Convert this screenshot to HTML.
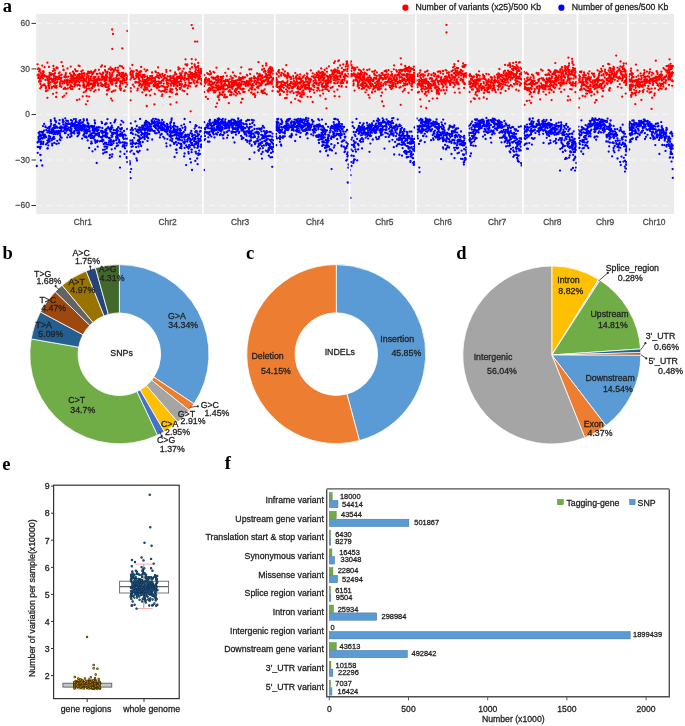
<!DOCTYPE html>
<html><head><meta charset="utf-8"><title>Figure</title><style>
html,body{margin:0;padding:0;background:#fff;width:685px;height:726px;overflow:hidden;}
svg{display:block;}
text{font-family:"Liberation Sans",Arial,sans-serif;}
text.t{fill:#222;stroke:#222;stroke-width:0.28px;}
text.g{fill:#4D4D4D;stroke:#4D4D4D;}
text.pl{font-family:"Liberation Serif","Times New Roman",serif;font-weight:bold;font-size:18.5px;fill:#000;}
</style></head><body>
<svg width="685" height="726" viewBox="0 0 685 726">
<rect width="685" height="726" fill="#fff"/>
<rect x="36.2" y="13.9" width="637.8" height="200.1" fill="#EBEBEB"/>
<line x1="36.2" x2="674" y1="23.4" y2="23.4" stroke="#F7F7F7" stroke-width="1.1" stroke-dasharray="5.5 5.3"/>
<line x1="36.2" x2="674" y1="68.9" y2="68.9" stroke="#F7F7F7" stroke-width="1.1" stroke-dasharray="5.5 5.3"/>
<line x1="36.2" x2="674" y1="114.5" y2="114.5" stroke="#F7F7F7" stroke-width="1.1" stroke-dasharray="5.5 5.3"/>
<line x1="36.2" x2="674" y1="160.0" y2="160.0" stroke="#F7F7F7" stroke-width="1.1" stroke-dasharray="5.5 5.3"/>
<line x1="36.2" x2="674" y1="205.5" y2="205.5" stroke="#F7F7F7" stroke-width="1.1" stroke-dasharray="5.5 5.3"/>
<path d="M37.5 64.3h0M37.7 69.1h0M37.7 75.2h0M38.3 77.9h0M38.5 74.5h0M38.6 76.9h0M38.6 68.3h0M39 71.4h0M39.1 81.7h0M39.5 80.9h0M39.5 69h0M39.6 75.1h0M39.9 78.3h0M39.9 70.1h0M40.1 79.2h0M40.1 78.6h0M40.2 79.7h0M40.2 88.3h0M40.3 72.1h0M40.4 84h0M40.6 80.4h0M40.7 81.4h0M40.8 72.9h0M40.8 77.5h0M40.9 77h0M41.2 86.9h0M41.4 77.7h0M41.7 85.8h0M41.8 75.5h0M41.8 75.2h0M42.3 77.5h0M42.3 65.6h0M42.6 74.4h0M42.8 74h0M42.8 76.6h0M43 78.6h0M43.1 71.9h0M43.2 71.2h0M43.3 85h0M43.3 71.5h0M43.4 74.6h0M43.8 72.1h0M43.9 74.9h0M44.2 84.9h0M44.5 84.5h0M44.6 67.2h0M44.9 76.3h0M45.5 86.1h0M45.5 75.9h0M45.5 80h0M45.9 88.6h0M45.9 91.2h0M46 87.2h0M46.3 76.5h0M47.4 78.5h0M47.4 97.8h0M47.4 76.6h0M47.4 62.7h0M47.5 90.4h0M47.8 80h0M48.3 83.2h0M48.3 85.5h0M48.4 81.5h0M48.5 79.1h0M48.6 80h0M48.9 86.9h0M49 81.3h0M49 66.9h0M49.1 84.6h0M49.2 88.3h0M49.3 77h0M49.5 75.1h0M49.5 75.9h0M49.6 85h0M49.6 72.8h0M49.7 83.1h0M49.7 78.9h0M50 82.2h0M50.3 79.3h0M50.6 74.6h0M50.8 75.2h0M50.8 78.9h0M50.9 73.4h0M51.2 78.4h0M51.2 73.7h0M51.7 87h0M51.7 88h0M51.8 74.5h0M51.9 87h0M52.1 80.8h0M52.2 79.6h0M52.2 81.8h0M52.4 81.7h0M52.9 71.1h0M53.1 93.8h0M53.2 74.1h0M53.4 66h0M53.4 79.1h0M53.5 79.4h0M53.8 75.1h0M53.8 68.8h0M53.8 86.2h0M53.8 78.8h0M53.8 80.4h0M53.9 76.1h0M53.9 78.4h0M54.1 75.5h0M54.2 81.8h0M54.4 79.1h0M54.5 83.3h0M54.5 83.2h0M54.6 80.2h0M54.6 80.3h0M54.9 86.2h0M54.9 70.4h0M55 80.3h0M55.1 87.5h0M55.1 73.2h0M55.1 83.8h0M55.3 76.6h0M55.4 86.9h0M55.5 78.1h0M55.6 78.6h0M56 83h0M56.1 97h0M56.4 68h0M56.5 92.7h0M56.6 79.4h0M56.6 77.3h0M56.6 85.8h0M56.7 87.7h0M56.8 67.4h0M57.3 82h0M57.6 67.9h0M57.7 76.9h0M57.7 79.5h0M58.1 77.3h0M58.6 76.4h0M58.8 73.3h0M58.9 77.6h0M59.5 79.4h0M59.5 79.2h0M59.6 72.5h0M59.6 75.6h0M59.7 86.1h0M59.9 84h0M60.1 78.4h0M60.1 83.9h0M60.2 82.6h0M60.4 85.9h0M60.4 81.9h0M60.5 78h0M61.2 74.8h0M61.3 80.5h0M61.3 86.9h0M61.4 81h0M61.5 62.2h0M61.6 74.8h0M61.7 77.8h0M62.4 83.6h0M62.7 97.1h0M62.8 81.7h0M62.8 66.2h0M63.3 69.8h0M63.7 88.9h0M63.7 70h0M64.3 82.5h0M64.3 76.9h0M64.4 95.7h0M64.5 80.3h0M64.6 83h0M64.9 77.1h0M64.9 80.5h0M64.9 87.6h0M65.3 75.6h0M65.4 77h0M65.5 77.6h0M65.6 75.2h0M65.6 74.7h0M65.7 81.2h0M65.7 88.9h0M65.8 89h0M65.9 73.2h0M66.3 76.9h0M66.3 80.4h0M66.4 93.4h0M66.8 80.8h0M67 80.8h0M67 82.9h0M67.3 85h0M67.5 68.5h0M67.5 79.7h0M67.8 84.5h0M67.8 88.5h0M67.9 85.1h0M68.3 76.8h0M68.3 76.6h0M68.5 82.2h0M69.1 80.6h0M69.3 82.7h0M69.9 87.3h0M70 73.4h0M70.6 78.7h0M70.7 66.6h0M70.8 85.2h0M70.8 81.7h0M70.8 75.8h0M71 82.3h0M71.1 88.9h0M71.2 86.3h0M71.2 80.3h0M71.3 78.9h0M71.3 81.4h0M71.4 75.1h0M71.5 75.1h0M71.5 79h0M71.6 80.7h0M71.6 82.3h0M71.6 77.7h0M71.7 75.6h0M72.2 80.5h0M72.2 78.2h0M72.2 82.7h0M72.4 89h0M72.8 86.6h0M72.9 76.4h0M73 78.2h0M73 71.7h0M73.2 80.5h0M73.6 75.8h0M73.9 73.2h0M73.9 75.1h0M74.2 84.3h0M74.4 81.8h0M74.4 80h0M74.4 86.5h0M74.7 78h0M75 74.9h0M75.1 83.5h0M75.1 69.4h0M75.2 82.4h0M75.2 81.9h0M75.4 82.1h0M75.8 84.8h0M75.9 78.3h0M76.1 80.6h0M76.1 71.2h0M76.4 77.2h0M76.5 77.6h0M76.8 82h0M77 100.1h0M77.1 81.2h0M77.4 85.6h0M77.4 75.2h0M77.4 80.9h0M77.4 71.1h0M77.5 76.5h0M77.6 75.9h0M77.6 79.4h0M78.1 79.5h0M78.3 76.9h0M78.3 75.4h0M78.5 84.8h0M78.6 77.8h0M78.6 65.6h0M78.6 81.2h0M79.2 82.1h0M79.3 84.6h0M79.3 89h0M79.3 73.8h0M79.4 99.4h0M79.5 78.9h0M79.5 77h0M79.6 66.2h0M80 85.8h0M80 74.5h0M80.1 77h0M80.3 78.3h0M80.5 77.8h0M81 80.7h0M81.3 71.4h0M81.4 77h0M81.8 78.6h0M81.9 73.4h0M82.1 75.4h0M82.2 77.9h0M82.7 96.3h0M82.7 70.4h0M82.8 77.6h0M83 81h0M83.1 85.5h0M83.3 82.5h0M83.6 86.6h0M83.6 73.3h0M83.7 79h0M83.7 92.3h0M83.7 80.4h0M83.8 76.8h0M83.9 79.5h0M84.1 86h0M84.1 73.2h0M84.2 84.5h0M84.3 87.6h0M84.5 86.7h0M84.5 80.6h0M84.5 74.8h0M84.6 73.8h0M84.8 79.3h0M85.7 87.3h0M85.7 91.4h0M85.9 104.3h0M86 81.5h0M86.1 90.7h0M86.2 79.8h0M86.5 76.7h0M86.7 96.2h0M86.7 77.8h0M87 85.8h0M87.1 88.8h0M87.1 84.1h0M87.2 73.7h0M87.2 74.5h0M87.6 101.1h0M87.7 73.5h0M87.7 82.3h0M88.1 71.7h0M88.2 77.6h0M88.5 83h0M88.7 75.8h0M88.7 84.8h0M88.7 85.8h0M89 88.7h0M89.1 78.9h0M89.1 80.7h0M89.2 96.6h0M89.2 82.7h0M89.5 72.1h0M89.6 82.8h0M89.7 84.5h0M89.8 73.2h0M90 72.2h0M90.5 78.4h0M90.6 90.4h0M90.6 83.8h0M90.8 76.8h0M91 80.2h0M91.1 71.4h0M91.3 88.2h0M91.4 76.4h0M91.5 83.9h0M91.8 72.6h0M91.9 80.7h0M92.2 74.3h0M92.3 84h0M92.4 88.3h0M92.5 86.6h0M92.6 83.7h0M93 86.1h0M93.2 73.2h0M93.3 72.4h0M93.3 78.5h0M93.4 86.1h0M93.7 80.8h0M93.8 84h0M94 71.7h0M94 78.2h0M94 77.2h0M94.1 82.3h0M94.1 91.6h0M94.2 84.5h0M94.2 86.5h0M94.3 77.9h0M94.6 79.4h0M94.8 84.6h0M94.9 82.2h0M94.9 70.9h0M95 85.5h0M95 77.1h0M95.2 81.2h0M95.2 84h0M95.2 82.4h0M95.4 76.8h0M95.4 69.9h0M95.5 90.2h0M96 79.9h0M96.5 79.6h0M96.6 80.3h0M96.7 80.9h0M96.7 81.7h0M96.8 74h0M97 82.4h0M97.1 80.5h0M97.1 79.7h0M97.2 79.1h0M97.3 80.7h0M97.4 73.9h0M97.6 79.7h0M97.7 78.7h0M97.8 80h0M97.9 85.4h0M98.1 84.4h0M98.4 85.7h0M98.4 78.5h0M98.5 83.7h0M98.5 85.7h0M98.5 78.2h0M98.5 76.6h0M98.8 89.7h0M98.9 69.8h0M99 79.4h0M99.2 80.1h0M99.8 73.3h0M99.8 79.1h0M100.7 82.9h0M101.1 66.7h0M101.1 85.5h0M101.2 79.9h0M101.3 74.4h0M101.5 85.5h0M101.6 79.9h0M101.6 77h0M102 65.4h0M102.3 84.4h0M102.3 79.5h0M102.4 75.4h0M102.4 78.7h0M102.4 86.1h0M102.5 76.8h0M102.8 78.5h0M103 76.6h0M103 72.6h0M103.2 73.3h0M103.3 73.2h0M103.4 77.3h0M103.7 85.4h0M104.3 79.8h0M104.3 77.7h0M104.5 81.3h0M104.8 78.4h0M105 83.7h0M105 70.1h0M105 66.5h0M105.1 81.2h0M105.2 76.6h0M105.3 80.3h0M105.5 71.6h0M105.6 86.2h0M105.7 78.4h0M105.7 86.9h0M105.9 78.1h0M105.9 84.6h0M106 74.9h0M106 83h0M106.2 75.7h0M106.3 78.1h0M106.4 72.5h0M106.5 78.9h0M106.6 72.9h0M106.6 84.1h0M106.7 75.3h0M106.7 80.1h0M106.7 77.6h0M106.9 94.5h0M107 73.3h0M107 90.4h0M107.3 76.8h0M107.4 87.3h0M107.5 71.7h0M108.2 90h0M108.7 84.4h0M108.8 88.2h0M108.9 69.1h0M108.9 86h0M109.3 77.9h0M109.3 81.6h0M109.3 88.9h0M109.5 80.4h0M109.7 74.6h0M109.7 79.5h0M109.7 73h0M109.8 80.5h0M109.9 78.4h0M110.1 80.6h0M110.2 76.4h0M110.5 67.4h0M110.6 76.3h0M110.9 77.2h0M110.9 81.9h0M111 82.7h0M111 69.9h0M111.1 98.6h0M111.2 83.6h0M111.4 78.9h0M111.7 80.7h0M111.8 84.1h0M111.8 91.9h0M111.9 76.2h0M112 74.1h0M112.1 84.7h0M112.1 81.9h0M112.2 75.7h0M112.3 68.8h0M112.3 83.5h0M112.3 100.6h0M112.5 72.6h0M112.7 69.4h0M113.2 80.1h0M113.4 90.9h0M113.5 69.7h0M113.6 79.2h0M113.6 71.6h0M113.8 78.3h0M114 80.2h0M114.4 80.6h0M115 69.5h0M115 69.8h0M115.2 90.4h0M115.5 83.4h0M115.6 67.8h0M116 80.1h0M116.1 85.9h0M116.2 78h0M116.2 78.7h0M116.2 78.6h0M116.4 80.8h0M116.5 79.8h0M116.6 80.7h0M116.6 76.1h0M116.8 82.7h0M116.8 79.7h0M117 78.9h0M117.1 70.5h0M117.1 75.9h0M117.1 78.7h0M117.3 74.9h0M117.5 75.7h0M117.6 71.8h0M117.9 75.1h0M118 67.7h0M118.2 70.3h0M118.3 78.3h0M118.3 80.4h0M118.9 72.9h0M119.1 75.1h0M119.4 78.6h0M119.8 86.5h0M119.9 88.6h0M119.9 86.3h0M119.9 73.6h0M120 73.4h0M120 85.5h0M120 65.9h0M120.1 81.1h0M120.3 75.8h0M120.3 75.6h0M120.4 82.7h0M120.6 81.4h0M120.7 90h0M120.7 83.3h0M121.1 88.4h0M121.5 75.5h0M121.6 77.7h0M121.9 72.8h0M122 66.5h0M122.1 81.7h0M122.3 76h0M122.6 80.3h0M122.6 74.5h0M122.9 76.2h0M122.9 83.7h0M123.1 78h0M123.2 77.7h0M123.3 79.8h0M123.3 72.9h0M123.4 68.2h0M123.8 80.2h0M124 80.1h0M124.1 91h0M124.1 78.8h0M124.2 80.5h0M124.5 90.5h0M124.6 76.4h0M124.7 74.6h0M124.9 82.3h0M125 80.2h0M125.7 74.8h0M125.8 73.6h0M125.8 86.8h0M126.5 79.8h0M126.6 82.8h0M126.7 77.7h0M127 75.3h0M127.2 78.9h0M127.2 84.8h0M127.3 78.2h0M127.5 75.7h0M129.7 73.8h0M129.8 68.6h0M130 74.4h0M130 72.3h0M130.3 79.6h0M130.6 100.3h0M130.7 88.2h0M130.8 91.4h0M130.9 74.5h0M131 71.4h0M131.5 76.5h0M131.5 78.1h0M131.6 70.9h0M131.9 77.2h0M132.4 71.7h0M132.4 65h0M132.6 73.2h0M132.6 72h0M132.7 74.5h0M132.8 84.7h0M132.9 75.8h0M133.5 77.1h0M133.7 71.5h0M134.2 86.6h0M134.2 79.1h0M135.3 82.3h0M135.3 82.6h0M135.4 78.6h0M135.6 81.9h0M136.1 75.7h0M136.4 73.5h0M136.4 70.2h0M136.4 75.5h0M136.8 82.3h0M136.9 77h0M137 75.3h0M137.2 70.7h0M137.4 90.4h0M137.7 76.6h0M137.8 88.7h0M138 74.8h0M138.3 76.3h0M138.3 76h0M138.3 73.9h0M138.4 76.7h0M138.5 82.4h0M138.6 77h0M138.8 72.3h0M139 79.6h0M139 78.8h0M139.1 85.7h0M139.3 72.7h0M139.5 81.9h0M139.6 83.2h0M139.7 81.7h0M139.7 83.9h0M140 80.6h0M140.1 72.3h0M140.2 74.9h0M140.2 71.5h0M140.8 71.3h0M140.9 84.5h0M141 76.9h0M141.2 71.3h0M141.2 67h0M141.3 87.4h0M141.4 87.5h0M141.8 77.2h0M142.2 81.7h0M142.3 85.4h0M142.3 77.8h0M142.3 84.3h0M142.4 92.4h0M142.6 80.1h0M142.7 79.3h0M142.7 76.5h0M142.7 74.9h0M142.8 79.1h0M143.7 81.6h0M143.7 84h0M143.8 89.4h0M144.2 82.9h0M144.3 75h0M144.4 76.9h0M144.5 69.3h0M144.5 81.4h0M144.5 90.4h0M144.6 76h0M144.6 74.9h0M144.7 87h0M144.8 89.5h0M144.9 79.8h0M144.9 76.8h0M145 86.9h0M145.2 82.6h0M145.2 85h0M145.3 87.3h0M145.4 88.1h0M145.6 80.1h0M145.8 83h0M145.9 84.6h0M145.9 95.3h0M145.9 71.3h0M146.3 95h0M146.5 81.9h0M146.8 106h0M146.9 79.2h0M146.9 89.6h0M146.9 80.7h0M147.1 82.4h0M147.2 76.3h0M147.2 87.4h0M147.2 84.9h0M147.3 82.7h0M147.3 69.9h0M147.4 89.5h0M147.5 79.8h0M147.5 85h0M147.5 89.5h0M147.8 77.9h0M147.9 80.8h0M147.9 80.1h0M148.2 80.1h0M148.6 85h0M149 83.1h0M149.3 91.1h0M149.3 83.9h0M149.3 86.2h0M149.4 83.4h0M149.5 78h0M149.6 79.9h0M149.8 79.5h0M150.3 76.2h0M150.3 95.4h0M150.4 79.9h0M150.9 82.6h0M151.2 83h0M151.2 89.7h0M151.3 79.5h0M151.5 76.2h0M151.7 76.9h0M151.7 83h0M151.7 79h0M152 77.4h0M152.1 72.5h0M152.2 75.8h0M152.2 81.7h0M152.4 82h0M152.8 81.6h0M153.2 81.2h0M153.5 85.2h0M153.6 78.2h0M153.7 86.3h0M154.4 104.4h0M154.4 80.5h0M154.5 85.6h0M154.7 83.8h0M154.8 93.9h0M154.9 78.1h0M155.2 82.5h0M155.2 83.1h0M155.2 79.9h0M155.3 81.3h0M155.4 86.3h0M155.5 71.4h0M155.6 84.9h0M155.6 77.1h0M156 72.3h0M156.1 85.8h0M156.1 81.9h0M156.8 86.9h0M156.9 76.6h0M157.1 84.2h0M157.3 88.4h0M157.3 75.1h0M157.7 77.3h0M157.8 87.2h0M158.1 75.8h0M158.1 81.3h0M158.1 67.4h0M158.2 72.9h0M158.2 85.4h0M158.5 83.8h0M158.8 87.1h0M158.8 81.6h0M159.1 82h0M159.1 78.2h0M159.2 81.8h0M159.2 90.4h0M159.5 86.8h0M159.9 74.5h0M160 75.9h0M160.5 83.1h0M160.8 83h0M160.9 83.2h0M161.1 82.1h0M161.2 91.5h0M161.3 77.3h0M161.4 85.8h0M161.6 81.4h0M161.7 96.1h0M161.9 80.9h0M162.2 74.8h0M162.4 94.5h0M162.4 73.8h0M162.9 79.6h0M162.9 86.2h0M162.9 90.9h0M163 75.8h0M163.3 80.7h0M163.7 78.9h0M163.7 83.6h0M163.7 86.5h0M164.4 77.3h0M164.4 87.4h0M164.6 77.2h0M164.7 91.3h0M164.7 87.2h0M164.8 90.1h0M164.9 74.9h0M165 91.7h0M165.4 88.4h0M165.9 78.4h0M166.3 80.8h0M166.3 70h0M166.4 71.9h0M166.5 78.6h0M166.6 78.2h0M166.7 92.1h0M166.8 86.9h0M167 83.8h0M167 83h0M167.1 89.6h0M167.4 87.2h0M167.5 86.7h0M167.6 76.2h0M167.6 79.7h0M167.7 83.8h0M168 83.5h0M168.2 80.4h0M168.3 85.8h0M168.7 83.4h0M169.5 91.4h0M169.7 96.8h0M169.7 76.6h0M170 79.9h0M170.3 79.3h0M170.3 79.9h0M170.3 70.7h0M170.3 80.8h0M170.4 89.2h0M170.5 104.4h0M170.5 78h0M170.5 76h0M170.5 77.7h0M170.7 77.3h0M170.7 80.9h0M170.8 90.1h0M170.9 85.8h0M170.9 91.9h0M171 84h0M171.5 89.4h0M171.5 81.4h0M171.7 82.8h0M172.1 92.6h0M172.1 77.8h0M172.3 77.7h0M172.4 89.5h0M172.5 81.1h0M172.6 77.9h0M172.8 83.5h0M172.9 77.1h0M173.4 80.6h0M173.5 75.7h0M173.5 80.6h0M173.6 82.6h0M173.7 78.8h0M173.7 77.2h0M173.8 80.2h0M173.8 84h0M173.9 85.9h0M174 83.6h0M174.1 84.6h0M174.1 80.3h0M174.1 80.5h0M174.2 81.9h0M174.6 81.3h0M174.8 80.2h0M175.1 72.4h0M175.2 74.4h0M175.3 84.2h0M175.6 78.6h0M175.8 82.7h0M175.8 81.4h0M175.8 82.2h0M175.9 84.3h0M176 88.3h0M176 94.4h0M176.2 79.6h0M176.4 74.1h0M176.5 85.6h0M176.6 77.8h0M176.6 102.4h0M176.6 79h0M176.7 85h0M176.7 81.8h0M176.9 81.1h0M176.9 93.7h0M176.9 79.2h0M176.9 90h0M177.1 94.2h0M177.2 76.7h0M177.2 80.5h0M177.4 79.1h0M177.4 78.3h0M177.4 82.6h0M177.5 86.2h0M178 82.5h0M178.4 82.3h0M178.4 67.5h0M178.4 69.6h0M178.4 82.6h0M178.6 82.1h0M179 77.9h0M179.2 76.4h0M179.3 83.4h0M179.4 85.1h0M179.8 68.6h0M179.9 73.5h0M179.9 88h0M180 89.2h0M180.1 83.9h0M180.2 78h0M180.2 76.2h0M180.3 81.1h0M180.8 88.1h0M180.8 77.8h0M180.9 75.6h0M180.9 79h0M181.3 81.6h0M181.4 75.6h0M181.4 79.1h0M181.4 85.1h0M181.5 78.2h0M181.5 86h0M181.5 73.4h0M181.7 76.1h0M181.9 84.2h0M182.1 77.4h0M182.5 71.4h0M182.6 90.4h0M183.5 78.8h0M183.7 68.7h0M183.9 86.6h0M184 78.8h0M184.1 85.8h0M184.1 78.2h0M184.4 91.2h0M184.6 86.7h0M184.6 80.6h0M184.6 76.8h0M184.6 75.5h0M185 75.1h0M185.1 84.8h0M185.1 73.5h0M185.2 73.2h0M185.4 82.8h0M185.4 78.2h0M185.5 59.3h0M185.5 64.5h0M185.6 72.6h0M186.1 72.9h0M186.2 85.4h0M186.5 79.2h0M187 65.6h0M187 78.8h0M187.3 94.1h0M187.3 64.3h0M187.7 88.2h0M187.8 74.4h0M188.3 85.9h0M188.4 79.9h0M188.4 76.7h0M188.5 78.1h0M188.7 75.1h0M188.7 80.4h0M188.9 76.6h0M189.1 82.6h0M189.1 78.1h0M189.2 83.7h0M189.5 72h0M189.8 83h0M189.9 71.7h0M190 77.9h0M190.1 77.2h0M190.1 68.8h0M190.1 74.9h0M190.2 86.3h0M190.5 72.6h0M190.7 111.3h0M190.9 73.7h0M191.3 77.4h0M191.4 83.1h0M191.6 74.6h0M191.6 76.8h0M191.8 63.6h0M191.9 77.5h0M191.9 73h0M192 67.2h0M192 78.5h0M192.1 79.7h0M192.1 67.5h0M192.8 75.7h0M193 74h0M193.2 76.3h0M193.6 81.7h0M194.1 76.9h0M194.3 80.2h0M194.5 83.4h0M194.5 76.4h0M194.6 64.5h0M194.7 65.4h0M194.8 75h0M195 73.8h0M195.3 71.6h0M195.3 66.8h0M195.4 72.7h0M195.5 77.3h0M195.5 76.8h0M195.6 68h0M195.7 59.6h0M195.7 78.1h0M195.8 86.3h0M195.8 69.9h0M195.9 74.9h0M196.2 73.7h0M196.5 67.3h0M196.5 74h0M196.6 82h0M196.8 85.6h0M196.9 74.6h0M197.2 81h0M197.3 72.6h0M197.4 81.6h0M197.6 76.3h0M197.6 82.7h0M197.9 76.3h0M198 76.8h0M198 70.8h0M198.1 66.5h0M198.1 75.2h0M198.2 79.1h0M198.2 62.9h0M198.3 72.1h0M198.4 70.6h0M198.4 70.6h0M198.4 65.8h0M198.4 68.3h0M198.6 70.2h0M198.7 78.4h0M199.1 79h0M199.1 77.5h0M199.2 74.6h0M199.8 73.4h0M199.9 73.8h0M200 72.1h0M200.2 73.7h0M200.3 76.3h0M200.8 83.1h0M200.8 69h0M200.8 70.4h0M201 78.8h0M201.1 70.9h0M201.1 71.5h0M201.3 73.3h0M201.4 84.3h0M201.5 80.6h0M204.2 86.1h0M204.2 91.9h0M204.3 75.2h0M204.5 81.5h0M204.8 81.9h0M204.9 79.8h0M205 80.7h0M205 81.5h0M205.2 79.1h0M205.3 83.7h0M205.9 96.9h0M206.1 77.9h0M206.8 79.8h0M207 82.1h0M207.3 73.2h0M207.6 90.3h0M207.9 98.9h0M207.9 73.8h0M208 79.9h0M208.2 91.7h0M208.3 84.7h0M208.6 78.8h0M208.6 89.3h0M209 79.2h0M209.2 88.6h0M209.3 74.5h0M209.3 82.6h0M209.3 80.6h0M209.4 87.9h0M209.4 81.7h0M209.7 84.4h0M209.7 88.1h0M209.9 90.2h0M210 71.4h0M210 82h0M210.2 88.3h0M210.2 84.9h0M210.9 74h0M211.1 73.3h0M211.3 86.1h0M211.4 81.5h0M211.6 77.5h0M211.7 84.6h0M211.8 89.4h0M212 88.2h0M212.5 82.6h0M212.8 87.1h0M212.8 90.1h0M213 84.1h0M213.1 77.4h0M213.2 78.8h0M213.2 84.1h0M213.5 71.9h0M213.7 87.3h0M213.9 83.2h0M213.9 90.6h0M214 78.4h0M214 83.5h0M214.1 92.5h0M214.2 87.6h0M214.5 72.6h0M214.7 78.7h0M214.7 82.2h0M214.9 78h0M215.3 92.1h0M215.5 87.7h0M215.9 90.6h0M215.9 106.8h0M215.9 85.2h0M216 80h0M216.4 77.3h0M216.5 77.4h0M216.5 67.7h0M216.8 85.9h0M216.8 83.2h0M216.8 80.2h0M217.1 87.8h0M217.1 103.3h0M217.2 80.8h0M217.5 88.2h0M217.5 80.4h0M217.6 76.1h0M217.6 89.5h0M217.9 96.3h0M217.9 82.7h0M217.9 97h0M218 82.2h0M218 85.8h0M218 81.5h0M218.1 76.7h0M218.3 78.6h0M218.3 85.3h0M218.5 89.9h0M218.6 97.5h0M218.7 95.7h0M218.8 87.9h0M219.2 99.8h0M219.2 87.2h0M219.3 86.8h0M219.6 92.6h0M219.8 92.9h0M219.8 93.3h0M219.8 79.9h0M219.9 94.8h0M219.9 79.7h0M220 88.7h0M220.3 80.5h0M220.3 82.2h0M220.4 79.3h0M220.5 76.9h0M220.6 88.2h0M220.6 89.3h0M220.7 86.3h0M221 88.2h0M221.1 80h0M221.2 84.5h0M221.4 83.8h0M221.4 81.5h0M221.6 86.6h0M221.6 77.6h0M221.7 94.5h0M221.8 82.6h0M221.9 81.1h0M221.9 88.4h0M222 88h0M222 78.8h0M222.3 85.9h0M222.4 95.1h0M222.5 91.8h0M222.6 78.3h0M222.8 89.1h0M222.8 76.6h0M223.2 76.3h0M223.2 85.3h0M223.2 92.4h0M223.2 88.9h0M223.3 86.5h0M223.4 88.2h0M223.6 80.8h0M223.6 91.5h0M224.1 97.2h0M224.4 84h0M224.5 81.3h0M224.7 96.5h0M224.9 94.6h0M224.9 89.4h0M225.1 85.6h0M225.2 83.5h0M225.3 83.3h0M225.3 72.8h0M225.4 80.6h0M225.4 81h0M225.7 97.6h0M225.9 79.9h0M226.5 80.5h0M226.6 80.6h0M226.7 85.1h0M226.8 80.9h0M226.9 75.8h0M227 89.1h0M227 96.9h0M227.1 79.8h0M227.9 80.4h0M228 85.9h0M228.1 87.2h0M228.3 68.8h0M228.4 87.3h0M228.5 91.6h0M228.5 87.4h0M228.7 81.8h0M228.8 103.2h0M228.8 86.9h0M228.9 83h0M229 87.2h0M229.1 84h0M229.1 85h0M229.1 90.8h0M229.2 84.3h0M229.3 91.4h0M229.6 79.4h0M229.9 90.1h0M229.9 86.2h0M230.1 95.2h0M230.4 87.4h0M230.6 92h0M230.7 76.3h0M230.8 85.6h0M231 81.9h0M231.2 94.9h0M231.4 92h0M231.5 85.9h0M231.6 92.7h0M231.8 78.4h0M231.8 87.3h0M231.9 84.1h0M232.2 83.2h0M232.2 85.8h0M232.3 80.5h0M232.3 88.8h0M232.6 82.8h0M232.8 78h0M233 83.6h0M233 72.5h0M233.1 86.7h0M233.1 84.5h0M233.2 80.9h0M233.5 86.1h0M233.7 94.3h0M233.7 83.8h0M233.9 85.5h0M234.2 82h0M234.4 84.4h0M234.5 75.6h0M234.6 91.4h0M234.9 90.1h0M235 80.8h0M235.1 90.4h0M235.2 82.6h0M235.5 84.5h0M235.8 95.6h0M235.8 80.6h0M235.9 76.6h0M235.9 83.2h0M236 92.3h0M236 89h0M236 90.3h0M236.1 85.1h0M236.4 82h0M236.9 88.7h0M237.3 93.8h0M237.3 85h0M237.4 84.4h0M237.4 89h0M237.5 88.6h0M237.6 79.9h0M237.6 84.6h0M237.7 86.8h0M238 87.5h0M238.2 83.1h0M238.3 83.5h0M238.4 85h0M238.8 91.8h0M238.8 86.1h0M239.1 87.5h0M239.1 83.5h0M239.2 77.4h0M239.3 78.5h0M239.3 80.3h0M239.5 83.2h0M239.8 85.6h0M240 93.6h0M240 86.5h0M240 85.7h0M240.2 88.5h0M240.2 84.1h0M240.3 84.2h0M240.3 73.4h0M240.7 80.6h0M240.8 85.8h0M241.1 79.3h0M241.1 102.5h0M241.1 77.9h0M241.2 79.2h0M241.3 67.3h0M241.5 89.6h0M241.5 84h0M241.7 84.2h0M241.8 81.9h0M242.2 99h0M242.3 88.9h0M242.6 98.9h0M242.6 81.7h0M243 77.9h0M243.1 89.6h0M243.2 92h0M243.2 76.9h0M243.4 78.6h0M243.5 77.2h0M243.8 88.6h0M243.9 84.3h0M244.2 81.9h0M244.6 91.9h0M244.7 83.7h0M244.9 83.3h0M245.3 77.3h0M245.9 85.3h0M245.9 85.9h0M245.9 85.3h0M246.1 85.7h0M246.2 82.1h0M246.6 83.9h0M246.8 85.2h0M246.9 74.8h0M246.9 81h0M247.3 84.5h0M247.3 75.6h0M247.4 85.7h0M247.7 82.6h0M248.1 83.1h0M248.5 85.7h0M248.7 84.6h0M248.8 82h0M248.9 90.4h0M249.1 84.5h0M249.3 81h0M249.3 80.8h0M249.3 80.7h0M249.4 69.4h0M249.6 78.6h0M249.6 83.1h0M249.6 83h0M249.6 82.3h0M249.9 79.9h0M249.9 83.9h0M250.1 73.9h0M250.3 88.3h0M250.7 78.6h0M250.9 79.3h0M251 88.4h0M251.1 92.7h0M251.1 79h0M251.2 85.6h0M251.3 69.3h0M251.5 78.1h0M251.6 92.6h0M251.6 84.6h0M251.7 86.1h0M251.7 80.6h0M251.7 81.6h0M251.9 89.7h0M252.3 87.6h0M252.5 85.8h0M252.7 84.1h0M253.2 94.4h0M253.6 85.4h0M253.8 78.2h0M254.1 76.4h0M254.2 81.2h0M254.4 93.6h0M254.4 82.4h0M254.4 78.5h0M254.5 89.3h0M255 97.1h0M255 80.9h0M255.3 89.6h0M255.3 95.3h0M255.3 78h0M256.1 84.2h0M256.9 78.7h0M256.9 82.7h0M257.1 81.8h0M257.1 73.4h0M257.1 87.4h0M257.4 80.8h0M257.7 86.6h0M257.7 92.3h0M258 77.8h0M258.2 76.8h0M258.2 79.5h0M258.3 87.9h0M258.3 78.9h0M258.5 75.3h0M258.5 62.2h0M258.8 76.9h0M258.8 76.9h0M258.8 85.6h0M258.8 82.9h0M258.9 79.5h0M259.5 73.9h0M260 85.7h0M260.1 74.3h0M260.2 75.7h0M260.4 84h0M260.5 75.8h0M260.5 83.3h0M260.5 79.2h0M261.2 80.4h0M261.4 77.4h0M261.5 85.1h0M261.5 91.9h0M261.7 90.4h0M261.9 80.6h0M262 81.5h0M262.1 69.7h0M262.1 75.4h0M262.1 81h0M262.2 83.2h0M262.4 78h0M262.7 81.5h0M262.7 65.8h0M262.8 93.2h0M262.9 77.5h0M263.3 91.2h0M263.9 71.8h0M264 81.8h0M264 68.6h0M264.1 80.3h0M264.4 71.2h0M264.6 89.4h0M264.6 70.6h0M264.6 76.9h0M264.9 93.2h0M265.4 80.6h0M265.5 85.1h0M265.6 71.3h0M265.6 73.6h0M265.8 76.4h0M265.9 73.9h0M266.1 75.2h0M266.2 79.4h0M266.2 65.5h0M266.2 63.4h0M266.3 77.3h0M266.3 84.2h0M266.5 79.5h0M266.7 94.3h0M266.8 76.9h0M266.8 78.5h0M267.3 76h0M267.5 81.7h0M267.6 75.5h0M267.8 83.9h0M268.1 80h0M268.2 79.3h0M268.2 70.5h0M268.3 72.5h0M268.7 74.9h0M268.8 81.7h0M268.8 77.6h0M268.9 71h0M269 68.6h0M269.2 83.6h0M269.6 77.9h0M269.8 75h0M269.8 73.7h0M269.9 75.6h0M269.9 72h0M270 83.6h0M270.2 67.2h0M270.3 82h0M270.4 75.5h0M270.4 72.9h0M270.7 69.5h0M270.8 70.9h0M271 71.2h0M271.1 69h0M271.2 76.8h0M271.2 71.9h0M271.7 67.7h0M271.8 80.3h0M271.9 83.9h0M272.1 81.7h0M272.2 68.5h0M272.3 69.5h0M272.4 78.3h0M272.5 90.9h0M272.6 73.7h0M272.9 70.7h0M273.2 86.8h0M273.3 79.6h0M273.7 78.1h0M276 85.3h0M276 86.5h0M276.1 82.3h0M276.1 82.9h0M276.2 79.5h0M276.3 73.4h0M276.3 81.7h0M276.4 77.9h0M276.6 84.4h0M276.7 83.8h0M276.8 79.5h0M277 84.9h0M277 74.4h0M277.1 83.4h0M277.1 82.1h0M277.2 87.1h0M277.2 83.7h0M277.3 86.9h0M277.5 84h0M277.6 91.3h0M277.6 81.3h0M278.2 71.5h0M278.4 92h0M278.6 71.6h0M278.6 82.1h0M278.8 76.5h0M278.8 87.2h0M279 70.1h0M279.2 87.6h0M279.2 91.4h0M279.3 72.8h0M279.4 88.8h0M279.9 94.9h0M279.9 82.1h0M280 86.1h0M280 87.2h0M280.2 94.1h0M280.4 90.1h0M280.7 88.9h0M280.9 75h0M281.1 89.6h0M281.2 82.5h0M281.3 84.5h0M281.3 75.7h0M281.7 86.8h0M281.7 72.8h0M281.8 82h0M282.1 86.6h0M282.2 91h0M282.7 85.5h0M282.8 69.4h0M282.9 81.4h0M283.2 85h0M283.3 81.8h0M283.6 74h0M283.7 87.8h0M283.9 92h0M284.1 75h0M284.8 71.5h0M284.8 85.1h0M284.8 83h0M285.1 76.3h0M285.1 98.2h0M285.4 75.4h0M285.4 83.7h0M286.1 89.4h0M286.2 83.1h0M286.3 65.2h0M286.4 86.4h0M286.6 76.6h0M286.8 97.8h0M286.9 82.7h0M287.2 78.5h0M287.2 91.9h0M287.2 94.6h0M287.2 82.5h0M287.3 77.2h0M287.4 76.2h0M287.4 87h0M287.6 81.1h0M287.6 91.2h0M287.6 73.1h0M287.7 74.5h0M287.9 75.8h0M288 84.7h0M288.2 85.1h0M288.5 73.9h0M288.7 88.3h0M288.7 75.8h0M288.9 85.4h0M289.2 88.4h0M289.3 88.2h0M289.6 77h0M290 84h0M290.1 85.6h0M290.2 92.2h0M290.6 76.9h0M290.9 77.6h0M290.9 81.8h0M291.1 79.2h0M291.1 102.4h0M291.5 86.9h0M291.6 82.9h0M291.6 83.2h0M291.6 87.1h0M291.7 82.5h0M291.8 88h0M291.9 87.6h0M292 91.1h0M292.6 83.2h0M292.7 88.2h0M292.8 86.9h0M293.2 76.1h0M293.4 84.4h0M293.5 84.3h0M293.7 93h0M293.7 87.2h0M293.7 78.5h0M293.9 81h0M294 83.9h0M294.5 85.3h0M294.9 84h0M295.1 82.1h0M295.2 86.3h0M295.2 98.8h0M295.3 73.1h0M296 78h0M296 85.5h0M296.2 76.5h0M296.3 92.2h0M296.3 77.2h0M296.5 83.6h0M296.6 79.6h0M296.9 95.3h0M296.9 83.9h0M296.9 81.4h0M297 78.7h0M297 81.8h0M297.3 82.3h0M297.4 88.2h0M297.5 74.9h0M297.7 83.6h0M298 86.1h0M298.1 86.7h0M298.2 91.7h0M298.2 89h0M298.3 93.5h0M298.3 83.6h0M298.5 100.3h0M298.5 83.4h0M298.5 91.9h0M298.6 87.1h0M299 88.3h0M299 78.9h0M299.1 93.2h0M299.1 93.4h0M299.2 77.2h0M299.4 82.5h0M299.4 93.6h0M299.5 76.8h0M299.5 93.3h0M299.7 77.9h0M300.1 96.3h0M300.1 83.7h0M300.1 89.4h0M300.2 101.4h0M300.3 93.5h0M300.3 74.4h0M300.7 88.3h0M300.7 82.7h0M300.8 79.7h0M301 80.7h0M301.2 81.9h0M301.2 86.5h0M301.5 94.9h0M301.7 85.4h0M301.8 97.2h0M301.8 78.3h0M301.9 87.7h0M302 87.1h0M302.1 86.4h0M302.1 92.1h0M302.5 91h0M302.8 94.3h0M302.9 81.2h0M303.1 77.1h0M303.2 83.4h0M303.3 90.4h0M303.4 76.3h0M303.5 85.7h0M303.8 92.9h0M303.9 94.6h0M303.9 82.7h0M304.4 75.3h0M304.5 85.9h0M304.5 87.3h0M304.5 85.2h0M304.7 88.5h0M304.7 86.7h0M305.2 82.1h0M305.2 87.7h0M305.5 78.1h0M305.9 89h0M306 79.3h0M306 81.4h0M306.1 85.6h0M306.2 85h0M306.6 85.1h0M306.9 73.5h0M307 87.9h0M307.1 76.3h0M307.1 77.3h0M307.3 85.1h0M307.5 73.8h0M307.6 96.8h0M307.6 81.7h0M307.7 82.3h0M307.9 82.9h0M308 78.2h0M308.1 85.3h0M308.2 84h0M308.2 84.1h0M308.3 83.6h0M308.5 88.9h0M308.7 79.6h0M308.7 83.4h0M308.9 86.1h0M308.9 79.7h0M308.9 87.3h0M309.1 88.5h0M309.2 84.3h0M309.3 83.9h0M309.5 82.4h0M309.7 89.7h0M309.8 91.5h0M310.2 78.7h0M310.3 81.8h0M310.3 81.3h0M310.8 96.9h0M310.8 70.4h0M311.1 88.3h0M311.2 79.5h0M311.3 89.3h0M312 76.6h0M312.5 85.3h0M312.7 102h0M312.7 73.3h0M313.3 76.3h0M313.5 89.9h0M313.5 86h0M313.5 80.9h0M313.7 83.3h0M314 77.3h0M314.2 85.8h0M314.3 92.7h0M314.4 87.1h0M314.4 82.9h0M314.6 78.7h0M314.7 77.5h0M314.8 74.6h0M315.7 80.3h0M315.8 82.7h0M316.1 77.3h0M316.1 82.1h0M316.4 84.2h0M316.4 84.2h0M316.6 76.1h0M316.8 72.8h0M317.1 73.8h0M317.1 90.6h0M317.2 75h0M317.3 87.8h0M317.4 83.3h0M318.2 77.8h0M318.3 88.8h0M318.4 88.2h0M318.4 85.4h0M318.6 71.3h0M318.8 74.8h0M318.8 75.8h0M319 80.2h0M319 80.2h0M319 79.2h0M319 85.1h0M319.2 72.6h0M319.3 83.1h0M319.4 76.2h0M319.7 90.6h0M319.7 78.6h0M319.8 80h0M320.2 72.9h0M320.2 95.7h0M320.5 77.5h0M320.8 76h0M320.8 82.2h0M321.2 73h0M321.2 68.5h0M321.2 75.5h0M321.4 75.9h0M321.4 72.8h0M321.5 78h0M321.5 73.4h0M321.6 77.1h0M321.7 84.4h0M322 86.5h0M322.1 73.7h0M322.1 77h0M322.2 84.3h0M322.3 80.2h0M322.3 71.9h0M322.4 90.3h0M322.4 85.6h0M322.4 76.3h0M322.5 75.6h0M322.5 87.1h0M322.8 86h0M322.8 89.6h0M322.9 72.2h0M323 80.2h0M323.2 93.6h0M323.3 74.3h0M323.3 80.3h0M323.4 82.8h0M323.5 86.9h0M323.7 73.2h0M323.8 78.6h0M323.8 77.8h0M324.2 78h0M324.4 77.5h0M324.5 75.2h0M324.7 70h0M325 86h0M325.1 80.3h0M325.1 74.4h0M325.2 87.8h0M325.4 81.5h0M325.4 89.1h0M325.6 99h0M325.8 84h0M325.9 84h0M326.1 82.3h0M326.2 87.2h0M326.5 108.3h0M326.7 68.3h0M326.8 80.3h0M326.9 84.9h0M326.9 75.9h0M327 71.8h0M327.3 89.5h0M327.5 81.9h0M327.7 77.6h0M327.7 84.1h0M327.7 76.6h0M327.8 86.3h0M327.9 83h0M328 79.8h0M328.1 76.6h0M328.2 78.8h0M328.2 83h0M328.5 81h0M328.8 91h0M328.9 66.4h0M329 81.1h0M329.1 80.4h0M329.6 77h0M329.8 75.1h0M329.9 76.4h0M330.3 82.2h0M330.5 87.8h0M330.7 79.1h0M330.7 82.7h0M330.9 81.2h0M330.9 78h0M331.2 76.5h0M331.4 70.4h0M331.6 78.6h0M331.8 87.6h0M332 74.2h0M332.6 72h0M332.8 86.8h0M332.8 73.8h0M333.4 76h0M333.6 80.1h0M333.6 76h0M333.7 74.7h0M333.7 73.6h0M333.8 70.3h0M333.9 77h0M334 76.9h0M334.1 62.9h0M334.2 83h0M334.3 91.6h0M334.3 78.8h0M334.6 72.2h0M334.7 70.2h0M334.7 96.2h0M334.8 69.5h0M334.9 83.4h0M334.9 61.4h0M335.2 80.3h0M335.5 69.9h0M335.6 77.8h0M335.6 72.1h0M335.6 80.6h0M335.8 75.4h0M336.5 75.8h0M336.5 75.4h0M336.6 71.3h0M336.7 78.4h0M336.8 77.7h0M337.2 83.2h0M337.3 76.4h0M337.3 78.4h0M337.3 70.5h0M337.4 89.7h0M337.5 79.7h0M337.7 72.9h0M337.9 67.8h0M337.9 76.6h0M338.1 82.1h0M338.1 61.1h0M338.6 71.9h0M338.7 71h0M338.9 60.5h0M339 79.6h0M339.1 73.1h0M339.1 85.9h0M339.1 72.1h0M339.2 72.6h0M339.3 96.6h0M339.3 79.7h0M339.7 75.7h0M339.8 76h0M340.1 65.4h0M340.1 75.9h0M340.3 75.4h0M340.5 75.4h0M340.6 83.6h0M340.6 77.2h0M340.7 82.1h0M341 73.5h0M341.5 86.7h0M341.6 80.5h0M341.7 72.5h0M341.8 86h0M341.8 82.9h0M341.9 68.1h0M342 81.5h0M342 73.9h0M342.6 71.8h0M342.8 79.6h0M343.2 83h0M343.3 64.5h0M343.5 76.4h0M343.9 70h0M344 77.3h0M344.3 70.6h0M344.4 80.3h0M344.5 80.6h0M344.8 78.5h0M344.9 76h0M345 76h0M345.2 74.2h0M345.4 69.7h0M345.4 75.2h0M345.8 66.5h0M346.2 75.6h0M346.2 86.9h0M346.4 64.1h0M346.5 61.6h0M347 82.8h0M347.1 61.3h0M347.1 81.5h0M347.2 63h0M347.4 71.2h0M347.6 69h0M347.7 76.4h0M347.9 65.5h0M348 66.8h0M348.3 73.8h0M351.1 74.4h0M351.1 76.3h0M351.4 65.3h0M351.4 70.9h0M351.5 74h0M351.9 68.3h0M352.2 75.7h0M352.5 67.1h0M352.7 75.6h0M352.9 74.8h0M353.2 75.3h0M353.3 68.2h0M353.5 85.4h0M353.5 81.6h0M353.7 80.5h0M353.7 83.8h0M353.7 74.9h0M353.8 73.4h0M354 75.4h0M354.2 75.5h0M354.2 70.4h0M354.2 69.5h0M354.6 68.9h0M354.6 90.6h0M354.7 75.8h0M354.9 67.9h0M355.4 74.3h0M355.4 69.3h0M355.7 79.4h0M355.9 77.2h0M356 80.6h0M356.5 77.7h0M357 75.7h0M357.1 80.5h0M357.2 67.3h0M357.6 86.3h0M357.8 73.5h0M357.9 84.2h0M358 76.6h0M358.1 82.5h0M358.4 78h0M358.6 78h0M358.6 82.8h0M358.7 85.1h0M358.8 82.4h0M358.9 78.4h0M358.9 74h0M358.9 69.7h0M359.1 88h0M359.2 76.1h0M359.5 81.2h0M359.7 78.6h0M359.9 77h0M359.9 74.4h0M360 76.5h0M360.1 78.9h0M360.2 70.3h0M360.3 77.3h0M360.8 79h0M360.9 72.7h0M360.9 85.2h0M361.2 84.2h0M361.2 71.1h0M361.6 80.2h0M361.7 88.9h0M361.7 74.8h0M362 72.6h0M362 83.5h0M362.1 86.4h0M362.6 79.7h0M362.7 77.5h0M362.7 82.7h0M362.8 84.5h0M363 76.6h0M363.1 76.6h0M363.2 88.2h0M363.2 85.7h0M363.2 81.3h0M363.3 83h0M363.4 78.4h0M363.6 76.9h0M363.6 69.5h0M363.6 77.7h0M364 74.7h0M364.1 88.3h0M364.1 83.6h0M364.2 74h0M364.3 87.8h0M364.4 72.6h0M364.5 76.9h0M364.7 79.2h0M365.1 80.7h0M365.2 86.4h0M365.3 86h0M365.4 83h0M365.5 92.3h0M365.7 73.5h0M366.2 85.9h0M366.2 83.7h0M366.6 89.9h0M366.7 79.5h0M366.9 80.5h0M367 74.5h0M367.2 70.1h0M367.4 77.7h0M367.5 85.3h0M367.8 79.5h0M368.1 79.2h0M368.1 81.1h0M368.1 86.7h0M368.1 78.9h0M368.2 87.4h0M368.3 81.3h0M368.5 82.5h0M368.5 95h0M368.8 77.6h0M369.4 69.5h0M369.5 83.1h0M369.5 97.7h0M369.5 76h0M369.6 88.3h0M370 81.1h0M370.1 79.9h0M370.1 84.3h0M370.3 81.7h0M370.4 85.9h0M370.4 84.5h0M370.8 77.8h0M371 86.2h0M371 84.6h0M371 85.3h0M371.1 78.7h0M371.4 83.6h0M371.4 86.2h0M371.9 79.9h0M372 92.6h0M372.1 92.1h0M372.2 80.2h0M372.3 71.6h0M372.7 84.5h0M372.8 80h0M372.9 89.5h0M372.9 81.2h0M373.5 81h0M373.7 79h0M373.8 86.2h0M374 71.6h0M374.2 87.4h0M374.2 73.9h0M374.2 88.1h0M374.3 77.9h0M374.8 75h0M375.1 70.6h0M375.1 83.1h0M375.1 91.4h0M375.2 77.8h0M375.4 86.4h0M375.5 78.4h0M375.9 85.8h0M376 87.6h0M376.1 78.5h0M376.1 86.4h0M376.2 78.9h0M376.2 78h0M376.4 84.8h0M376.6 78.8h0M376.8 75.9h0M376.9 72.4h0M376.9 81.6h0M377.3 83.9h0M377.4 87.6h0M377.4 84.6h0M377.5 82.4h0M377.8 81h0M378 89.7h0M378.3 84.5h0M378.5 83.4h0M378.6 85.5h0M378.6 85.6h0M378.6 80.4h0M378.7 87.6h0M378.9 79.6h0M379 88.1h0M379.1 81h0M379.2 88.2h0M379.3 75.7h0M379.4 78.1h0M379.4 74.8h0M379.4 86.7h0M379.4 89.3h0M379.8 89.3h0M380.2 83.2h0M380.3 76.2h0M380.4 78.1h0M380.5 78.3h0M380.8 88.7h0M380.9 76h0M381 77.9h0M381 84.9h0M381.1 95.8h0M381.2 86.2h0M381.3 82.6h0M381.6 73.2h0M382.1 92.6h0M382.1 101.5h0M382.4 73h0M382.5 73.2h0M382.6 79.6h0M382.6 78.2h0M382.8 74.8h0M383 85.5h0M383 79.4h0M383.6 83.8h0M383.7 106.2h0M384.5 78.6h0M384.5 75.3h0M384.6 71.1h0M384.8 77h0M385.1 75h0M385.2 82.2h0M385.6 89.4h0M385.7 84.6h0M385.9 78.9h0M385.9 84.3h0M386.2 70.5h0M386.4 74.3h0M386.4 82.1h0M386.4 71.5h0M386.5 77.4h0M386.6 71.9h0M387.6 81.8h0M387.8 76.5h0M388 82h0M388.3 80.6h0M388.5 74.3h0M388.6 70.1h0M388.7 79.9h0M389 78.9h0M389.4 85.4h0M389.5 81.6h0M389.7 77.7h0M390 87.3h0M390.1 82.8h0M390.2 86.5h0M390.7 79.2h0M390.8 75.4h0M390.9 78.4h0M390.9 81.8h0M391.2 85.8h0M391.2 89.1h0M391.5 80.1h0M391.5 71.8h0M391.7 81.6h0M391.8 80.5h0M391.8 82.5h0M392.1 86.3h0M392.1 74.2h0M392.1 76.2h0M392.2 88.2h0M392.4 86.8h0M392.4 84.6h0M392.9 84.8h0M393.1 80.2h0M393.1 85.6h0M393.4 78.1h0M393.6 84.1h0M393.6 83.1h0M393.6 85.9h0M393.8 69.3h0M394.1 65.4h0M394.2 78.5h0M394.5 76h0M394.5 76.5h0M394.8 79.6h0M395.1 80.1h0M395.2 81.5h0M395.3 75.2h0M395.7 86.2h0M395.7 84h0M396 75.4h0M396.1 87h0M396.3 70.2h0M396.3 80.6h0M396.6 78h0M396.9 71.5h0M397 79.1h0M397 78.1h0M397.3 81.9h0M397.7 75.6h0M397.7 74.6h0M398 83.2h0M398.8 74.3h0M398.9 72.6h0M399.2 75.2h0M399.2 81.9h0M399.2 72.6h0M399.2 70.2h0M399.4 80.4h0M399.5 87.7h0M399.5 81.5h0M399.5 77.5h0M399.6 70.4h0M399.8 70.9h0M399.9 73.6h0M400.2 80.9h0M400.2 73.1h0M400.5 77.2h0M400.5 82.8h0M400.6 87h0M400.7 58.3h0M400.7 104.8h0M401 70h0M401.2 64.3h0M401.3 76.6h0M401.4 81.4h0M401.8 80.1h0M402 71.2h0M402 74.3h0M402 70.9h0M402.4 80.4h0M402.5 78.1h0M402.6 79.8h0M402.6 69.8h0M402.6 70.7h0M402.7 80.8h0M402.8 91.6h0M402.9 75.1h0M403.1 85.8h0M403.2 78.8h0M403.5 75h0M403.8 83.4h0M403.9 74.4h0M404 75.2h0M404.1 78.5h0M404.1 69.7h0M404.3 80.6h0M404.4 90.1h0M404.8 88.9h0M404.9 69h0M405 79.4h0M405.1 85.3h0M405.2 71.5h0M405.2 68.7h0M405.2 66h0M405.4 83.4h0M405.7 75.5h0M406.2 81.3h0M406.5 70h0M406.5 67.8h0M406.6 77.1h0M406.7 74.1h0M406.8 68.2h0M406.9 74.4h0M407.1 76.3h0M407.2 84.7h0M407.2 79.5h0M407.2 70.1h0M407.4 83.8h0M407.4 74.1h0M407.6 74.5h0M407.7 75.8h0M407.8 71.4h0M407.9 80h0M407.9 68.1h0M408 78.3h0M408.3 70.3h0M408.5 92.8h0M408.5 74.5h0M409 78h0M409 66.8h0M409.1 82h0M409.4 79.8h0M409.5 68.2h0M409.6 71.8h0M409.7 76.6h0M409.7 77.8h0M409.7 83.5h0M409.9 77.9h0M409.9 74.5h0M410.4 69.9h0M410.4 71.4h0M410.5 68.6h0M410.7 74.6h0M410.7 80.7h0M410.8 78.7h0M410.9 68.2h0M411 76.2h0M411.2 69h0M411.3 85.7h0M411.4 79.6h0M411.5 81.4h0M411.5 75.5h0M411.6 81.4h0M411.7 84.4h0M411.7 77.4h0M411.8 89.8h0M411.8 80.3h0M412 86.6h0M412.1 83.5h0M412.4 77.5h0M412.4 82.2h0M412.8 79.3h0M412.9 76h0M413 74.8h0M413 75h0M413.1 81.6h0M413.1 68.9h0M413.1 75.6h0M413.1 81.1h0M413.6 70.1h0M413.7 79.8h0M413.8 66.7h0M414.1 73h0M414.1 78.3h0M414.2 80.5h0M414.2 82.4h0M414.3 82.2h0M414.3 79.3h0M414.3 70.2h0M414.5 76.8h0M414.6 78.3h0M414.6 75.5h0M414.8 79.7h0M416.8 85.1h0M416.8 80.5h0M417.3 84.5h0M417.5 87.2h0M417.7 74.5h0M417.9 76.3h0M417.9 92.5h0M418.6 83.5h0M418.8 84.8h0M419 91.8h0M419.1 81.8h0M419.2 79.9h0M419.2 82.5h0M419.3 80.2h0M419.6 72.8h0M420.1 85.4h0M420.1 75.7h0M420.3 70.5h0M420.3 99.4h0M420.5 84.2h0M420.7 75.2h0M420.8 81h0M420.8 86.4h0M420.8 74.8h0M420.8 77.9h0M421 106.6h0M421 78.2h0M421.1 84h0M421.3 81.8h0M421.4 89.6h0M421.6 79.9h0M421.7 82h0M421.7 88.3h0M421.9 84.9h0M422.1 74.9h0M422.2 74.3h0M422.2 91.5h0M422.2 80.1h0M422.3 84.7h0M422.4 85.9h0M423.1 81.7h0M423.1 74.5h0M423.1 80h0M423.1 88.5h0M423.2 86h0M423.2 80.5h0M423.3 76.8h0M423.5 83.5h0M423.7 82.3h0M423.9 81.8h0M424.4 79.5h0M424.7 93.9h0M424.8 75.3h0M424.8 81.4h0M424.9 83.2h0M424.9 89.4h0M425 81.7h0M425.2 72h0M425.4 86.7h0M425.6 92.6h0M425.7 80.8h0M425.7 83.1h0M425.7 83.6h0M425.9 92h0M425.9 80.9h0M426.1 79.7h0M426.3 108h0M426.3 82.5h0M426.4 79h0M426.4 88.5h0M426.5 95.5h0M427.2 82.9h0M427.2 71.2h0M427.3 81.4h0M427.5 70.6h0M427.7 81.6h0M427.8 84.8h0M427.9 88h0M427.9 75.5h0M428.2 91.2h0M428.2 87.1h0M428.4 86h0M428.4 81.9h0M428.4 83.3h0M428.5 92h0M428.6 90.3h0M428.7 73.8h0M428.7 83.1h0M429 83.6h0M429.1 85.6h0M429.2 101.1h0M429.6 88h0M429.6 85h0M429.8 78.8h0M429.9 83.8h0M430 78.5h0M430.5 84.7h0M430.7 86.2h0M430.9 78.2h0M431.1 84.4h0M431.1 88.5h0M431.3 74.7h0M431.3 84.9h0M431.4 81.3h0M431.6 75.2h0M431.7 91.1h0M431.7 85.6h0M431.9 78.3h0M432 85.5h0M432.1 79.3h0M432.7 98.6h0M433.1 85.2h0M433.1 85.3h0M433.2 81.1h0M433.3 82.9h0M433.6 73.5h0M433.6 81.4h0M433.7 73.7h0M433.7 82.5h0M433.8 73.3h0M434 83.9h0M434.1 76.1h0M434.4 82.1h0M434.7 73.7h0M434.8 87.4h0M435.1 85.4h0M435.2 80.5h0M435.3 88.2h0M435.4 74.3h0M435.5 83.7h0M436 79.5h0M436.6 76.5h0M436.7 78.9h0M436.7 86.5h0M436.8 89.9h0M436.8 91.8h0M436.9 87.4h0M436.9 93.6h0M437 86.7h0M437.2 98.3h0M437.6 89.8h0M437.8 91.2h0M437.8 81h0M437.8 71.8h0M437.9 87.2h0M438.1 82.6h0M438.2 82.2h0M438.3 75.7h0M438.5 76.9h0M438.7 84.3h0M438.7 76.5h0M438.8 92.8h0M438.8 77.1h0M439 71.3h0M439 94.1h0M439.1 89.7h0M439.1 89.3h0M439.2 88.7h0M439.6 80.9h0M439.9 80.7h0M440.3 71.4h0M440.6 73.1h0M441 79.4h0M441 81.8h0M441.1 77.3h0M441.1 78.6h0M441.1 90.3h0M441.3 77.1h0M441.5 83.8h0M441.9 81.4h0M442.1 81.6h0M442.3 84.1h0M442.4 84.4h0M442.5 80.3h0M442.6 81.3h0M442.8 87.6h0M443 71.1h0M443 70.8h0M443.1 71.1h0M443.2 73.8h0M443.2 81h0M443.3 85.8h0M443.4 86.2h0M443.5 90.3h0M443.5 82.2h0M443.8 90.1h0M443.8 79.7h0M444.3 78.7h0M444.4 83.2h0M444.6 83.2h0M444.6 80.5h0M445.1 76.7h0M445.1 93.5h0M445.6 70.2h0M445.7 84.8h0M445.7 83.3h0M445.9 82.5h0M446.2 80.8h0M446.3 78.4h0M446.4 76.5h0M446.4 81.4h0M446.5 70.6h0M446.5 90.1h0M446.6 78h0M446.6 79.3h0M446.7 87.2h0M446.8 87.6h0M446.9 78.8h0M447.1 72.9h0M447.2 77.1h0M447.5 79.7h0M447.9 80.8h0M448.3 81.6h0M448.5 81h0M448.7 75h0M448.8 72.5h0M448.9 75.5h0M449.1 82.3h0M449.1 75.2h0M449.2 72.6h0M449.3 77.7h0M449.4 76.5h0M449.7 81.2h0M449.7 77.5h0M450.1 85.1h0M450.1 83.9h0M450.4 78.5h0M450.4 80.9h0M450.9 80.4h0M451.4 82.3h0M451.5 74.9h0M451.5 71.3h0M451.8 82.6h0M451.8 75.7h0M452 79.6h0M452.1 75.6h0M452.2 70.8h0M452.3 75.5h0M452.4 77.6h0M452.9 82.5h0M453 70.3h0M453.1 67.4h0M453.6 87.1h0M453.7 73.1h0M453.9 77.2h0M454.1 83.2h0M454.3 66.3h0M454.3 73.1h0M454.4 64.2h0M454.4 80.4h0M454.5 78.5h0M454.6 84.2h0M454.8 92.6h0M454.9 85.1h0M454.9 77.5h0M455.2 69.2h0M455.2 72.6h0M455.3 70.1h0M455.6 74.7h0M455.7 71h0M456 75.8h0M456.2 82.2h0M456.2 72.4h0M456.2 75.4h0M456.7 79.3h0M456.8 81h0M457 67.9h0M457.2 83.8h0M457.2 79.3h0M457.4 72.5h0M457.4 71.1h0M457.5 73.2h0M457.5 82.9h0M457.8 68.3h0M457.8 75h0M458.1 82.4h0M458.1 68.1h0M458.2 61.1h0M458.7 84.2h0M458.7 88.7h0M458.8 74.7h0M458.9 77.3h0M459.3 72.3h0M459.5 73h0M459.7 92.7h0M460.1 71.7h0M460.1 72.8h0M460.3 80.1h0M460.8 70h0M461 73.3h0M461 75.5h0M461 72.5h0M461.1 79h0M461.2 79h0M461.6 75.3h0M462.4 80.3h0M462.5 66.5h0M462.6 73.7h0M462.7 71.1h0M462.8 81.8h0M463 67.1h0M463.1 63.5h0M463.3 80.1h0M463.6 66.2h0M463.6 77.7h0M463.7 76.6h0M463.9 74.4h0M464 75.1h0M464.1 75.7h0M464.1 73.8h0M464.2 67h0M464.2 87.9h0M464.2 83.8h0M464.3 82.9h0M464.5 74.1h0M464.6 75.1h0M464.7 73.6h0M464.8 65.2h0M464.8 75.6h0M465 83.9h0M465.2 73.5h0M465.2 65.8h0M465.8 65.1h0M465.9 76.6h0M466.1 75.4h0M466.4 74.6h0M466.4 73.1h0M466.4 77.2h0M468.7 81.6h0M468.9 84h0M469 82.3h0M469.1 75.3h0M469.5 92h0M469.9 76.4h0M470 74.1h0M470 81.3h0M470 84.4h0M470.2 86.8h0M470.9 83.1h0M470.9 101.6h0M470.9 79.1h0M470.9 87.5h0M471 79.3h0M471 82.6h0M471.1 75.9h0M471.6 86.6h0M471.9 80.1h0M472 76.7h0M472 89.6h0M472.1 78.8h0M472.5 84h0M472.7 86.1h0M472.9 89.5h0M473 80.8h0M473.2 84.5h0M473.2 83.3h0M473.5 77.2h0M473.8 98.4h0M473.9 76.5h0M473.9 83h0M474 81.9h0M474.1 83.8h0M474.2 82.2h0M474.3 76.6h0M474.5 85.8h0M474.5 86.3h0M474.9 98.9h0M474.9 80.2h0M474.9 82.3h0M475.1 82.8h0M475.3 83.2h0M475.4 94.3h0M475.6 80.3h0M475.6 86.2h0M475.6 80.5h0M475.7 84.9h0M475.7 87.2h0M475.8 92.5h0M476.3 74.5h0M476.4 82.8h0M476.6 80.5h0M476.6 88.1h0M476.7 79.6h0M477 81.2h0M477.1 95.6h0M477.1 76.2h0M477.1 77.6h0M477.1 88.9h0M477.2 91.2h0M477.2 80.5h0M477.4 83.7h0M478.3 74.9h0M478.4 90.5h0M478.4 83.5h0M478.6 79.5h0M478.7 80.7h0M478.9 90.2h0M478.9 91.3h0M478.9 85.9h0M479.1 71.3h0M479.2 87.9h0M479.3 98.5h0M479.7 78.6h0M479.7 80.9h0M479.8 75.8h0M480.2 87.5h0M480.2 87.5h0M480.6 79.2h0M480.8 85.2h0M481 84h0M481.5 89.9h0M481.6 88.5h0M481.6 88.6h0M481.7 87.7h0M482.5 88.5h0M482.7 86.3h0M482.7 86.5h0M482.8 78.5h0M483 74.7h0M483.2 86.6h0M483.4 76h0M483.7 82.1h0M483.7 97.5h0M483.8 83.4h0M483.9 93h0M484.1 78.8h0M484.3 88h0M484.4 76.2h0M484.5 77.1h0M484.6 87.9h0M484.7 90.6h0M484.9 79h0M484.9 90h0M485.5 85.4h0M485.6 79.3h0M486.1 85.5h0M486.3 80.7h0M486.4 73.8h0M486.4 82.7h0M486.4 80.7h0M486.9 98.8h0M486.9 90.7h0M487 83.6h0M487 84.4h0M487.1 81.4h0M487.1 84.2h0M487.1 87.9h0M487.4 87.8h0M487.4 84h0M487.5 89.4h0M487.6 92.1h0M487.6 82.9h0M487.7 84.5h0M487.8 81.1h0M488 87.3h0M488.3 85h0M488.5 89.3h0M488.6 86.3h0M488.6 79.4h0M488.8 74.4h0M488.9 85.6h0M489.2 81.5h0M489.2 88.1h0M489.2 92.2h0M489.4 87.1h0M490.4 85h0M490.5 85.4h0M490.6 88.1h0M490.6 82.6h0M490.8 77.2h0M490.9 86.6h0M491.3 81.2h0M491.3 80.2h0M491.4 77.8h0M491.8 79.7h0M492 77.7h0M492.1 82.8h0M492.3 90.3h0M492.8 89.1h0M492.9 85.6h0M493 88.5h0M493.5 87.1h0M493.6 84h0M493.6 83h0M493.8 85.1h0M493.8 80.9h0M494.1 87.9h0M494.1 88.2h0M494.2 85.8h0M494.3 89.2h0M494.5 76.4h0M494.7 77.7h0M494.7 90h0M494.9 79.9h0M495 90.3h0M495 80.4h0M495.2 82.4h0M495.4 82.1h0M495.7 92.2h0M496.2 81.1h0M496.2 81.1h0M497 74.7h0M497.1 81.3h0M497.5 82.1h0M497.5 85.8h0M497.6 78.8h0M497.6 77.3h0M497.6 77.6h0M497.8 76.7h0M497.9 82.6h0M498.2 89.5h0M498.5 81.1h0M498.5 73.5h0M498.8 74.6h0M498.9 85.3h0M498.9 85h0M498.9 73.7h0M498.9 76.7h0M499 86.9h0M499.1 77.6h0M499.3 76h0M499.4 69h0M499.4 83.7h0M499.5 82.8h0M499.6 74.6h0M499.9 86.4h0M500 76.2h0M500 83.9h0M500.2 84.6h0M500.5 79.5h0M500.6 93h0M500.8 75.7h0M501.2 84.6h0M501.3 89.3h0M501.4 84.2h0M501.5 81h0M501.7 81.1h0M501.8 74.9h0M501.8 88.3h0M501.9 80.3h0M502.4 81.9h0M502.4 77.3h0M502.6 80h0M502.7 76h0M502.7 86.9h0M502.9 82h0M503.2 84.3h0M503.7 73.1h0M503.9 71.9h0M504 78.5h0M504.4 74.8h0M504.4 79.9h0M504.6 82.2h0M504.6 71h0M504.7 79.1h0M505 70.8h0M505.1 64.9h0M505.1 84.8h0M505.2 75h0M505.3 80h0M505.4 75.9h0M505.6 90.9h0M505.9 74.5h0M505.9 82.6h0M506.1 76.1h0M506.1 75.3h0M506.3 72.9h0M506.4 77.4h0M506.7 75.6h0M506.8 78.9h0M507.2 85.6h0M507.4 80.4h0M507.6 79.6h0M507.8 78.6h0M507.8 75.8h0M507.9 75.4h0M508 70.7h0M508 65.5h0M508.2 82.3h0M508.2 75.6h0M508.2 74h0M508.6 77.6h0M508.7 72.4h0M508.7 88.8h0M508.9 72.3h0M509 77.2h0M509.2 86.5h0M509.3 77.3h0M509.5 72.7h0M509.6 76.3h0M509.6 64.1h0M509.7 63.2h0M509.7 73.9h0M509.8 77.3h0M509.9 71.6h0M510.2 67.1h0M510.2 65.2h0M510.3 73.3h0M510.4 80h0M510.4 66.6h0M510.8 85.1h0M510.9 76.1h0M511 74.4h0M511 71.9h0M511.4 77.9h0M512.1 73.3h0M512.1 69h0M512.3 86.3h0M512.4 78.7h0M512.5 69.5h0M512.7 72.8h0M512.8 66.1h0M513.1 77.6h0M513.2 63h0M513.2 74.5h0M513.3 70.4h0M513.7 75.9h0M513.8 74h0M514 84h0M514 75.9h0M514 68.8h0M514.1 67.1h0M514.1 68.5h0M514.4 75.4h0M514.6 76.8h0M514.8 84.5h0M515 67.2h0M515.1 75.1h0M515.4 80.2h0M515.6 79.9h0M515.8 78.7h0M515.9 75.1h0M516 69.2h0M516.1 82.5h0M516.1 68.2h0M516.1 62.2h0M516.2 89.7h0M516.2 73.6h0M516.4 80.8h0M516.5 65.1h0M516.9 72.9h0M516.9 78.1h0M516.9 76.6h0M517 78.4h0M517.1 71.6h0M517.2 70.8h0M517.3 81.3h0M517.3 84.2h0M517.4 66.5h0M517.5 71.6h0M517.6 81.3h0M517.8 68.1h0M517.8 67.1h0M517.9 71.2h0M518.3 71h0M518.6 77h0M518.7 90.7h0M518.8 70h0M518.9 78.6h0M518.9 62.7h0M519.3 76.5h0M519.4 70.9h0M519.5 78.5h0M519.5 82.4h0M519.7 77.2h0M519.7 62.2h0M519.7 74.1h0M519.8 85.5h0M520.1 84.8h0M520.2 67.6h0M520.6 79.1h0M520.7 73.8h0M520.9 74.5h0M520.9 78.9h0M520.9 74h0M521.1 83.6h0M521.4 72.6h0M521.6 68.9h0M521.7 79.6h0M523.9 71.8h0M524 88.3h0M524 83.1h0M524.1 79.1h0M524.1 84.4h0M524.6 104.8h0M524.8 86.6h0M525 88h0M525 88.9h0M525.3 81.5h0M525.3 82.8h0M525.5 87.5h0M525.6 73.4h0M525.8 83.9h0M526.6 72.7h0M526.7 84.5h0M526.8 81.2h0M526.9 84.7h0M526.9 100.9h0M526.9 88.4h0M526.9 90.1h0M527 88.2h0M527.2 78.5h0M527.4 77.9h0M527.7 77.7h0M527.7 90.2h0M528 74.2h0M528.2 80.1h0M528.6 88.2h0M528.8 84.2h0M529.3 90.1h0M529.5 100.6h0M529.7 94.3h0M529.7 91.5h0M529.8 79.1h0M529.8 79.6h0M530.3 88.2h0M530.5 83.1h0M530.6 77.4h0M530.9 82.4h0M530.9 84.5h0M531 92.6h0M531.1 102.9h0M531.3 80.1h0M531.4 82.5h0M531.6 80.4h0M531.6 89h0M531.8 96.7h0M531.9 86.4h0M531.9 85.4h0M531.9 84.5h0M532.1 74.7h0M532.8 75.1h0M532.9 80.8h0M533 82.3h0M533.1 80.9h0M533.3 83.8h0M533.5 76.4h0M533.7 92h0M533.7 78.1h0M533.7 80.7h0M534.4 84.4h0M534.5 91.8h0M534.6 80.9h0M534.8 89.1h0M534.8 89.7h0M535.4 83.6h0M535.5 84.1h0M535.9 83h0M536.6 87.2h0M536.6 83.2h0M536.6 73h0M537 82.9h0M537.2 88.2h0M537.3 87.6h0M537.7 86.5h0M537.8 74.4h0M538.2 79.9h0M538.5 74.5h0M538.5 80.5h0M538.5 73.1h0M538.5 93.2h0M538.7 92h0M538.7 81.6h0M539 79.9h0M539 89.5h0M539 91.3h0M539.3 85.6h0M539.4 79h0M539.8 87.7h0M540.2 99.4h0M540.3 86.3h0M540.4 87.7h0M541 69.6h0M541.1 83.3h0M541.5 78.1h0M542 86.2h0M542.1 85.1h0M542.4 87.9h0M542.6 70.7h0M542.8 87.4h0M542.8 79.3h0M542.8 79.7h0M543 88.7h0M543.2 78.3h0M543.3 80.3h0M543.5 87.2h0M543.5 91.7h0M543.7 85.1h0M544.1 85.8h0M544.1 88.7h0M544.6 88h0M544.7 80.2h0M545.1 87.4h0M545.2 89h0M545.5 82h0M545.5 74.9h0M545.5 88.8h0M545.6 89.4h0M545.7 74.8h0M545.9 94.6h0M545.9 84.4h0M546.1 75h0M546.2 83.2h0M546.3 86h0M546.5 82.2h0M546.6 78.5h0M546.7 86.5h0M546.7 82.5h0M546.8 85.2h0M547 79.6h0M547.5 80.4h0M547.6 85.9h0M547.6 82.6h0M547.8 80.8h0M547.8 74.7h0M547.9 82.1h0M548.2 86.4h0M548.2 81.2h0M548.5 69.9h0M548.6 74.1h0M548.6 73.5h0M548.7 89.4h0M548.8 70.1h0M548.9 78.5h0M548.9 79.6h0M549 80.9h0M549.3 78.2h0M549.3 92.7h0M549.8 75.3h0M549.9 89h0M550 71.2h0M550.1 79.2h0M550.1 84.8h0M550.1 86.8h0M550.2 82.4h0M550.2 78.7h0M550.3 81h0M550.4 80.3h0M550.4 85.6h0M550.5 71.9h0M550.8 82.4h0M550.8 84.6h0M550.9 78.7h0M550.9 84.3h0M551.3 82h0M551.6 90.2h0M551.6 100.1h0M551.8 77.4h0M551.8 85.2h0M551.8 77.5h0M551.8 78h0M551.9 76.5h0M552.1 76.6h0M552.2 74.1h0M552.5 81.1h0M552.8 82.2h0M553.1 73.9h0M553.1 86.6h0M553.4 85.4h0M553.7 87.2h0M553.7 92h0M553.8 72.7h0M554.3 71.9h0M554.4 82.2h0M554.6 88h0M554.6 84h0M554.9 78.4h0M554.9 70.4h0M554.9 80.7h0M555.1 74h0M555.1 74.8h0M555.2 87.7h0M555.3 72.7h0M555.3 71.8h0M555.3 63.1h0M555.6 79.7h0M555.9 72h0M556 75.7h0M556.1 77.9h0M556.2 76.3h0M556.3 70.4h0M556.3 84.4h0M556.4 80h0M556.4 81.6h0M556.4 85.4h0M556.4 77.9h0M556.7 80.9h0M556.9 77.2h0M557.6 79.2h0M557.6 71.1h0M557.9 72h0M558.4 78.4h0M558.7 77.5h0M558.7 79.9h0M558.7 82.9h0M558.8 75.5h0M559.2 72.2h0M559.4 88.7h0M559.6 83.5h0M560 71.4h0M560.3 69.5h0M560.4 82.9h0M560.5 84h0M560.5 85.8h0M560.8 85.8h0M560.9 76.5h0M561.1 78h0M561.2 82.1h0M561.2 91.9h0M561.2 79.9h0M561.3 69.4h0M561.4 78.5h0M561.4 72.5h0M561.4 74.2h0M561.6 76.4h0M561.8 78.9h0M561.9 67.2h0M561.9 69.7h0M562.1 82.7h0M562.1 67.3h0M562.6 84.3h0M562.8 73.5h0M562.9 72.7h0M563.1 76.6h0M563.1 82.4h0M563.2 81.9h0M563.2 71.5h0M563.3 81h0M563.5 76.4h0M563.9 75.2h0M563.9 80.1h0M564 82.5h0M564.4 83.5h0M564.4 89.7h0M564.6 70.2h0M564.8 76.8h0M565 77.7h0M565.1 66.1h0M565.1 68h0M565.5 71h0M565.6 73.4h0M565.9 72.5h0M565.9 70.1h0M566.1 74.1h0M566.3 70.1h0M566.3 74.3h0M566.5 69.8h0M566.6 83.4h0M566.8 81.7h0M567.2 66.9h0M567.4 67.8h0M567.6 80.1h0M567.8 100.4h0M567.8 69.2h0M567.9 76.6h0M568 74.7h0M568 76.8h0M568.2 71.9h0M568.2 74.6h0M568.2 67.6h0M568.2 96.3h0M568.2 78.7h0M568.4 57.6h0M568.5 70.7h0M568.9 65.7h0M569 79.7h0M569.1 63.4h0M569.3 82.1h0M569.5 71.3h0M569.5 72.8h0M569.6 80h0M569.6 71.3h0M569.6 82.1h0M569.6 70.1h0M569.7 74.8h0M569.8 78.4h0M569.8 83.1h0M569.9 82.3h0M570.1 89.1h0M570.3 99.8h0M570.6 74.6h0M570.8 83.1h0M571.1 78.6h0M571.1 84.8h0M571.3 74h0M571.8 71.5h0M571.8 89.4h0M571.9 70.4h0M572 58.8h0M572.1 72.5h0M572.2 71.3h0M572.3 71h0M572.4 63h0M572.4 61.4h0M572.5 72.3h0M572.5 85.5h0M572.5 74.5h0M572.9 83.6h0M572.9 82.2h0M573 68h0M573.1 74.9h0M573.4 85.5h0M573.4 70.7h0M573.5 68.9h0M573.5 78.6h0M573.5 64.9h0M573.6 78.7h0M573.7 69.6h0M573.7 75.2h0M574.2 75.1h0M574.3 76.2h0M574.7 69.1h0M574.8 70.1h0M574.8 75.1h0M575 68.6h0M575 83.4h0M575 73h0M575.2 83.6h0M575.4 92.2h0M575.6 85.9h0M575.7 72h0M575.9 77.7h0M576 76.5h0M576 82.3h0M576.2 81.8h0M576.2 84.5h0M578.5 82.7h0M578.5 80.3h0M578.9 107.6h0M579.1 78.8h0M579.2 75.4h0M579.3 79.8h0M579.3 98.4h0M579.6 80.1h0M579.8 78.5h0M579.9 76.7h0M580 71.9h0M580.1 89.9h0M580.2 81.7h0M580.3 82.1h0M581.3 72.3h0M581.3 88.3h0M581.4 71.5h0M581.5 86.4h0M581.5 86.2h0M581.8 89.6h0M581.8 82.7h0M582.1 84.4h0M582.4 81.1h0M582.5 82.7h0M582.6 77.8h0M582.7 79.3h0M582.7 95.9h0M583.2 75.1h0M583.4 81.8h0M583.5 82.2h0M583.6 84.9h0M583.6 76.7h0M583.8 84h0M583.9 75.5h0M583.9 88.6h0M584.1 72.5h0M584.4 74.5h0M584.6 89.1h0M584.7 77.4h0M585.1 85.2h0M585.3 96.5h0M585.6 85.1h0M585.7 81.5h0M585.7 86h0M585.8 79.3h0M585.9 75.3h0M586.1 90.5h0M586.2 93.7h0M586.6 82.8h0M586.6 81.3h0M586.6 81.9h0M586.7 78.1h0M586.8 79h0M587 93.6h0M587.3 82.6h0M587.3 87.5h0M587.4 83.6h0M587.5 90.7h0M587.6 79.7h0M587.6 83.4h0M587.8 86.3h0M587.9 90.9h0M587.9 73.3h0M588.2 77.4h0M588.3 79.2h0M588.3 86.8h0M588.4 88h0M588.6 74.1h0M588.7 76.7h0M588.9 77.9h0M589.4 71.3h0M589.5 92.4h0M589.5 90.5h0M589.8 80.4h0M589.8 92.3h0M590.2 84.9h0M590.4 86h0M590.4 77.8h0M590.5 90.6h0M590.5 81.9h0M590.5 79.3h0M590.6 89.4h0M590.6 88.8h0M590.9 77.3h0M591.4 95.6h0M591.5 92.1h0M591.9 91.8h0M591.9 73.3h0M592.4 82.2h0M592.5 86.6h0M592.5 82.6h0M592.8 83.8h0M593.1 80.5h0M593.1 74.2h0M593.4 75h0M593.5 87.2h0M593.8 86.2h0M594 85.3h0M594.1 73.7h0M594.2 76.8h0M594.2 94.3h0M594.3 85.7h0M594.4 86.2h0M594.4 76.6h0M594.5 76.3h0M594.6 86.3h0M594.6 89.1h0M594.8 82.5h0M594.8 80.4h0M594.9 82h0M594.9 102.6h0M595.1 84.9h0M595.3 80.2h0M595.3 81.4h0M595.6 80h0M595.9 88.2h0M596.1 85.7h0M596.1 100.2h0M596.5 100.2h0M596.5 84.6h0M596.5 80h0M596.6 80.5h0M596.8 85.6h0M596.8 83.9h0M597.1 78.7h0M597.3 83.4h0M597.3 91.4h0M597.4 80h0M597.5 92.5h0M597.5 87.6h0M597.6 70.4h0M597.7 80.7h0M597.9 85.5h0M597.9 79.1h0M597.9 77.9h0M598.1 81.7h0M598.2 77.7h0M598.4 81.6h0M598.4 87.2h0M598.5 80.1h0M598.6 81.3h0M598.7 76.8h0M598.9 75.2h0M599.2 73.6h0M599.2 87h0M599.3 80h0M599.7 71.6h0M599.8 84.7h0M600.1 85.4h0M600.2 84.1h0M600.5 84.7h0M601 85.7h0M601 71.8h0M601 84.1h0M601.1 80.4h0M601.2 86.9h0M601.2 68.8h0M601.4 86.8h0M601.4 88.5h0M601.5 75.4h0M601.5 84.7h0M601.6 80.2h0M601.7 71.6h0M601.9 87.8h0M602 70.9h0M602.1 83.6h0M602.4 96.4h0M602.4 79.8h0M602.7 83.4h0M602.8 88.4h0M603.1 66.1h0M603.1 82.9h0M603.2 91h0M603.2 80.6h0M603.5 74.2h0M603.5 75.2h0M603.7 81.5h0M603.8 82.5h0M604.1 81.6h0M604.4 86.8h0M604.6 77.3h0M604.7 77.8h0M604.9 71.6h0M605.1 85.3h0M605.1 69.7h0M605.3 72.6h0M606.3 73.7h0M606.5 80.1h0M606.6 74.8h0M606.7 80.6h0M606.8 72.9h0M606.8 78.9h0M606.9 83.2h0M607 79.9h0M607.3 84.1h0M607.6 74.2h0M607.6 79.8h0M607.6 83.3h0M608.2 64h0M608.5 77.9h0M608.7 70.5h0M608.8 81.4h0M609.1 75.1h0M609.2 80.9h0M609.2 89.9h0M609.2 75.7h0M609.3 64.3h0M609.4 90.7h0M609.5 77.2h0M609.6 68.2h0M609.7 88.3h0M609.7 72.4h0M610 77.1h0M610 75.1h0M610 81h0M610.1 80.1h0M610.1 88.1h0M610.3 80.1h0M610.5 78.9h0M610.6 81.8h0M610.6 68.2h0M610.8 76.5h0M610.9 70.1h0M610.9 75h0M610.9 83.2h0M611.2 78h0M611.3 77.9h0M611.5 79.5h0M611.6 71.5h0M611.9 72.9h0M612.1 78.5h0M612.2 73.8h0M612.3 81.5h0M612.9 79.1h0M612.9 68.8h0M613.2 69.8h0M613.4 70.8h0M613.5 66.9h0M613.6 75.8h0M613.6 77.5h0M613.6 74.4h0M613.8 70.1h0M613.9 67.7h0M613.9 75.8h0M613.9 76.1h0M614 69.1h0M614.5 72.4h0M614.7 74.4h0M614.8 79.8h0M614.9 76.4h0M614.9 74.8h0M615.1 74.2h0M615.7 75.1h0M616.2 55.6h0M616.3 74.4h0M616.3 76.4h0M616.4 77h0M617 72.8h0M617.1 71.8h0M617.3 71.5h0M617.4 71.7h0M617.5 77.7h0M617.5 67.6h0M617.6 81h0M617.8 86.8h0M618.5 70.4h0M618.7 70.4h0M618.9 78.8h0M619.4 76.9h0M619.5 68.8h0M619.5 68.7h0M619.7 77.5h0M619.8 84.1h0M620.2 70.8h0M620.4 66.3h0M620.5 61.5h0M620.7 73.2h0M620.8 71.4h0M620.8 78.7h0M621.4 74.8h0M621.5 87.8h0M621.8 74.2h0M622.1 80.7h0M622.1 71.6h0M622.2 96.7h0M622.2 67.2h0M622.3 74.7h0M622.6 77h0M622.7 78.6h0M622.8 69.1h0M623.5 65.8h0M623.5 77.5h0M623.7 63.5h0M623.8 71.3h0M623.9 68.5h0M624 75.1h0M624.1 82.6h0M624.8 70.3h0M624.8 82.2h0M624.9 69.6h0M625 71h0M625 76.8h0M625 81h0M625.3 80.6h0M625.6 73.2h0M625.7 81.8h0M625.7 93.6h0M625.8 85.1h0M625.8 71.1h0M625.9 74.6h0M626 82.4h0M626.1 79.6h0M626.1 79.3h0M626.2 63.6h0M626.3 84.5h0M626.4 83.1h0M626.6 77.9h0M626.6 75.5h0M626.9 80.9h0M628.9 76.6h0M629 87.3h0M629 76.3h0M629.2 79.5h0M629.2 88.3h0M629.4 87.3h0M629.4 80.3h0M629.4 87h0M629.4 81.4h0M629.5 85.1h0M629.7 74.1h0M629.7 90.1h0M630.2 74.3h0M630.3 86.4h0M630.5 81.4h0M630.8 71h0M630.9 88.9h0M631 89.9h0M631 89.2h0M631.1 95.4h0M631.1 86.5h0M631.1 68.6h0M631.2 96.8h0M631.2 84.5h0M631.3 89h0M631.3 79.3h0M631.5 94.9h0M631.5 80h0M631.6 72.8h0M631.6 73.8h0M631.7 92.6h0M631.7 81.2h0M631.9 75.6h0M631.9 77.8h0M631.9 86.4h0M632.1 80.9h0M632.1 80.5h0M632.2 85.5h0M632.3 81.9h0M632.4 81.9h0M632.4 86.7h0M632.7 84.7h0M632.7 86.5h0M632.8 73.9h0M632.9 93.7h0M633.1 77.2h0M633.1 80.7h0M633.6 77.1h0M633.6 85.7h0M633.7 81.4h0M634.2 89.8h0M634.3 81.2h0M634.4 81.5h0M634.7 93h0M635 93.6h0M635.3 104.2h0M635.4 80.2h0M635.7 87.8h0M635.7 85.8h0M635.8 95.3h0M635.9 64.6h0M636.1 85.1h0M636.2 90.9h0M636.3 92.3h0M636.4 76.8h0M636.4 84.2h0M636.5 81.9h0M636.5 81.6h0M637.1 84.4h0M637.2 79.8h0M637.6 70.4h0M637.8 86.4h0M638 83.2h0M638 79.6h0M638.3 81.2h0M638.4 75.6h0M638.5 81.6h0M638.6 85.8h0M638.8 78.9h0M638.9 92.3h0M639.1 83h0M639.1 81.6h0M639.3 85.3h0M639.3 87.3h0M639.4 84.6h0M639.7 83.7h0M639.7 91.2h0M640 84.6h0M640 85.6h0M640.1 86.3h0M640.2 82.3h0M640.6 73.4h0M640.7 86.2h0M640.7 79.6h0M640.8 82.5h0M640.8 85.6h0M641 79.7h0M641.1 75.9h0M641.1 79.3h0M641.4 82.1h0M641.4 99.9h0M641.5 86.3h0M641.8 78.1h0M642.1 81.9h0M642.4 85h0M642.6 86.9h0M642.6 82h0M642.6 91.1h0M642.8 86.6h0M643 92h0M643.3 75.4h0M643.6 74.8h0M643.6 81.5h0M643.8 89.6h0M643.8 84.7h0M643.9 73.8h0M644.3 79.6h0M644.3 77.2h0M644.4 70.2h0M644.5 72.6h0M644.9 77.4h0M644.9 81.5h0M645 85.5h0M645.1 83.3h0M645.2 79h0M645.7 76.8h0M645.7 81.2h0M646 82.8h0M646.3 79.4h0M646.9 71.7h0M647.3 79.3h0M647.3 91.3h0M647.4 82.4h0M647.5 81.1h0M647.7 76.1h0M647.8 88.3h0M648.4 85.9h0M648.6 88.6h0M649.1 73.5h0M649.1 81h0M649.3 89.4h0M649.3 77h0M649.4 82.9h0M649.5 92.7h0M649.6 72h0M650 92.3h0M650.1 69.3h0M650.2 79.1h0M650.2 83.3h0M650.2 80.1h0M650.4 80.9h0M650.5 80.3h0M651.3 79.1h0M651.4 91.8h0M651.6 108.9h0M651.6 75.3h0M651.6 88.7h0M651.9 80.2h0M652 72.6h0M652 79.7h0M652.2 97.7h0M652.2 81h0M652.6 81.8h0M652.8 82h0M652.8 78.3h0M653 85h0M653.2 79.2h0M653.3 73.7h0M653.3 83.2h0M653.4 78.1h0M654 80.9h0M654.2 77.8h0M654.3 95.4h0M654.7 93.4h0M655 88.4h0M655.3 78.1h0M655.4 81.5h0M655.6 80.2h0M655.8 60.7h0M655.9 76.7h0M656.5 82.9h0M656.7 71.2h0M656.7 71.5h0M656.8 79.5h0M657 76.9h0M657.1 78h0M657.4 80.6h0M657.5 85.2h0M657.5 72.7h0M657.5 74.1h0M657.8 84.4h0M657.9 77.5h0M658.5 89.8h0M658.5 85.8h0M658.9 76.2h0M659.1 79.6h0M659.4 79.5h0M659.4 78h0M659.6 76h0M659.7 75.5h0M659.8 83.5h0M659.9 88.4h0M660.1 74.9h0M660.5 86.1h0M660.9 77.2h0M661 85.5h0M661.2 78.6h0M661.2 74.1h0M661.2 76.8h0M661.3 78.4h0M661.3 78h0M661.4 83.9h0M661.4 71.7h0M661.6 84.5h0M661.7 88.9h0M661.8 80.6h0M661.8 74.9h0M662 75.5h0M662.3 80h0M662.8 83.8h0M663 83.9h0M663.1 84.3h0M663.4 86.7h0M663.5 77.9h0M663.5 68.2h0M663.5 82.7h0M663.8 82.4h0M663.8 79h0M664.5 78.3h0M664.5 77.4h0M664.6 69.3h0M664.7 77.5h0M664.8 77h0M665 76.8h0M665.5 82.9h0M665.6 82.3h0M665.6 89.3h0M665.9 80.2h0M665.9 80.7h0M666 76.8h0M666.1 70.3h0M666.2 88.4h0M666.5 71.7h0M666.5 66.1h0M666.6 76.2h0M666.6 75.3h0M666.9 66.1h0M666.9 71.5h0M667.5 72.8h0M668.3 79.7h0M668.3 78h0M668.4 70.4h0M668.4 69.1h0M668.6 73.9h0M668.7 66.8h0M668.8 65.4h0M669 85h0M669.1 76h0M669.1 77.1h0M669.5 71.9h0M669.5 59.3h0M669.7 78.7h0M669.9 78.2h0M670 69.5h0M670.2 79h0M670.2 75.7h0M670.3 67.1h0M670.4 73.1h0M670.6 63.8h0M670.7 66.7h0M670.7 74.7h0M670.8 73.5h0M670.9 65.9h0M671.1 75.7h0M671.1 69h0M671.3 76.5h0M671.3 67.4h0M671.4 68.9h0M671.5 80.6h0M671.5 75.8h0M671.7 76h0M671.8 68.4h0M672 74.9h0M672.2 85.8h0M672.2 73.6h0M672.3 72.1h0M672.4 80.4h0M672.7 65.8h0M672.7 66.6h0M672.8 81.3h0M672.9 72.9h0M112.2 29.5h0M113 34h0M112.3 48.9h0M122.3 48.4h0M127.4 31h0M191.7 25.1h0M193 28.3h0M195 41.6h0M197.3 41.6h0M191.7 59.1h0M446.5 24.9h0M446.5 32.5h0M349.5 64.4h0M350.5 62.9h0M351.5 65.1h0M351 61.3h0" stroke="#FF0000" stroke-width="2.3" stroke-linecap="round" fill="none"/>
<path d="M37.5 142.5h0M37.7 152.8h0M37.7 147h0M38.3 141.4h0M38.5 136.9h0M38.6 138.7h0M38.6 132.8h0M39 147h0M39.1 139.7h0M39.5 134.1h0M39.5 135.1h0M39.6 131.8h0M39.9 136.1h0M39.9 141.8h0M40.1 136.2h0M40.1 148.5h0M40.2 154.8h0M40.2 134.7h0M40.3 139.1h0M40.4 136.4h0M40.6 155.1h0M40.7 141.9h0M40.8 144.2h0M40.8 146.8h0M40.9 160.4h0M41.2 141.3h0M41.4 132h0M41.7 135.3h0M41.8 143.6h0M41.8 137.8h0M42.3 132.5h0M42.3 165.5h0M42.6 138.5h0M42.8 133.6h0M42.8 132.7h0M43 126.1h0M43.1 143.9h0M43.2 134.9h0M43.3 134.9h0M43.3 131.8h0M43.4 142h0M43.8 136.9h0M43.9 130.7h0M44.2 123.9h0M44.5 137.7h0M44.6 136.6h0M44.9 134.7h0M45.5 127.2h0M45.5 135.9h0M45.5 126.4h0M45.9 144.4h0M45.9 137.1h0M46 137.2h0M46.3 130.2h0M47.4 128.1h0M47.4 148.5h0M47.4 143h0M47.4 132.4h0M47.5 140.5h0M47.8 148.4h0M48.3 127.7h0M48.3 145.4h0M48.4 131h0M48.5 138.3h0M48.6 127.7h0M48.9 135.9h0M49 127.2h0M49 141.8h0M49.1 141.2h0M49.2 132.4h0M49.3 139.8h0M49.5 129.5h0M49.5 131.9h0M49.6 141.5h0M49.6 133h0M49.7 136.4h0M49.7 128h0M50 138.6h0M50.3 136.8h0M50.6 126h0M50.8 120.1h0M50.8 121.5h0M50.9 132.4h0M51.2 131.3h0M51.2 124h0M51.7 133.3h0M51.7 140.3h0M51.8 131.6h0M51.9 129.7h0M52.1 138.8h0M52.2 145.4h0M52.2 143.7h0M52.4 128.4h0M52.9 137.7h0M53.1 132.7h0M53.2 130.4h0M53.4 128.2h0M53.4 134h0M53.5 128.8h0M53.8 138.1h0M53.8 134h0M53.8 139.1h0M53.8 125.4h0M53.8 131.4h0M53.9 136.8h0M53.9 133.9h0M54.1 132.7h0M54.2 127.5h0M54.4 142.9h0M54.5 138.7h0M54.5 133.7h0M54.6 118.4h0M54.6 126h0M54.9 131.5h0M54.9 127.1h0M55 120.5h0M55.1 132.3h0M55.1 133.2h0M55.1 124.6h0M55.3 128h0M55.4 127.1h0M55.5 134h0M55.6 121h0M56 122h0M56.1 127.3h0M56.4 126.6h0M56.5 143.9h0M56.6 126.8h0M56.6 131.1h0M56.6 127.7h0M56.7 126.6h0M56.8 132h0M57.3 140.9h0M57.6 127.6h0M57.7 134.2h0M57.7 131.4h0M58.1 133h0M58.6 130.9h0M58.8 143.3h0M58.9 123.4h0M59.5 133.1h0M59.5 123.7h0M59.6 120.1h0M59.6 128.1h0M59.7 139.3h0M59.9 133.6h0M60.1 135.4h0M60.1 131.1h0M60.2 127.7h0M60.4 140.2h0M60.4 126.6h0M60.5 137.1h0M61.2 126.6h0M61.3 128.4h0M61.3 129.6h0M61.4 128.2h0M61.5 130.9h0M61.6 131.4h0M61.7 137.7h0M62.4 127.7h0M62.7 120.1h0M62.8 119.6h0M62.8 122.2h0M63.3 124.5h0M63.7 131.2h0M63.7 121.6h0M64.3 127.4h0M64.3 127.5h0M64.4 128.7h0M64.5 126.7h0M64.6 129.5h0M64.9 127.4h0M64.9 133.2h0M64.9 129.1h0M65.3 118.3h0M65.4 127.2h0M65.5 128.2h0M65.6 124.7h0M65.6 124h0M65.7 133.1h0M65.7 127.9h0M65.8 123.2h0M65.9 125.6h0M66.3 130.9h0M66.3 120.7h0M66.4 130.4h0M66.8 126.2h0M67 129.4h0M67 120.8h0M67.3 137.4h0M67.5 130.1h0M67.5 129.3h0M67.8 123.8h0M67.8 124h0M67.9 121h0M68.3 134.9h0M68.3 123.3h0M68.5 127.7h0M69.1 129.6h0M69.3 123.9h0M69.9 130.8h0M70 137.1h0M70.6 127.6h0M70.7 133.7h0M70.8 129.1h0M70.8 124.2h0M70.8 124.4h0M71 120.1h0M71.1 126.5h0M71.2 133.7h0M71.2 129.5h0M71.3 130.4h0M71.3 132h0M71.4 123.8h0M71.5 128.9h0M71.5 136h0M71.6 122.9h0M71.6 126h0M71.6 124.1h0M71.7 125h0M72.2 123h0M72.2 125.1h0M72.2 120.8h0M72.4 123.7h0M72.8 123.7h0M72.9 123.6h0M73 132.7h0M73 125.9h0M73.2 126.4h0M73.6 124.2h0M73.9 131.9h0M73.9 119.1h0M74.2 124.4h0M74.4 131h0M74.4 133.6h0M74.4 126.2h0M74.7 125.1h0M75 128.3h0M75.1 124.2h0M75.1 127.8h0M75.2 122.6h0M75.2 128.2h0M75.4 124.7h0M75.8 121h0M75.9 119.1h0M76.1 129.5h0M76.1 126.7h0M76.4 128.8h0M76.5 121.8h0M76.8 130.7h0M77 127.4h0M77.1 125h0M77.4 130.3h0M77.4 130.2h0M77.4 127.6h0M77.4 136.3h0M77.5 132.9h0M77.6 127.4h0M77.6 124.6h0M78.1 132.9h0M78.3 135.3h0M78.3 128.1h0M78.5 122.6h0M78.6 123.6h0M78.6 126.1h0M78.6 130.7h0M79.2 133.7h0M79.3 129.4h0M79.3 132.8h0M79.3 130.7h0M79.4 120.6h0M79.5 125.3h0M79.5 121.7h0M79.6 129h0M80 122.8h0M80 130h0M80.1 127.4h0M80.3 120.1h0M80.5 123.7h0M81 130h0M81.3 127.7h0M81.4 125.9h0M81.8 122.4h0M81.9 130.5h0M82.1 138.6h0M82.2 129.4h0M82.7 127.8h0M82.7 127.5h0M82.8 122.3h0M83 126.7h0M83.1 124.6h0M83.3 135.4h0M83.6 124.6h0M83.6 119.2h0M83.7 125h0M83.7 127.3h0M83.7 127.8h0M83.8 120.6h0M83.9 134.7h0M84.1 129.4h0M84.1 126.6h0M84.2 125.4h0M84.3 131.7h0M84.5 127.5h0M84.5 130.8h0M84.5 133.5h0M84.6 129.9h0M84.8 136.9h0M85.7 129.7h0M85.7 125.4h0M85.9 136.5h0M86 131.4h0M86.1 126.6h0M86.2 137.4h0M86.5 129.1h0M86.7 137.7h0M86.7 133.4h0M87 119.4h0M87.1 120.5h0M87.1 131.9h0M87.2 126.8h0M87.2 129.8h0M87.6 130.1h0M87.7 123h0M87.7 140.4h0M88.1 125.6h0M88.2 131.2h0M88.5 123.9h0M88.7 130.2h0M88.7 136.3h0M88.7 129.8h0M89 127.6h0M89.1 131.2h0M89.1 128.9h0M89.2 135.5h0M89.2 147.9h0M89.5 127h0M89.6 128h0M89.7 130.9h0M89.8 131.4h0M90 126.4h0M90.5 135.8h0M90.6 137.8h0M90.6 133.7h0M90.8 134.7h0M91 143.6h0M91.1 126.1h0M91.3 137.8h0M91.4 141.6h0M91.5 125.8h0M91.8 133.5h0M91.9 143.3h0M92.2 135.7h0M92.3 127.6h0M92.4 126.2h0M92.5 151.3h0M92.6 130.5h0M93 128.9h0M93.2 138.2h0M93.3 130.9h0M93.3 133.1h0M93.4 137.3h0M93.7 137h0M93.8 132.5h0M94 132.7h0M94 137.6h0M94 136.4h0M94.1 126.7h0M94.1 131.7h0M94.2 128h0M94.2 126.2h0M94.3 129.7h0M94.6 120.3h0M94.8 139.9h0M94.9 128.5h0M94.9 135.7h0M95 122.6h0M95 123.5h0M95.2 149.4h0M95.2 141.1h0M95.2 129.3h0M95.4 142.8h0M95.4 128.9h0M95.5 133.6h0M96 130.5h0M96.5 129.4h0M96.6 133.8h0M96.7 127.3h0M96.7 163h0M96.8 129.6h0M97 142h0M97.1 127.7h0M97.1 135.1h0M97.2 140.8h0M97.3 131.1h0M97.4 141h0M97.6 141h0M97.7 146.7h0M97.8 133.5h0M97.9 130.4h0M98.1 127.4h0M98.4 134.5h0M98.4 127.3h0M98.5 133.2h0M98.5 134.1h0M98.5 130h0M98.5 127.3h0M98.8 136.3h0M98.9 135.5h0M99 134.8h0M99.2 132.9h0M99.8 141.3h0M99.8 127.5h0M100.7 137h0M101.1 130.9h0M101.1 140.8h0M101.2 131.5h0M101.3 131.3h0M101.5 137.3h0M101.6 121.8h0M101.6 131.4h0M102 123.2h0M102.3 128h0M102.3 139.5h0M102.4 137.1h0M102.4 131.1h0M102.4 133.3h0M102.5 141.6h0M102.8 136.3h0M103 149.8h0M103 135.7h0M103.2 153.5h0M103.3 131.6h0M103.4 140.2h0M103.7 144.1h0M104.3 135.8h0M104.3 132.2h0M104.5 146.7h0M104.8 149.6h0M105 143.5h0M105 152.3h0M105 142.6h0M105.1 124.4h0M105.2 143.5h0M105.3 130h0M105.5 146.4h0M105.6 132.2h0M105.7 136.9h0M105.7 134.5h0M105.9 130.6h0M105.9 123.4h0M106 132.8h0M106 133.3h0M106.2 142.9h0M106.3 130.5h0M106.4 136.3h0M106.5 129h0M106.6 134.5h0M106.6 123.5h0M106.7 152.1h0M106.7 148.4h0M106.7 128.7h0M106.9 137.3h0M107 144.3h0M107 136.5h0M107.3 146.8h0M107.4 133.4h0M107.5 119.2h0M108.2 127.2h0M108.7 144.5h0M108.8 142.3h0M108.9 138h0M108.9 128.2h0M109.3 141.9h0M109.3 140.7h0M109.3 128.9h0M109.5 129.1h0M109.7 137.8h0M109.7 144.7h0M109.7 157.9h0M109.8 140.8h0M109.9 154.9h0M110.1 129.9h0M110.2 140.2h0M110.5 131.5h0M110.6 123.1h0M110.9 139.6h0M110.9 145.1h0M111 129.2h0M111 127.5h0M111.1 141.4h0M111.2 143.3h0M111.4 135.6h0M111.7 149.3h0M111.8 125.6h0M111.8 156.7h0M111.9 144.8h0M112 137.1h0M112.1 136.7h0M112.1 133.7h0M112.2 133h0M112.3 136.6h0M112.3 127.7h0M112.3 154.3h0M112.5 134.7h0M112.7 141.3h0M113.2 134h0M113.4 133.5h0M113.5 143.2h0M113.6 140.7h0M113.6 130h0M113.8 132.7h0M114 141.1h0M114.4 122.4h0M115 120.9h0M115 148.4h0M115.2 133.2h0M115.5 119.7h0M115.6 130.3h0M116 133.7h0M116.1 137h0M116.2 140.1h0M116.2 137.1h0M116.2 140.2h0M116.4 130.6h0M116.5 138.8h0M116.6 139.2h0M116.6 146.2h0M116.8 135.6h0M116.8 143.4h0M117 136.9h0M117.1 128.9h0M117.1 133h0M117.1 132.1h0M117.3 133.1h0M117.5 134.9h0M117.6 136.4h0M117.9 138.1h0M118 130.7h0M118.2 145.3h0M118.3 127.2h0M118.3 135.2h0M118.9 142.3h0M119.1 139.9h0M119.4 141.7h0M119.8 134.5h0M119.9 142.1h0M119.9 128.6h0M119.9 142.7h0M120 156.4h0M120 142.3h0M120 167.6h0M120.1 135.9h0M120.3 129.1h0M120.3 131.6h0M120.4 151.7h0M120.6 142.6h0M120.7 124.7h0M120.7 134.1h0M121.1 135.6h0M121.5 129.3h0M121.6 120.8h0M121.9 128.1h0M122 135.4h0M122.1 134.1h0M122.3 132.6h0M122.6 142.4h0M122.6 146.6h0M122.9 136.5h0M122.9 145.8h0M123.1 137.6h0M123.2 136.4h0M123.3 122.3h0M123.3 145.2h0M123.4 138.4h0M123.8 139.1h0M124 134.8h0M124.1 131h0M124.1 142.5h0M124.2 145.7h0M124.5 153.9h0M124.6 147.1h0M124.7 134.7h0M124.9 143.4h0M125 148.3h0M125.7 142.6h0M125.8 138.7h0M125.8 135.6h0M126.5 145.4h0M126.6 157.2h0M126.7 157.9h0M127 151.4h0M127.2 129h0M127.2 162.1h0M127.3 143.5h0M127.5 138.7h0M129.7 161.2h0M129.8 140.7h0M130 151.8h0M130 163.2h0M130.3 140.6h0M130.6 143.8h0M130.7 129.9h0M130.8 123.3h0M130.9 143.5h0M131 133h0M131.5 132.5h0M131.5 146.8h0M131.6 150.6h0M131.9 128h0M132.4 144.1h0M132.4 140.2h0M132.6 143h0M132.6 141.2h0M132.7 146.4h0M132.8 133.9h0M132.9 130h0M133.5 143h0M133.7 153.6h0M134.2 137.8h0M134.2 154h0M135.3 143.9h0M135.3 128.8h0M135.4 121.4h0M135.6 134.6h0M136.1 147.2h0M136.4 131.1h0M136.4 158.4h0M136.4 143.2h0M136.8 126h0M136.9 130.9h0M137 160.5h0M137.2 151.5h0M137.4 129.9h0M137.7 135.6h0M137.8 140.7h0M138 132.3h0M138.3 140h0M138.3 152.3h0M138.3 129.6h0M138.4 140.5h0M138.5 143.7h0M138.6 146.5h0M138.8 132.7h0M139 141.3h0M139 130.3h0M139.1 136.5h0M139.3 127.4h0M139.5 137.2h0M139.6 139.5h0M139.7 150.8h0M139.7 143.2h0M140 129.2h0M140.1 118.9h0M140.2 144.1h0M140.2 142.2h0M140.8 130.8h0M140.9 130h0M141 138.4h0M141.2 132h0M141.2 146h0M141.3 135h0M141.4 127.3h0M141.8 134.4h0M142.2 133.2h0M142.3 133.9h0M142.3 129.3h0M142.3 125.7h0M142.4 129h0M142.6 137.5h0M142.7 129.5h0M142.7 126.3h0M142.7 137.1h0M142.8 142h0M143.7 128.1h0M143.7 128.8h0M143.8 125.7h0M144.2 129.8h0M144.3 135.2h0M144.4 133.5h0M144.5 137.8h0M144.5 137.2h0M144.5 134.3h0M144.6 135.6h0M144.6 124.5h0M144.7 139.1h0M144.8 130.4h0M144.9 134.2h0M144.9 122.6h0M145 128.4h0M145.2 132.4h0M145.2 125.7h0M145.3 129.2h0M145.4 133h0M145.6 122.1h0M145.8 125.8h0M145.9 121h0M145.9 123.7h0M145.9 125.5h0M146.3 128.2h0M146.5 136.1h0M146.8 125.3h0M146.9 128.1h0M146.9 137h0M146.9 128.5h0M147.1 132.9h0M147.2 134.9h0M147.2 125h0M147.2 122.4h0M147.3 130h0M147.3 126h0M147.4 121.9h0M147.5 133.5h0M147.5 140.9h0M147.5 149.7h0M147.8 122.6h0M147.9 126.5h0M147.9 130.7h0M148.2 138h0M148.6 128.3h0M149 122.8h0M149.3 128.5h0M149.3 129.3h0M149.3 124h0M149.4 134h0M149.5 126.3h0M149.6 124.1h0M149.8 130.9h0M150.3 130.8h0M150.3 125h0M150.4 126.5h0M150.9 126.8h0M151.2 124.5h0M151.2 124.5h0M151.3 130.4h0M151.5 128.9h0M151.7 123.6h0M151.7 121.2h0M151.7 120.3h0M152 130h0M152.1 121.3h0M152.2 122.5h0M152.2 139.5h0M152.4 123.5h0M152.8 122.3h0M153.2 118.8h0M153.5 131.2h0M153.6 123.2h0M153.7 126.2h0M154.4 126.6h0M154.4 121.2h0M154.5 122.4h0M154.7 131h0M154.8 127.1h0M154.9 124.6h0M155.2 133.2h0M155.2 122.3h0M155.2 125.9h0M155.3 124.9h0M155.4 124.3h0M155.5 118.9h0M155.6 125.4h0M155.6 127.5h0M156 119.2h0M156.1 128.3h0M156.1 128.4h0M156.8 133.2h0M156.9 121.7h0M157.1 124.6h0M157.3 123.9h0M157.3 125h0M157.7 126.4h0M157.8 130h0M158.1 130h0M158.1 124.1h0M158.1 125.2h0M158.2 119.7h0M158.2 129.9h0M158.5 128.4h0M158.8 131.3h0M158.8 122.5h0M159.1 132.5h0M159.1 122.9h0M159.2 120.5h0M159.2 126.5h0M159.5 123.1h0M159.9 137.4h0M160 127.9h0M160.5 134.9h0M160.8 125.2h0M160.9 125.8h0M161.1 130.1h0M161.2 122.4h0M161.3 124.6h0M161.4 128.8h0M161.6 128.7h0M161.7 134h0M161.9 127h0M162.2 119.9h0M162.4 130h0M162.4 124.5h0M162.9 129.4h0M162.9 123.3h0M162.9 124.7h0M163 127.8h0M163.3 136.8h0M163.7 129.8h0M163.7 122.2h0M163.7 128.3h0M164.4 124.7h0M164.4 130.1h0M164.6 138.5h0M164.7 125.7h0M164.7 126.1h0M164.8 130.9h0M164.9 129.7h0M165 126.4h0M165.4 131.4h0M165.9 126.6h0M166.3 129.6h0M166.3 143.3h0M166.4 129.3h0M166.5 132.2h0M166.6 146.4h0M166.7 126.7h0M166.8 131.7h0M167 126.3h0M167 123.9h0M167.1 128.1h0M167.4 139.1h0M167.5 133.8h0M167.6 124.9h0M167.6 130.7h0M167.7 134.4h0M168 129.9h0M168.2 127.1h0M168.3 128.2h0M168.7 127.2h0M169.5 135.9h0M169.7 132.1h0M169.7 132h0M170 130.5h0M170.3 145.5h0M170.3 132.2h0M170.3 140.2h0M170.3 123.8h0M170.4 123.1h0M170.5 122.5h0M170.5 126.7h0M170.5 134.2h0M170.5 126h0M170.7 132.2h0M170.7 136.3h0M170.8 137.4h0M170.9 135.1h0M170.9 128.5h0M171 122.2h0M171.5 131.4h0M171.5 120h0M171.7 118.3h0M172.1 141.2h0M172.1 131.7h0M172.3 138.9h0M172.4 132.7h0M172.5 135.8h0M172.6 132.3h0M172.8 126.9h0M172.9 127h0M173.4 130.8h0M173.5 132.3h0M173.5 131.6h0M173.6 131.6h0M173.7 129.3h0M173.7 132.4h0M173.8 129.7h0M173.8 142.8h0M173.9 128.3h0M174 123.2h0M174.1 131.6h0M174.1 143.9h0M174.1 125.4h0M174.2 135.3h0M174.6 157h0M174.8 134.7h0M175.1 129.8h0M175.2 131h0M175.3 126.4h0M175.6 129.9h0M175.8 132.7h0M175.8 149.6h0M175.8 142.5h0M175.9 132.4h0M176 129.8h0M176 141.9h0M176.2 138.6h0M176.4 131.1h0M176.5 149.4h0M176.6 149.8h0M176.6 135.7h0M176.6 132.4h0M176.7 137.8h0M176.7 152.8h0M176.9 133.7h0M176.9 144.9h0M176.9 130.3h0M176.9 134.8h0M177.1 132.5h0M177.2 130.5h0M177.2 138.4h0M177.4 129.5h0M177.4 127.2h0M177.4 131.9h0M177.5 126.8h0M178 139.7h0M178.4 129.5h0M178.4 133.1h0M178.4 142.9h0M178.4 135.3h0M178.6 139.1h0M179 139.5h0M179.2 134.5h0M179.3 136.8h0M179.4 137.7h0M179.8 134.5h0M179.9 147.8h0M179.9 134.7h0M180 128.8h0M180.1 130.8h0M180.2 132.7h0M180.2 139.9h0M180.3 143.8h0M180.8 136.5h0M180.8 147.2h0M180.9 146.3h0M180.9 130.3h0M181.3 143.9h0M181.4 125.6h0M181.4 148.3h0M181.4 133.5h0M181.5 146.2h0M181.5 135h0M181.5 145.1h0M181.7 135.9h0M181.9 137.6h0M182.1 140.3h0M182.5 133.5h0M182.6 127.8h0M183.5 142.2h0M183.7 131.9h0M183.9 136.7h0M184 137.5h0M184.1 124.3h0M184.1 156.4h0M184.4 143.4h0M184.6 153.5h0M184.6 147.9h0M184.6 139.5h0M184.6 119h0M185 135.6h0M185.1 127h0M185.1 130h0M185.2 141.7h0M185.4 135h0M185.4 127.9h0M185.5 136.9h0M185.5 136.7h0M185.6 134.9h0M186.1 165.1h0M186.2 145.5h0M186.5 136.3h0M187 135.3h0M187 147h0M187.3 141.7h0M187.3 139.9h0M187.7 140.2h0M187.8 134.6h0M188.3 138.2h0M188.4 137.9h0M188.4 151.9h0M188.5 148.6h0M188.7 137h0M188.7 153.6h0M188.9 137.3h0M189.1 145.1h0M189.1 146.5h0M189.2 135h0M189.5 145.3h0M189.8 147.1h0M189.9 145.4h0M190 138.7h0M190.1 122.1h0M190.1 158.9h0M190.1 139.4h0M190.2 141.4h0M190.5 133.2h0M190.7 142.7h0M190.9 162.4h0M191.3 131h0M191.4 149.6h0M191.6 139.9h0M191.6 152.2h0M191.8 149.7h0M191.9 144.1h0M191.9 133.9h0M192 134h0M192 145.1h0M192.1 136.2h0M192.1 142.9h0M192.8 138.7h0M193 138.5h0M193.2 135.5h0M193.6 145.5h0M194.1 140.9h0M194.3 138.2h0M194.5 139.1h0M194.5 147.4h0M194.6 128.6h0M194.7 144.2h0M194.8 134.8h0M195 138.4h0M195.3 131.9h0M195.3 160.9h0M195.4 126.5h0M195.5 141.9h0M195.5 151.8h0M195.6 138.9h0M195.7 125.2h0M195.7 136.5h0M195.8 151.8h0M195.8 144.4h0M195.9 131.2h0M196.2 153.6h0M196.5 141.7h0M196.5 142.8h0M196.6 125.8h0M196.8 142.9h0M196.9 131.4h0M197.2 158.5h0M197.3 147.9h0M197.4 133.4h0M197.6 135.9h0M197.6 164.2h0M197.9 135.8h0M198 135.8h0M198 146.2h0M198.1 138.6h0M198.1 138.3h0M198.2 145h0M198.2 145.9h0M198.3 146.8h0M198.4 142.9h0M198.4 153.3h0M198.4 140.6h0M198.4 155h0M198.6 139.6h0M198.7 141.1h0M199.1 150.6h0M199.1 134.5h0M199.2 127.4h0M199.8 131.4h0M199.9 154h0M200 131.8h0M200.2 138.8h0M200.3 140.9h0M200.8 146.4h0M200.8 140.5h0M200.8 131.1h0M201 136.7h0M201.1 144.7h0M201.1 147.3h0M201.3 144.7h0M201.4 136.5h0M201.5 127.9h0M204.2 133.6h0M204.2 122.2h0M204.3 140.1h0M204.5 128.7h0M204.8 132.1h0M204.9 128.1h0M205 132.3h0M205 136.1h0M205.2 129.4h0M205.3 139.1h0M205.9 127.6h0M206.1 131.9h0M206.8 125.4h0M207 132.1h0M207.3 133.4h0M207.6 127.3h0M207.9 123.6h0M207.9 141.7h0M208 128.2h0M208.2 126h0M208.3 137.3h0M208.6 133.7h0M208.6 125.7h0M209 133.1h0M209.2 131.9h0M209.3 121.1h0M209.3 133.6h0M209.3 133.1h0M209.4 141.7h0M209.4 134.4h0M209.7 135h0M209.7 121h0M209.9 122.8h0M210 135h0M210 119.9h0M210.2 124.5h0M210.2 128.5h0M210.9 124h0M211.1 125.5h0M211.3 131.1h0M211.4 136.6h0M211.6 131.7h0M211.7 126.6h0M211.8 128.5h0M212 130.5h0M212.5 122.6h0M212.8 131.7h0M212.8 131.1h0M213 128.4h0M213.1 133.2h0M213.2 131.6h0M213.2 125.7h0M213.5 129.6h0M213.7 134.4h0M213.9 125.4h0M213.9 125.6h0M214 122.5h0M214 124.3h0M214.1 130.3h0M214.2 128.2h0M214.5 137.5h0M214.7 130.6h0M214.7 120.7h0M214.9 119.9h0M215.3 122.4h0M215.5 124h0M215.9 123h0M215.9 123.3h0M215.9 133.7h0M216 129.3h0M216.4 121h0M216.5 130.1h0M216.5 124.1h0M216.8 126.5h0M216.8 126.8h0M216.8 127.6h0M217.1 129.6h0M217.1 134.6h0M217.2 124.4h0M217.5 127.2h0M217.5 126h0M217.6 119.1h0M217.6 122.9h0M217.9 128.4h0M217.9 122.9h0M217.9 132.4h0M218 121.3h0M218 124h0M218 125.8h0M218.1 122.9h0M218.3 120h0M218.3 127.2h0M218.5 129.8h0M218.6 118.5h0M218.7 124.8h0M218.8 119.8h0M219.2 128.2h0M219.2 123.5h0M219.3 128h0M219.6 122.6h0M219.8 126.1h0M219.8 128.1h0M219.8 119.5h0M219.9 123.6h0M219.9 135h0M220 125.9h0M220.3 129.4h0M220.3 130.9h0M220.4 127.7h0M220.5 127.1h0M220.6 124.6h0M220.6 128.7h0M220.7 134.1h0M221 127.4h0M221.1 121.7h0M221.2 131.6h0M221.4 122.6h0M221.4 123.1h0M221.6 126.9h0M221.6 128.4h0M221.7 128.4h0M221.8 126.7h0M221.9 129.8h0M221.9 123.1h0M222 120h0M222 128.1h0M222.3 120.6h0M222.4 135.4h0M222.5 129.1h0M222.6 129.7h0M222.8 118.9h0M222.8 127.6h0M223.2 122h0M223.2 135h0M223.2 124.2h0M223.2 122.7h0M223.3 124.8h0M223.4 138.4h0M223.6 124h0M223.6 121.8h0M224.1 132.3h0M224.4 123.2h0M224.5 133.1h0M224.7 125.6h0M224.9 121.4h0M224.9 128.6h0M225.1 122.6h0M225.2 126.9h0M225.3 124.2h0M225.3 121.9h0M225.4 128.1h0M225.4 119.4h0M225.7 123.9h0M225.9 123.3h0M226.5 128.2h0M226.6 124.2h0M226.7 125.8h0M226.8 131.8h0M226.9 132.2h0M227 123.4h0M227 124.8h0M227.1 137.8h0M227.9 135.3h0M228 125.9h0M228.1 124.7h0M228.3 122.3h0M228.4 130.6h0M228.5 127.6h0M228.5 125.9h0M228.7 127h0M228.8 125.1h0M228.8 121h0M228.9 122.5h0M229 121.4h0M229.1 128h0M229.1 125.9h0M229.1 130.5h0M229.2 127.4h0M229.3 126.6h0M229.6 127h0M229.9 122.1h0M229.9 123.2h0M230.1 122h0M230.4 124.3h0M230.6 121h0M230.7 124.4h0M230.8 121.4h0M231 123.1h0M231.2 122.3h0M231.4 125.3h0M231.5 131.7h0M231.6 132.8h0M231.8 119.6h0M231.8 123.7h0M231.9 123.5h0M232.2 126.1h0M232.2 127.7h0M232.3 119.6h0M232.3 131.3h0M232.6 125.6h0M232.8 125.6h0M233 137.7h0M233 132.4h0M233.1 129.2h0M233.1 127.3h0M233.2 128.1h0M233.5 122.4h0M233.7 132.1h0M233.7 124h0M233.9 120h0M234.2 122.2h0M234.4 132.1h0M234.5 142.5h0M234.6 122.5h0M234.9 123.8h0M235 129.1h0M235.1 120.9h0M235.2 128.1h0M235.5 125.5h0M235.8 132h0M235.8 124.7h0M235.9 128.4h0M235.9 128.9h0M236 121.8h0M236 125.1h0M236 134.7h0M236.1 123.3h0M236.4 122.8h0M236.9 131.1h0M237.3 128.6h0M237.3 126h0M237.4 127.8h0M237.4 125.8h0M237.5 123.7h0M237.6 129.3h0M237.6 121.5h0M237.7 130.6h0M238 129.7h0M238.2 118.5h0M238.3 118.9h0M238.4 126.3h0M238.8 127.7h0M238.8 133.1h0M239.1 122h0M239.1 126h0M239.2 132h0M239.3 125.1h0M239.3 121.1h0M239.5 124h0M239.8 126h0M240 122.2h0M240 125.2h0M240 127.3h0M240.2 124.9h0M240.2 122.1h0M240.3 123.6h0M240.3 122.8h0M240.7 126.4h0M240.8 124.2h0M241.1 122.3h0M241.1 128.6h0M241.1 135.9h0M241.2 120.2h0M241.3 125.1h0M241.5 130.6h0M241.5 126.7h0M241.7 129.5h0M241.8 139h0M242.2 129.3h0M242.3 137.5h0M242.6 127.3h0M242.6 128.9h0M243 123.3h0M243.1 129.3h0M243.2 126.8h0M243.2 130.5h0M243.4 131.1h0M243.5 138.1h0M243.8 124.2h0M243.9 128h0M244.2 132.9h0M244.6 128.1h0M244.7 132h0M244.9 134.3h0M245.3 128.2h0M245.9 123.9h0M245.9 131.6h0M245.9 139.9h0M246.1 134.2h0M246.2 121.2h0M246.6 135.8h0M246.8 124.3h0M246.9 131.8h0M246.9 126.5h0M247.3 131.1h0M247.3 141.9h0M247.4 140.6h0M247.7 120h0M248.1 131.6h0M248.5 127.9h0M248.7 133.4h0M248.8 131.9h0M248.9 129.3h0M249.1 128.6h0M249.3 120.1h0M249.3 131.2h0M249.3 132.5h0M249.4 136.2h0M249.6 141.3h0M249.6 143.6h0M249.6 127.9h0M249.6 159.1h0M249.9 124.1h0M249.9 127h0M250.1 133.8h0M250.3 140.5h0M250.7 131.6h0M250.9 131.7h0M251 140.5h0M251.1 137.7h0M251.1 134.9h0M251.2 132.4h0M251.3 134.2h0M251.5 137h0M251.6 145.8h0M251.6 145.2h0M251.7 137.5h0M251.7 133.9h0M251.7 126.8h0M251.9 119.9h0M252.3 123.2h0M252.5 130.4h0M252.7 122.4h0M253.2 133.7h0M253.6 137.3h0M253.8 120.3h0M254.1 142.1h0M254.2 136.7h0M254.4 135.5h0M254.4 125.2h0M254.4 152.5h0M254.5 129h0M255 137h0M255 144h0M255.3 132.4h0M255.3 132.7h0M255.3 143.6h0M256.1 141.5h0M256.9 141.3h0M256.9 128.8h0M257.1 131.8h0M257.1 133.1h0M257.1 131.6h0M257.4 138.8h0M257.7 131.9h0M257.7 140.1h0M258 146.7h0M258.2 141.2h0M258.2 133.7h0M258.3 134.5h0M258.3 128.7h0M258.5 150.2h0M258.5 137h0M258.8 132.8h0M258.8 143.9h0M258.8 133.7h0M258.8 150.8h0M258.9 145.4h0M259.5 128.7h0M260 148.5h0M260.1 129.7h0M260.2 139.7h0M260.4 144.6h0M260.5 144.2h0M260.5 142.9h0M260.5 143.9h0M261.2 134.8h0M261.4 154h0M261.5 128.9h0M261.5 131.4h0M261.7 128.1h0M261.9 146.1h0M262 158.6h0M262.1 142.8h0M262.1 138.5h0M262.1 135.1h0M262.2 141.9h0M262.4 137.9h0M262.7 136.3h0M262.7 151.9h0M262.8 126h0M262.9 148.1h0M263.3 136h0M263.9 131.1h0M264 145.5h0M264 138.1h0M264.1 127.7h0M264.4 141h0M264.6 131.7h0M264.6 136.5h0M264.6 136.9h0M264.9 133.9h0M265.4 141h0M265.5 140.9h0M265.6 132.7h0M265.6 137.3h0M265.8 135.8h0M265.9 150.7h0M266.1 143.4h0M266.2 131.4h0M266.2 133.4h0M266.2 137.1h0M266.3 144.4h0M266.3 145.3h0M266.5 136.6h0M266.7 140.1h0M266.8 139.4h0M266.8 131.1h0M267.3 142.8h0M267.5 132.1h0M267.6 151.9h0M267.8 138.9h0M268.1 151h0M268.2 136h0M268.2 144h0M268.3 149.9h0M268.7 148.2h0M268.8 145.2h0M268.8 155.7h0M268.9 150.1h0M269 149.5h0M269.2 135.8h0M269.6 131.9h0M269.8 145.8h0M269.8 144.2h0M269.9 140h0M269.9 146.7h0M270 144.3h0M270.2 135.9h0M270.3 140.1h0M270.4 157.3h0M270.4 147.5h0M270.7 132h0M270.8 148.3h0M271 141.4h0M271.1 152.9h0M271.2 148.4h0M271.2 141.8h0M271.7 146.9h0M271.8 139.3h0M271.9 142.6h0M272.1 157.2h0M272.2 166.8h0M272.3 136.7h0M272.4 149.4h0M272.5 133.6h0M272.6 143.5h0M272.9 151.7h0M273.2 140.4h0M273.3 147h0M273.7 144.5h0M276 130.1h0M276 126.7h0M276.1 121.8h0M276.1 133.8h0M276.2 136.5h0M276.3 145.2h0M276.3 127.6h0M276.4 126.7h0M276.6 124.2h0M276.7 125.8h0M276.8 128.7h0M277 122.5h0M277 138.4h0M277.1 127h0M277.1 126.3h0M277.2 130.3h0M277.2 119.1h0M277.3 126.7h0M277.5 121.3h0M277.6 124h0M277.6 130.8h0M278.2 118.9h0M278.4 122.7h0M278.6 128.9h0M278.6 130h0M278.8 137.8h0M278.8 130.2h0M279 130.9h0M279.2 127.8h0M279.2 132.4h0M279.3 125.7h0M279.4 129.6h0M279.9 141.8h0M279.9 133h0M280 136.1h0M280 139.2h0M280.2 130.8h0M280.4 123.8h0M280.7 137.6h0M280.9 144.7h0M281.1 129.9h0M281.2 119.5h0M281.3 145.7h0M281.3 127.1h0M281.7 131.7h0M281.7 124h0M281.8 121h0M282.1 129.6h0M282.2 122.3h0M282.7 136.5h0M282.8 127.3h0M282.9 137.8h0M283.2 127.3h0M283.3 132.7h0M283.6 127h0M283.7 136.4h0M283.9 127h0M284.1 127.5h0M284.8 132h0M284.8 133.6h0M284.8 136.3h0M285.1 130.6h0M285.1 125.9h0M285.4 128.6h0M285.4 127h0M286.1 121.7h0M286.2 129.7h0M286.3 126.1h0M286.4 123.7h0M286.6 125.1h0M286.8 125.6h0M286.9 126.9h0M287.2 119.9h0M287.2 127.7h0M287.2 129.8h0M287.2 124.6h0M287.3 119.9h0M287.4 120.8h0M287.4 127h0M287.6 123.4h0M287.6 124.9h0M287.6 126.8h0M287.7 124.2h0M287.9 124.3h0M288 130.1h0M288.2 119.4h0M288.5 129.3h0M288.7 120.7h0M288.7 119.1h0M288.9 119.5h0M289.2 125.5h0M289.3 127.7h0M289.6 136.6h0M290 126.7h0M290.1 118.8h0M290.2 136.1h0M290.6 135.8h0M290.9 122.7h0M290.9 123.6h0M291.1 137.3h0M291.1 126.4h0M291.5 127.5h0M291.6 135.1h0M291.6 122.1h0M291.6 133.9h0M291.7 121.4h0M291.8 125.1h0M291.9 130h0M292 135.4h0M292.6 127.7h0M292.7 126.1h0M292.8 126.3h0M293.2 128.9h0M293.4 126.6h0M293.5 122.1h0M293.7 130.5h0M293.7 126.5h0M293.7 123.6h0M293.9 125.4h0M294 122h0M294.5 119.6h0M294.9 126.9h0M295.1 124.2h0M295.2 141h0M295.2 126.8h0M295.3 122.5h0M296 130.7h0M296 119.9h0M296.2 134.7h0M296.3 119.8h0M296.3 127.3h0M296.5 129.9h0M296.6 127.1h0M296.9 125.8h0M296.9 129.7h0M296.9 131.6h0M297 127.1h0M297 121.1h0M297.3 122.9h0M297.4 119.7h0M297.5 127.4h0M297.7 126h0M298 126h0M298.1 123.8h0M298.2 122.7h0M298.2 118.8h0M298.3 121.9h0M298.3 123.8h0M298.5 132.1h0M298.5 128.3h0M298.5 131.1h0M298.6 122.1h0M299 123.8h0M299 124h0M299.1 121.2h0M299.1 126.1h0M299.2 125h0M299.4 123.1h0M299.4 130.3h0M299.5 121.1h0M299.5 124.1h0M299.7 123.6h0M300.1 137h0M300.1 120.3h0M300.1 132.6h0M300.2 124.7h0M300.3 119.2h0M300.3 126.2h0M300.7 132.8h0M300.7 119h0M300.8 127.5h0M301 125.5h0M301.2 125.5h0M301.2 122.1h0M301.5 122h0M301.7 125.3h0M301.8 120.8h0M301.8 129.4h0M301.9 122.4h0M302 128h0M302.1 122.3h0M302.1 128.2h0M302.5 127.1h0M302.8 119.6h0M302.9 130.7h0M303.1 131h0M303.2 122.9h0M303.3 126.3h0M303.4 127.1h0M303.5 125.6h0M303.8 119.7h0M303.9 130.4h0M303.9 126.4h0M304.4 124.4h0M304.5 130h0M304.5 125.2h0M304.5 123.3h0M304.7 129.8h0M304.7 121.1h0M305.2 131.1h0M305.2 125.8h0M305.5 123.9h0M305.9 119.2h0M306 134.5h0M306 124.2h0M306.1 118h0M306.2 128.4h0M306.6 121.3h0M306.9 124.5h0M307 132.9h0M307.1 123.9h0M307.1 130.1h0M307.3 125h0M307.5 133.4h0M307.6 122.7h0M307.6 138.3h0M307.7 126.3h0M307.9 120.7h0M308 123.5h0M308.1 127.3h0M308.2 126.7h0M308.2 127.7h0M308.3 118.4h0M308.5 125.7h0M308.7 125.5h0M308.7 129.4h0M308.9 128h0M308.9 123.3h0M308.9 128.8h0M309.1 129.9h0M309.2 128.5h0M309.3 127.4h0M309.5 124.9h0M309.7 128.2h0M309.8 126.6h0M310.2 129.7h0M310.3 127.5h0M310.3 125.3h0M310.8 127.4h0M310.8 124.6h0M311.1 126h0M311.2 134.3h0M311.3 126.7h0M312 120h0M312.5 124.2h0M312.7 121.8h0M312.7 130h0M313.3 135.4h0M313.5 130.9h0M313.5 121.5h0M313.5 132.8h0M313.7 131.7h0M314 126.5h0M314.2 128.9h0M314.3 128.7h0M314.4 126h0M314.4 127.2h0M314.6 129.6h0M314.7 126.7h0M314.8 132.4h0M315.7 128.8h0M315.8 125.8h0M316.1 135.9h0M316.1 130.3h0M316.4 136.8h0M316.4 125.7h0M316.6 126.5h0M316.8 125.1h0M317.1 124.9h0M317.1 124.9h0M317.2 126.4h0M317.3 135.4h0M317.4 125.5h0M318.2 137.2h0M318.3 119.2h0M318.4 129.3h0M318.4 127.8h0M318.6 140h0M318.8 125.6h0M318.8 125.1h0M319 143h0M319 135.4h0M319 134.7h0M319 136.1h0M319.2 124.3h0M319.3 120.3h0M319.4 139.6h0M319.7 126.2h0M319.7 136.5h0M319.8 124.7h0M320.2 151.5h0M320.2 135.6h0M320.5 125.8h0M320.8 138.8h0M320.8 126.1h0M321.2 136.9h0M321.2 126.5h0M321.2 129.5h0M321.4 136.2h0M321.4 139h0M321.5 134.2h0M321.5 126.4h0M321.6 132.8h0M321.7 138.3h0M322 119.6h0M322.1 145.9h0M322.1 134.7h0M322.2 129.9h0M322.3 141.6h0M322.3 133h0M322.4 136.4h0M322.4 145.3h0M322.4 130.4h0M322.5 142.4h0M322.5 139.2h0M322.8 126.1h0M322.8 142.4h0M322.9 129.7h0M323 126.4h0M323.2 127.5h0M323.3 130.4h0M323.3 135.1h0M323.4 144.9h0M323.5 132.3h0M323.7 130.6h0M323.8 137.5h0M323.8 141.5h0M324.2 128.3h0M324.4 142.3h0M324.5 130.8h0M324.7 137.5h0M325 147.9h0M325.1 133.8h0M325.1 129.9h0M325.2 130.3h0M325.4 145.7h0M325.4 134.6h0M325.6 131.9h0M325.8 140h0M325.9 124h0M326.1 151.2h0M326.2 142.8h0M326.5 150.3h0M326.7 147.5h0M326.8 145.1h0M326.9 130.4h0M326.9 140.1h0M327 139.8h0M327.3 141.9h0M327.5 147.1h0M327.7 142h0M327.7 142.8h0M327.7 145.4h0M327.8 137.5h0M327.9 155.5h0M328 140h0M328.1 126.8h0M328.2 138.5h0M328.2 134.9h0M328.5 140.8h0M328.8 140.6h0M328.9 135.2h0M329 146.7h0M329.1 136.1h0M329.6 149.8h0M329.8 132.5h0M329.9 149.1h0M330.3 130.6h0M330.5 128.4h0M330.7 149.5h0M330.7 130.3h0M330.9 138.2h0M330.9 127.2h0M331.2 138.9h0M331.4 144.2h0M331.6 136.4h0M331.8 126h0M332 150.5h0M332.6 128.2h0M332.8 131.9h0M332.8 136.9h0M333.4 134.2h0M333.6 126.4h0M333.6 127.1h0M333.7 122.2h0M333.7 137.3h0M333.8 147.6h0M333.9 136.2h0M334 133.2h0M334.1 135.1h0M334.2 124.4h0M334.3 119h0M334.3 129h0M334.6 145.5h0M334.7 125.1h0M334.7 136.2h0M334.8 130.5h0M334.9 126h0M334.9 128.5h0M335.2 131h0M335.5 128.4h0M335.6 125.8h0M335.6 126.5h0M335.6 119h0M335.8 153.3h0M336.5 135.2h0M336.5 133.7h0M336.6 124.7h0M336.7 127.6h0M336.8 124.4h0M337.2 139.2h0M337.3 130.1h0M337.3 125h0M337.3 128.8h0M337.4 131.2h0M337.5 126.7h0M337.7 119.7h0M337.9 143.2h0M337.9 119.9h0M338.1 126.1h0M338.1 133.8h0M338.6 124.2h0M338.7 127.6h0M338.9 121.9h0M339 134.3h0M339.1 123.4h0M339.1 135.3h0M339.1 126.7h0M339.2 124.9h0M339.3 129.4h0M339.3 125.3h0M339.7 134.1h0M339.8 123.8h0M340.1 134.1h0M340.1 135.8h0M340.3 131.4h0M340.5 131.1h0M340.6 137.8h0M340.6 126.1h0M340.7 132.1h0M341 127.8h0M341.5 145.4h0M341.6 146.4h0M341.7 135.1h0M341.8 141.7h0M341.8 134.1h0M341.9 129.3h0M342 126.2h0M342 124.1h0M342.6 128.9h0M342.8 141.2h0M343.2 131.3h0M343.3 140.3h0M343.5 131.7h0M343.9 146.7h0M344 127h0M344.3 134h0M344.4 140.4h0M344.5 152.2h0M344.8 137h0M344.9 151.5h0M345 137.6h0M345.2 148.9h0M345.4 147.8h0M345.4 136.8h0M345.8 131.6h0M346.2 160.6h0M346.2 147.5h0M346.4 142.5h0M346.5 148.1h0M347 154.2h0M347.1 129.9h0M347.1 159.7h0M347.2 145.8h0M347.4 156.6h0M347.6 152.3h0M347.7 182.5h0M347.9 143.9h0M348 155.7h0M348.3 167.7h0M351.1 155.7h0M351.1 162.1h0M351.4 139.6h0M351.4 149.6h0M351.5 155.7h0M351.9 144.8h0M352.2 137.6h0M352.5 122.4h0M352.7 126.2h0M352.9 151.2h0M353.2 145.1h0M353.3 163.1h0M353.5 162.6h0M353.5 161.1h0M353.7 132h0M353.7 140.9h0M353.7 156h0M353.8 146.7h0M354 144.4h0M354.2 145.9h0M354.2 127.9h0M354.2 159.5h0M354.6 143h0M354.6 147h0M354.7 134.7h0M354.9 159.6h0M355.4 136.1h0M355.4 149.4h0M355.7 142.5h0M355.9 151.7h0M356 132h0M356.5 118.9h0M357 130h0M357.1 138.9h0M357.2 160.4h0M357.6 130.5h0M357.8 128.6h0M357.9 144h0M358 129.9h0M358.1 149.4h0M358.4 144.7h0M358.6 133.6h0M358.6 145.3h0M358.7 130.4h0M358.8 126.9h0M358.9 133.8h0M358.9 131.6h0M358.9 126h0M359.1 131.3h0M359.2 127.3h0M359.5 126.6h0M359.7 140.8h0M359.9 122.9h0M359.9 127.6h0M360 132.3h0M360.1 129.1h0M360.2 131.3h0M360.3 131.7h0M360.8 139.3h0M360.9 135.3h0M360.9 141.9h0M361.2 127.6h0M361.2 130.3h0M361.6 130.5h0M361.7 133.1h0M361.7 126.7h0M362 148.4h0M362 138.2h0M362.1 127.9h0M362.6 134.7h0M362.7 129.1h0M362.7 125h0M362.8 128.4h0M363 141.5h0M363.1 133.3h0M363.2 139.3h0M363.2 129.7h0M363.2 127.3h0M363.3 133.3h0M363.4 129.5h0M363.6 133h0M363.6 123.4h0M363.6 131.1h0M364 130.5h0M364.1 129.1h0M364.1 127h0M364.2 128.5h0M364.3 131.6h0M364.4 131.1h0M364.5 129.2h0M364.7 128.8h0M365.1 133.5h0M365.2 134.8h0M365.3 132.6h0M365.4 129.1h0M365.5 133.8h0M365.7 137.7h0M366.2 132.9h0M366.2 133.8h0M366.6 128.2h0M366.7 133.8h0M366.9 133.1h0M367 122.9h0M367.2 128.7h0M367.4 136h0M367.5 125.5h0M367.8 132.5h0M368.1 135h0M368.1 127.6h0M368.1 138.6h0M368.1 130.6h0M368.2 127.9h0M368.3 127.2h0M368.5 133.2h0M368.5 133h0M368.8 130.4h0M369.4 125h0M369.5 151.8h0M369.5 126.5h0M369.5 128.6h0M369.6 124.4h0M370 136.1h0M370.1 125.1h0M370.1 134.5h0M370.3 128.3h0M370.4 131.7h0M370.4 143.6h0M370.8 129.6h0M371 127.6h0M371 125.8h0M371 132.7h0M371.1 135.8h0M371.4 126.3h0M371.4 131h0M371.9 124.8h0M372 123.4h0M372.1 130h0M372.2 129.6h0M372.3 132.6h0M372.7 139.7h0M372.8 128.4h0M372.9 125.6h0M372.9 139.3h0M373.5 128.2h0M373.7 121.2h0M373.8 130.8h0M374 128h0M374.2 130.8h0M374.2 130.2h0M374.2 129.3h0M374.3 131.5h0M374.8 129.8h0M375.1 126.4h0M375.1 127h0M375.1 133h0M375.2 125.5h0M375.4 131.7h0M375.5 125.6h0M375.9 126.8h0M376 137.3h0M376.1 132.5h0M376.1 123.6h0M376.2 130.4h0M376.2 130.4h0M376.4 129.1h0M376.6 126.4h0M376.8 139.2h0M376.9 128.2h0M376.9 120.7h0M377.3 129.5h0M377.4 128.9h0M377.4 127.4h0M377.5 125.8h0M377.8 121.2h0M378 118.6h0M378.3 127.8h0M378.5 126.8h0M378.6 123.8h0M378.6 126.6h0M378.6 123h0M378.7 138.8h0M378.9 122.9h0M379 137h0M379.1 123.9h0M379.2 123.4h0M379.3 120.1h0M379.4 130.3h0M379.4 123.2h0M379.4 123.4h0M379.4 130.4h0M379.8 124.6h0M380.2 129.5h0M380.3 131.1h0M380.4 132.8h0M380.5 126.2h0M380.8 130.3h0M380.9 135.4h0M381 124h0M381 133.6h0M381.1 122.6h0M381.2 124.1h0M381.3 129h0M381.6 132.6h0M382.1 129h0M382.1 131.2h0M382.4 126.3h0M382.5 126.2h0M382.6 118.3h0M382.6 134.6h0M382.8 127.2h0M383 122.6h0M383 121h0M383.6 120.1h0M383.7 129.6h0M384.5 122.2h0M384.5 148.6h0M384.6 126.1h0M384.8 122.1h0M385.1 122.7h0M385.2 132.7h0M385.6 129.8h0M385.7 137h0M385.9 129.5h0M385.9 132.9h0M386.2 124.6h0M386.4 129.8h0M386.4 123.4h0M386.4 126.3h0M386.5 127.5h0M386.6 119.5h0M387.6 121.6h0M387.8 133.7h0M388 122h0M388.3 123.4h0M388.5 121.2h0M388.6 124.6h0M388.7 137h0M389 128.8h0M389.4 141.4h0M389.5 135.3h0M389.7 131.3h0M390 122h0M390.1 127.1h0M390.2 126.5h0M390.7 124.7h0M390.8 133.6h0M390.9 123.2h0M390.9 127h0M391.2 134.3h0M391.2 131.9h0M391.5 129.9h0M391.5 125.7h0M391.7 122.3h0M391.8 130.6h0M391.8 130.1h0M392.1 120.8h0M392.1 118.3h0M392.1 134.1h0M392.2 128h0M392.4 131.4h0M392.4 139.8h0M392.9 128h0M393.1 135h0M393.1 123.2h0M393.4 118.1h0M393.6 135.8h0M393.6 135.5h0M393.6 133.5h0M393.8 147.2h0M394.1 126.4h0M394.2 154.5h0M394.5 127.3h0M394.5 128.6h0M394.8 127.1h0M395.1 141.9h0M395.2 130.3h0M395.3 129.8h0M395.7 126.9h0M395.7 132.1h0M396 136.1h0M396.1 125.8h0M396.3 124.7h0M396.3 124.9h0M396.6 146.1h0M396.9 129.5h0M397 139.5h0M397 133.7h0M397.3 128.6h0M397.7 144.4h0M397.7 119.4h0M398 126.5h0M398.8 140.1h0M398.9 138.5h0M399.2 134.7h0M399.2 135.3h0M399.2 144h0M399.2 135.3h0M399.4 154.7h0M399.5 139.4h0M399.5 124.6h0M399.5 134.9h0M399.6 137.6h0M399.8 126h0M399.9 132.9h0M400.2 131.5h0M400.2 139.7h0M400.5 129.1h0M400.5 138h0M400.6 130.5h0M400.7 131.8h0M400.7 125.8h0M401 130.1h0M401.2 136h0M401.3 144.7h0M401.4 138.5h0M401.8 142.1h0M402 127.8h0M402 140.2h0M402 155.7h0M402.4 134.6h0M402.5 132.2h0M402.6 144.7h0M402.6 132.9h0M402.6 148.2h0M402.7 135.7h0M402.8 138.5h0M402.9 135.4h0M403.1 135h0M403.2 143.2h0M403.5 133.1h0M403.8 142.2h0M403.9 137.3h0M404 130h0M404.1 151.8h0M404.1 137.8h0M404.3 129.2h0M404.4 131.1h0M404.8 144.7h0M404.9 144.2h0M405 135.8h0M405.1 144.7h0M405.2 138.6h0M405.2 151h0M405.2 140.9h0M405.4 153.3h0M405.7 138.8h0M406.2 135.8h0M406.5 146.1h0M406.5 154h0M406.6 151.5h0M406.7 157.2h0M406.8 131.9h0M406.9 157.6h0M407.1 152.2h0M407.2 138.8h0M407.2 140.5h0M407.2 134.7h0M407.4 133.1h0M407.4 138.3h0M407.6 143.1h0M407.7 146.2h0M407.8 142.9h0M407.9 135.7h0M407.9 137.7h0M408 137.7h0M408.3 156.8h0M408.5 148.7h0M408.5 148h0M409 147.1h0M409 151.9h0M409.1 138.2h0M409.4 136.2h0M409.5 131.6h0M409.6 147.5h0M409.7 143.7h0M409.7 142.2h0M409.7 142.9h0M409.9 150.6h0M409.9 138.2h0M410.4 162h0M410.4 147.8h0M410.5 161h0M410.7 139.7h0M410.7 156.5h0M410.8 154.4h0M410.9 143.8h0M411 153.5h0M411.2 142.3h0M411.3 147.7h0M411.4 131.7h0M411.5 155.7h0M411.5 151.9h0M411.6 140.6h0M411.7 143.5h0M411.7 141.4h0M411.8 147.1h0M411.8 138.3h0M412 142.2h0M412.1 136.1h0M412.4 157.8h0M412.4 143.1h0M412.8 149.5h0M412.9 142.4h0M413 154.3h0M413 139.8h0M413.1 158.2h0M413.1 139.4h0M413.1 141.6h0M413.1 162.9h0M413.6 142.9h0M413.7 164.9h0M413.8 141.9h0M414.1 161.9h0M414.1 146.6h0M414.2 148.7h0M414.2 162.3h0M414.3 164.7h0M414.3 142.6h0M414.3 150.9h0M414.5 138.8h0M414.6 146.7h0M414.6 127.5h0M414.8 145.1h0M416.8 118.5h0M416.8 126.2h0M417.3 129.6h0M417.5 136h0M417.7 132.4h0M417.9 126.3h0M417.9 138.4h0M418.6 127.9h0M418.8 129.6h0M419 143.9h0M419.1 127.2h0M419.2 120.4h0M419.2 130.9h0M419.3 129h0M419.6 125.7h0M420.1 131.8h0M420.1 141.1h0M420.3 126.7h0M420.3 130.5h0M420.5 132h0M420.7 119.4h0M420.8 126.1h0M420.8 132.6h0M420.8 132.1h0M420.8 118.9h0M421 122.4h0M421 140.5h0M421.1 123.4h0M421.3 130.3h0M421.4 131h0M421.6 120.7h0M421.7 122.7h0M421.7 132.8h0M421.9 126.4h0M422.1 128.7h0M422.2 127.1h0M422.2 124.1h0M422.2 131.3h0M422.3 119.7h0M422.4 119.9h0M423.1 130.6h0M423.1 136h0M423.1 129.2h0M423.1 121.7h0M423.2 124.8h0M423.2 126.2h0M423.3 124.9h0M423.5 136h0M423.7 125.9h0M423.9 126.3h0M424.4 129.6h0M424.7 121.8h0M424.8 142.1h0M424.8 133.8h0M424.9 122.1h0M424.9 122.4h0M425 124.8h0M425.2 124h0M425.4 123.3h0M425.6 123.5h0M425.7 131.1h0M425.7 121.4h0M425.7 118.3h0M425.9 123.2h0M425.9 126.4h0M426.1 119.9h0M426.3 122.1h0M426.3 129.2h0M426.4 125.2h0M426.4 136.4h0M426.5 120.5h0M427.2 131.9h0M427.2 119.5h0M427.3 128.2h0M427.5 123.1h0M427.7 126.6h0M427.8 122.7h0M427.9 120.2h0M427.9 121.7h0M428.2 130.6h0M428.2 125.3h0M428.4 123.4h0M428.4 119.9h0M428.4 126.6h0M428.5 126h0M428.6 127.9h0M428.7 124h0M428.7 121.4h0M429 128.8h0M429.1 119.7h0M429.2 119.6h0M429.6 121h0M429.6 121.7h0M429.8 119.6h0M429.9 129.5h0M430 127h0M430.5 120.2h0M430.7 131.2h0M430.9 123.7h0M431.1 140.2h0M431.1 130h0M431.3 130.2h0M431.3 126.2h0M431.4 124.1h0M431.6 123.5h0M431.7 123.1h0M431.7 125.1h0M431.9 125.4h0M432 123.3h0M432.1 129.2h0M432.7 135.1h0M433.1 123.1h0M433.1 138.3h0M433.2 124.3h0M433.3 121.6h0M433.6 134h0M433.6 139.8h0M433.7 131.8h0M433.7 125.6h0M433.8 132.6h0M434 123h0M434.1 124.6h0M434.4 133.3h0M434.7 124.4h0M434.8 136.3h0M435.1 130.6h0M435.2 127h0M435.3 122.6h0M435.4 124.8h0M435.5 122h0M436 137.6h0M436.6 119.5h0M436.7 134.6h0M436.7 127.9h0M436.8 122.4h0M436.8 126.9h0M436.9 124h0M436.9 137h0M437 136.5h0M437.2 132.3h0M437.6 133.4h0M437.8 129.3h0M437.8 132h0M437.8 137.5h0M437.9 128.9h0M438.1 139.4h0M438.2 134.8h0M438.3 128.8h0M438.5 136.4h0M438.7 130.6h0M438.7 127.6h0M438.8 123.9h0M438.8 125.2h0M439 126.7h0M439 128.5h0M439.1 139.3h0M439.1 136.6h0M439.2 136.8h0M439.6 134.9h0M439.9 132.3h0M440.3 138.3h0M440.6 135h0M441 126.9h0M441 135.3h0M441.1 159.2h0M441.1 134.3h0M441.1 133.3h0M441.3 135h0M441.5 122.3h0M441.9 128.3h0M442.1 124.7h0M442.3 137.4h0M442.4 129.3h0M442.5 131.8h0M442.6 133.7h0M442.8 139.2h0M443 141.2h0M443 147.4h0M443.1 128.5h0M443.2 119.6h0M443.2 126h0M443.3 148.6h0M443.4 132.4h0M443.5 138.9h0M443.5 137.9h0M443.8 135.5h0M443.8 127.7h0M444.3 130h0M444.4 139.9h0M444.6 130.9h0M444.6 132.9h0M445.1 123.7h0M445.1 144.9h0M445.6 135h0M445.7 141.2h0M445.7 134.4h0M445.9 149.4h0M446.2 148.9h0M446.3 135.2h0M446.4 138.9h0M446.4 141.1h0M446.5 135.4h0M446.5 138.7h0M446.6 141.5h0M446.6 136.3h0M446.7 134.3h0M446.8 132.8h0M446.9 147.7h0M447.1 137.8h0M447.2 132.9h0M447.5 145.8h0M447.9 134.2h0M448.3 138.8h0M448.5 129.5h0M448.7 128.8h0M448.8 133.8h0M448.9 139.1h0M449.1 147.5h0M449.1 139.4h0M449.2 141.9h0M449.3 135.1h0M449.4 127.4h0M449.7 125.6h0M449.7 133.9h0M450.1 136.4h0M450.1 141.3h0M450.4 134.1h0M450.4 137.3h0M450.9 126.7h0M451.4 142h0M451.5 142.9h0M451.5 154h0M451.8 131.1h0M451.8 126.6h0M452 132.7h0M452.1 135.1h0M452.2 135.9h0M452.3 133.2h0M452.4 140h0M452.9 127.7h0M453 127.1h0M453.1 131.1h0M453.6 132.3h0M453.7 139.9h0M453.9 126.9h0M454.1 147.8h0M454.3 142.6h0M454.3 125.4h0M454.4 140.2h0M454.4 143.4h0M454.5 158.1h0M454.6 131.3h0M454.8 130.5h0M454.9 135.8h0M454.9 150.1h0M455.2 137.7h0M455.2 143.4h0M455.3 132.2h0M455.6 129.2h0M455.7 134.9h0M456 135.3h0M456.2 129.3h0M456.2 128.5h0M456.2 147.6h0M456.7 135.9h0M456.8 148.3h0M457 145.2h0M457.2 132.6h0M457.2 148.4h0M457.4 140.6h0M457.4 142.9h0M457.5 136.8h0M457.5 153.3h0M457.8 140.5h0M457.8 141.6h0M458.1 147.8h0M458.1 128.3h0M458.2 139.8h0M458.7 140.5h0M458.7 134.8h0M458.8 140h0M458.9 152.7h0M459.3 141.5h0M459.5 144.4h0M459.7 141h0M460.1 136.1h0M460.1 137.2h0M460.3 139.5h0M460.8 144.7h0M461 143.3h0M461 131.5h0M461 158.8h0M461.1 136.6h0M461.2 141h0M461.6 150.7h0M462.4 145.3h0M462.5 141.4h0M462.6 159h0M462.7 144.5h0M462.8 142h0M463 154.4h0M463.1 145.2h0M463.3 137.1h0M463.6 145.4h0M463.6 155.1h0M463.7 162.5h0M463.9 164.6h0M464 140.7h0M464.1 149.1h0M464.1 162.2h0M464.2 149.3h0M464.2 154.7h0M464.2 135.9h0M464.3 143.2h0M464.5 138.4h0M464.6 160.4h0M464.7 144.8h0M464.8 144.5h0M464.8 160.3h0M465 158.1h0M465.2 158h0M465.2 143.2h0M465.8 149.8h0M465.9 158.7h0M466.1 147.4h0M466.4 159.2h0M466.4 152h0M466.4 153.5h0M468.7 126.1h0M468.9 133h0M469 139.8h0M469.1 135.4h0M469.5 128.6h0M469.9 141.4h0M470 132.8h0M470 138.1h0M470 125.1h0M470.2 156.1h0M470.9 145.2h0M470.9 123.6h0M470.9 143.2h0M470.9 139.5h0M471 143.4h0M471 153.5h0M471.1 132.9h0M471.6 127.6h0M471.9 129.6h0M472 142.2h0M472 136h0M472.1 121.6h0M472.5 132.5h0M472.7 138.6h0M472.9 125.6h0M473 132.9h0M473.2 145.7h0M473.2 137.3h0M473.5 125.1h0M473.8 131.2h0M473.9 130.5h0M473.9 126.3h0M474 135.7h0M474.1 141.3h0M474.2 129.6h0M474.3 134.2h0M474.5 129.3h0M474.5 134.9h0M474.9 134.5h0M474.9 139.4h0M474.9 127.4h0M475.1 119.5h0M475.3 137.6h0M475.4 122.8h0M475.6 125h0M475.6 132.9h0M475.6 145.9h0M475.7 125.6h0M475.7 130.6h0M475.8 130.1h0M476.3 130.8h0M476.4 120.2h0M476.6 138.2h0M476.6 125.6h0M476.7 119.5h0M477 126.3h0M477.1 119.3h0M477.1 126.9h0M477.1 126.2h0M477.1 123.5h0M477.2 131.5h0M477.2 126.7h0M477.4 124.2h0M478.3 129.8h0M478.4 123.9h0M478.4 121.4h0M478.6 132.4h0M478.7 126.2h0M478.9 123.9h0M478.9 129.5h0M478.9 121.5h0M479.1 120.6h0M479.2 128.2h0M479.3 127h0M479.7 128.4h0M479.7 125.6h0M479.8 123.2h0M480.2 125.8h0M480.2 124.3h0M480.6 127.3h0M480.8 120.5h0M481 121.5h0M481.5 128.2h0M481.6 122.8h0M481.6 119.8h0M481.7 127.3h0M482.5 119.8h0M482.7 119.7h0M482.7 125.8h0M482.8 121.9h0M483 136.6h0M483.2 119.8h0M483.4 122.4h0M483.7 121.7h0M483.7 124h0M483.8 121.2h0M483.9 131.6h0M484.1 122.1h0M484.3 126.1h0M484.4 125.5h0M484.5 124.5h0M484.6 125.7h0M484.7 129h0M484.9 131.4h0M484.9 134.9h0M485.5 129.5h0M485.6 139h0M486.1 131.3h0M486.3 131.8h0M486.4 126.7h0M486.4 125.8h0M486.4 118h0M486.9 124.9h0M486.9 120.8h0M487 122.8h0M487 123.5h0M487.1 126.1h0M487.1 122.2h0M487.1 122.7h0M487.4 131.9h0M487.4 122.1h0M487.5 125.5h0M487.6 132.9h0M487.6 128.6h0M487.7 122h0M487.8 121.2h0M488 125.1h0M488.3 120.2h0M488.5 121.7h0M488.6 132.6h0M488.6 130.2h0M488.8 123.2h0M488.9 129.1h0M489.2 127.7h0M489.2 123.4h0M489.2 125.9h0M489.4 128h0M490.4 131.7h0M490.5 120.2h0M490.6 131.7h0M490.6 138h0M490.8 120.6h0M490.9 124.9h0M491.3 142.6h0M491.3 130.3h0M491.4 120.3h0M491.8 121.7h0M492 134.5h0M492.1 131.5h0M492.3 122.1h0M492.8 118.7h0M492.9 127.1h0M493 121h0M493.5 132.5h0M493.6 132.9h0M493.6 130.7h0M493.8 122.6h0M493.8 123.6h0M494.1 121.8h0M494.1 133.4h0M494.2 119.3h0M494.3 126.3h0M494.5 118.8h0M494.7 123.4h0M494.7 133.6h0M494.9 124.4h0M495 128.6h0M495 119.6h0M495.2 123.5h0M495.4 120h0M495.7 128.6h0M496.2 128.7h0M496.2 124.2h0M497 124.8h0M497.1 130.1h0M497.5 123.4h0M497.5 121h0M497.6 127.2h0M497.6 128h0M497.6 128h0M497.8 123.5h0M497.9 126.1h0M498.2 124h0M498.5 121.6h0M498.5 127.5h0M498.8 127.5h0M498.9 127.6h0M498.9 120.4h0M498.9 126.6h0M498.9 125.8h0M499 127.7h0M499.1 122.7h0M499.3 124.6h0M499.4 132.8h0M499.4 122.6h0M499.5 124.7h0M499.6 121.7h0M499.9 124.4h0M500 126.8h0M500 137.8h0M500.2 122.8h0M500.5 121.9h0M500.6 132h0M500.8 127.3h0M501.2 125.3h0M501.3 127.9h0M501.4 125.6h0M501.5 142.3h0M501.7 131.2h0M501.8 122.5h0M501.8 137.7h0M501.9 124.9h0M502.4 132.5h0M502.4 127.6h0M502.6 131.9h0M502.7 127.2h0M502.7 131.7h0M502.9 126.8h0M503.2 137h0M503.7 135.5h0M503.9 129.8h0M504 126.3h0M504.4 135h0M504.4 120.9h0M504.6 132.2h0M504.6 126.2h0M504.7 142h0M505 137h0M505.1 137.2h0M505.1 138.4h0M505.2 141.3h0M505.3 133.5h0M505.4 136.7h0M505.6 123.4h0M505.9 131.8h0M505.9 130h0M506.1 146.4h0M506.1 124.4h0M506.3 124.3h0M506.4 140h0M506.7 140.1h0M506.8 138.1h0M507.2 125.7h0M507.4 143.1h0M507.6 141.1h0M507.8 145.8h0M507.8 132.2h0M507.9 129.3h0M508 141.3h0M508 127.9h0M508.2 133.2h0M508.2 140.6h0M508.2 131.1h0M508.6 127.7h0M508.7 127.8h0M508.7 131.8h0M508.9 127.7h0M509 134.9h0M509.2 133.4h0M509.3 125.5h0M509.5 136.4h0M509.6 142.3h0M509.6 145.8h0M509.7 140h0M509.7 151.4h0M509.8 143.6h0M509.9 145.5h0M510.2 137.8h0M510.2 152.4h0M510.3 137.3h0M510.4 136.5h0M510.4 132h0M510.8 131h0M510.9 128h0M511 139.2h0M511 149h0M511.4 133h0M512.1 135.8h0M512.1 142.2h0M512.3 133.5h0M512.4 126.8h0M512.5 136.4h0M512.7 142.7h0M512.8 137.7h0M513.1 147.6h0M513.2 127.2h0M513.2 150.5h0M513.3 156.8h0M513.7 133.6h0M513.8 141.7h0M514 151.7h0M514 134.3h0M514 133h0M514.1 155.5h0M514.1 136.3h0M514.4 134.4h0M514.6 129.1h0M514.8 138h0M515 136.4h0M515.1 140.6h0M515.4 137h0M515.6 130.7h0M515.8 137.4h0M515.9 148.2h0M516 143h0M516.1 129.5h0M516.1 154.7h0M516.1 148.3h0M516.2 149h0M516.2 133.8h0M516.4 151.4h0M516.5 147h0M516.9 143.7h0M516.9 139.5h0M516.9 139.1h0M517 154.8h0M517.1 155h0M517.2 158h0M517.3 144.7h0M517.3 146.1h0M517.4 142.5h0M517.5 143.9h0M517.6 159.1h0M517.8 161h0M517.8 155.7h0M517.9 130.9h0M518.3 148.7h0M518.6 141.5h0M518.7 155.6h0M518.8 126.9h0M518.9 144.6h0M518.9 161.8h0M519.3 150.7h0M519.4 143.3h0M519.5 138.5h0M519.5 149.4h0M519.7 141.1h0M519.7 143.8h0M519.7 144.4h0M519.8 150.4h0M520.1 143.5h0M520.2 138.3h0M520.6 146.7h0M520.7 150.4h0M520.9 126.3h0M520.9 141.8h0M520.9 142.1h0M521.1 163.2h0M521.4 139.1h0M521.6 165.4h0M521.7 138.5h0M523.9 133.3h0M524 133.2h0M524 129.1h0M524.1 138.2h0M524.1 145.2h0M524.6 127h0M524.8 126.2h0M525 131.5h0M525 135.5h0M525.3 144h0M525.3 139h0M525.5 136.2h0M525.6 131h0M525.8 127.2h0M526.6 131.5h0M526.7 129.4h0M526.8 143.4h0M526.9 130.9h0M526.9 124.6h0M526.9 137.7h0M526.9 148.7h0M527 127.4h0M527.2 135h0M527.4 126.9h0M527.7 135.2h0M527.7 127.4h0M528 148.8h0M528.2 130.1h0M528.6 136.5h0M528.8 127.8h0M529.3 143.1h0M529.5 119.8h0M529.7 118.6h0M529.7 119.6h0M529.8 124h0M529.8 135.1h0M530.3 131.2h0M530.5 123.7h0M530.6 126.7h0M530.9 133.3h0M530.9 130.2h0M531 134.6h0M531.1 126.4h0M531.3 128.8h0M531.4 121.8h0M531.6 124.5h0M531.6 130.7h0M531.8 121.1h0M531.9 144.6h0M531.9 138.2h0M531.9 132.1h0M532.1 131.4h0M532.8 118.4h0M532.9 123.4h0M533 125.7h0M533.1 127.1h0M533.3 138.9h0M533.5 130.8h0M533.7 121.8h0M533.7 138.6h0M533.7 130.5h0M534.4 126.4h0M534.5 130.3h0M534.6 138.1h0M534.8 127.3h0M534.8 129.9h0M535.4 133h0M535.5 126.6h0M535.9 127.1h0M536.6 124.1h0M536.6 124.6h0M536.6 124h0M537 125.7h0M537.2 131.1h0M537.3 125.1h0M537.7 124.7h0M537.8 121.1h0M538.2 124.5h0M538.5 128.7h0M538.5 121.8h0M538.5 125h0M538.5 121.8h0M538.7 119.9h0M538.7 121.9h0M539 132.1h0M539 130.2h0M539 123.1h0M539.3 134.4h0M539.4 127.8h0M539.8 124.4h0M540.2 128.2h0M540.3 130.3h0M540.4 125.8h0M541 127.8h0M541.1 128.7h0M541.5 123.8h0M542 129.7h0M542.1 127.4h0M542.4 121.2h0M542.6 122.7h0M542.8 126h0M542.8 127.3h0M542.8 125.1h0M543 125.3h0M543.2 133.8h0M543.3 130.8h0M543.5 122h0M543.5 142.9h0M543.7 119.9h0M544.1 123.8h0M544.1 126.7h0M544.6 129.4h0M544.7 126.1h0M545.1 123.6h0M545.2 124.9h0M545.5 121.5h0M545.5 124.9h0M545.5 130.6h0M545.6 124.6h0M545.7 123.9h0M545.9 127.5h0M545.9 132.2h0M546.1 131.5h0M546.2 124.7h0M546.3 132.2h0M546.5 120h0M546.6 124.1h0M546.7 137.8h0M546.7 133.5h0M546.8 126.8h0M547 134.7h0M547.5 128.2h0M547.6 123.8h0M547.6 124.8h0M547.8 134h0M547.8 124.4h0M547.9 123.5h0M548.2 131.8h0M548.2 125h0M548.5 131.4h0M548.6 135.7h0M548.6 122.9h0M548.7 123.1h0M548.8 133.4h0M548.9 143.7h0M548.9 123.7h0M549 131.5h0M549.3 126.4h0M549.3 136h0M549.8 126h0M549.9 123.6h0M550 127.5h0M550.1 124.8h0M550.1 126.8h0M550.1 124.2h0M550.2 131.5h0M550.2 131.7h0M550.3 140.3h0M550.4 133.6h0M550.4 130.2h0M550.5 142.9h0M550.8 124.2h0M550.8 130.1h0M550.9 120h0M550.9 126h0M551.3 133.8h0M551.6 128.8h0M551.6 125.6h0M551.8 124.2h0M551.8 128.6h0M551.8 131.7h0M551.8 124.5h0M551.9 129.1h0M552.1 124.8h0M552.2 129.7h0M552.5 129.3h0M552.8 127.6h0M553.1 133.5h0M553.1 129.2h0M553.4 127.6h0M553.7 141.6h0M553.7 132.9h0M553.8 132.6h0M554.3 125.1h0M554.4 129h0M554.6 129.9h0M554.6 134.8h0M554.9 127.8h0M554.9 132h0M554.9 125.4h0M555.1 131.8h0M555.1 130.3h0M555.2 127.2h0M555.3 127.9h0M555.3 140.8h0M555.3 129.1h0M555.6 130.5h0M555.9 143.3h0M556 138.9h0M556.1 125.8h0M556.2 128.7h0M556.3 133.7h0M556.3 125.9h0M556.4 142.8h0M556.4 123.8h0M556.4 134.5h0M556.4 123.3h0M556.7 133.4h0M556.9 134.3h0M557.6 129.4h0M557.6 132.7h0M557.9 125.9h0M558.4 127.1h0M558.7 133.8h0M558.7 132.6h0M558.7 139.9h0M558.8 122.6h0M559.2 131.6h0M559.4 126.2h0M559.6 131.8h0M560 138.1h0M560.3 149h0M560.4 130.6h0M560.5 129.3h0M560.5 130.6h0M560.8 125.3h0M560.9 128.2h0M561.1 122.4h0M561.2 128.8h0M561.2 139.3h0M561.2 126.1h0M561.3 140.5h0M561.4 133.3h0M561.4 142.4h0M561.4 127.3h0M561.6 124.7h0M561.8 143.3h0M561.9 139.6h0M561.9 138.1h0M562.1 147.9h0M562.1 133.6h0M562.6 135.1h0M562.8 144.4h0M562.9 152h0M563.1 145.7h0M563.1 132h0M563.2 146.4h0M563.2 133.7h0M563.3 132.4h0M563.5 129.9h0M563.9 135.1h0M563.9 133.1h0M564 126h0M564.4 140.3h0M564.4 135h0M564.6 127.7h0M564.8 145.9h0M565 131.8h0M565.1 159.1h0M565.1 150.3h0M565.5 150.8h0M565.6 138.2h0M565.9 136.9h0M565.9 158h0M566.1 125.3h0M566.3 123.9h0M566.3 129.1h0M566.5 139.2h0M566.6 134.2h0M566.8 158.5h0M567.2 143.4h0M567.4 145.7h0M567.6 136.4h0M567.8 143.8h0M567.8 143.2h0M567.9 127h0M568 142.1h0M568 146.4h0M568.2 136.3h0M568.2 143.5h0M568.2 143.2h0M568.2 131.3h0M568.2 144.2h0M568.4 134.6h0M568.5 143.6h0M568.9 143.5h0M569 129.7h0M569.1 157.7h0M569.3 147.5h0M569.5 146.6h0M569.5 137.4h0M569.6 147.6h0M569.6 139.7h0M569.6 147.8h0M569.6 140.1h0M569.7 133.9h0M569.8 155.3h0M569.8 128.7h0M569.9 140.9h0M570.1 151.4h0M570.3 139.7h0M570.6 152.4h0M570.8 146.3h0M571.1 152.2h0M571.1 147.7h0M571.3 169.7h0M571.8 133.6h0M571.8 142.6h0M571.9 137h0M572 140.4h0M572.1 144.7h0M572.2 133.5h0M572.3 133.9h0M572.4 148.1h0M572.4 137.7h0M572.5 148.1h0M572.5 149.7h0M572.5 140.7h0M572.9 144h0M572.9 146.1h0M573 168h0M573.1 154.8h0M573.4 144.5h0M573.4 140h0M573.5 140.4h0M573.5 152.1h0M573.5 141.9h0M573.6 160.2h0M573.7 142.4h0M573.7 131.4h0M574.2 149.5h0M574.3 158.9h0M574.7 139h0M574.8 149h0M574.8 147.6h0M575 143.3h0M575 151.9h0M575 142h0M575.2 156.6h0M575.4 157.5h0M575.6 146.1h0M575.7 145.2h0M575.9 147.1h0M576 143.6h0M576 149.9h0M576.2 163.1h0M576.2 145.6h0M578.5 126.6h0M578.5 130.1h0M578.9 138h0M579.1 134h0M579.2 148h0M579.3 138.1h0M579.3 143h0M579.6 147.8h0M579.8 131.5h0M579.9 144.2h0M580 135.6h0M580.1 140.8h0M580.2 131.7h0M580.3 134.8h0M581.3 151.5h0M581.3 134.9h0M581.4 120.4h0M581.5 132.4h0M581.5 130h0M581.8 133.1h0M581.8 127h0M582.1 141.4h0M582.4 142h0M582.5 140h0M582.6 148.4h0M582.7 144.8h0M582.7 129.2h0M583.2 154h0M583.4 141.8h0M583.5 128.1h0M583.6 132.3h0M583.6 139.8h0M583.8 141.1h0M583.9 137.1h0M583.9 147.9h0M584.1 129.2h0M584.4 132.8h0M584.6 142.4h0M584.7 136.2h0M585.1 145.7h0M585.3 138.9h0M585.6 125.2h0M585.7 144.9h0M585.7 138.1h0M585.8 129.5h0M585.9 132.7h0M586.1 135.7h0M586.2 139.1h0M586.6 139h0M586.6 129h0M586.6 133.4h0M586.7 130.7h0M586.8 128.7h0M587 142.8h0M587.3 146h0M587.3 129.1h0M587.4 126.3h0M587.5 130.9h0M587.6 126.8h0M587.6 141.7h0M587.8 132.6h0M587.9 133.9h0M587.9 133.9h0M588.2 127.4h0M588.3 148h0M588.3 132.9h0M588.4 124.4h0M588.6 131.3h0M588.7 136.3h0M588.9 127h0M589.4 136h0M589.5 123.6h0M589.5 132.1h0M589.8 120.9h0M589.8 125.2h0M590.2 133.4h0M590.4 126.5h0M590.4 126.3h0M590.5 123h0M590.5 133.8h0M590.5 121.7h0M590.6 131h0M590.6 136.3h0M590.9 126.4h0M591.4 129.7h0M591.5 124.8h0M591.9 120.2h0M591.9 125.7h0M592.4 118.4h0M592.5 119.5h0M592.5 118.5h0M592.8 123.8h0M593.1 119.5h0M593.1 119.5h0M593.4 119.8h0M593.5 124.5h0M593.8 119.8h0M594 120.6h0M594.1 123.2h0M594.2 129.3h0M594.2 121.9h0M594.3 122.6h0M594.4 132h0M594.4 137.6h0M594.5 120h0M594.6 125.5h0M594.6 121.3h0M594.8 125.9h0M594.8 131.3h0M594.9 127.9h0M594.9 136.7h0M595.1 122.3h0M595.3 131.8h0M595.3 118.4h0M595.6 128.5h0M595.9 123.3h0M596.1 129.5h0M596.1 139.7h0M596.5 124.2h0M596.5 127.6h0M596.5 119.8h0M596.6 125.2h0M596.8 136.3h0M596.8 123.8h0M597.1 128.4h0M597.3 126.3h0M597.3 127.9h0M597.4 128.7h0M597.5 136.6h0M597.5 122.9h0M597.6 123.6h0M597.7 124h0M597.9 125.4h0M597.9 120.1h0M597.9 127.3h0M598.1 126.3h0M598.2 119.9h0M598.4 132.9h0M598.4 126.7h0M598.5 128.2h0M598.6 126.4h0M598.7 125.5h0M598.9 124.6h0M599.2 118.9h0M599.2 131.5h0M599.3 123.8h0M599.7 122h0M599.8 121.9h0M600.1 125.9h0M600.2 128.7h0M600.5 123.4h0M601 122.4h0M601 132.4h0M601 127.1h0M601.1 120h0M601.2 126.3h0M601.2 125.6h0M601.4 119.9h0M601.4 125h0M601.5 125h0M601.5 126.4h0M601.6 119.9h0M601.7 125.4h0M601.9 119.9h0M602 122.3h0M602.1 125.1h0M602.4 121.7h0M602.4 128.8h0M602.7 119.8h0M602.8 130h0M603.1 124.4h0M603.1 122.1h0M603.2 124.5h0M603.2 121h0M603.5 120.2h0M603.5 132.5h0M603.7 127.8h0M603.8 123.9h0M604.1 125.4h0M604.4 127.5h0M604.6 124.6h0M604.7 131.2h0M604.9 129.7h0M605.1 121.7h0M605.1 125.3h0M605.3 120.9h0M606.3 141.5h0M606.5 135.1h0M606.6 136.2h0M606.7 126.7h0M606.8 121h0M606.8 137.3h0M606.9 128.8h0M607 122.2h0M607.3 135.6h0M607.6 118.6h0M607.6 136.6h0M607.6 134.6h0M608.2 141.7h0M608.5 127h0M608.7 151.6h0M608.8 129.4h0M609.1 129.8h0M609.2 146.3h0M609.2 133.4h0M609.2 133.1h0M609.3 128.4h0M609.4 135.7h0M609.5 136.6h0M609.6 139h0M609.7 125.4h0M609.7 123.7h0M610 128.1h0M610 142.6h0M610 130.6h0M610.1 128.3h0M610.1 126h0M610.3 131.3h0M610.5 137.5h0M610.6 120.5h0M610.6 131.2h0M610.8 137.4h0M610.9 133.7h0M610.9 125.5h0M610.9 134.2h0M611.2 128.9h0M611.3 130.6h0M611.5 133.6h0M611.6 134.6h0M611.9 130.6h0M612.1 156.3h0M612.2 133.6h0M612.3 142.7h0M612.9 142.4h0M612.9 131.4h0M613.2 136.8h0M613.4 136.4h0M613.5 134.7h0M613.6 150.5h0M613.6 148h0M613.6 125.9h0M613.8 143.1h0M613.9 138h0M613.9 131.5h0M613.9 137.1h0M614 135.5h0M614.5 152.3h0M614.7 146h0M614.8 134.1h0M614.9 134.4h0M614.9 129.2h0M615.1 131.6h0M615.7 140.9h0M616.2 136.2h0M616.3 143.2h0M616.3 133.1h0M616.4 144h0M617 134.8h0M617.1 135.2h0M617.3 129.2h0M617.4 146.9h0M617.5 138.4h0M617.5 158.5h0M617.6 144.4h0M617.8 140.7h0M618.5 145.7h0M618.7 150.3h0M618.9 147.5h0M619.4 143.5h0M619.5 143.7h0M619.5 130.8h0M619.7 143.2h0M619.8 140.6h0M620.2 162h0M620.4 147.8h0M620.5 127.6h0M620.7 129.5h0M620.8 165.1h0M620.8 130.4h0M621.4 144.8h0M621.5 156.6h0M621.8 138.4h0M622.1 137.4h0M622.1 137.7h0M622.2 139.7h0M622.2 131.8h0M622.3 144.3h0M622.6 139.2h0M622.7 124.7h0M622.8 142.7h0M623.5 161.6h0M623.5 133.3h0M623.7 143.5h0M623.8 157.8h0M623.9 131.7h0M624 136.4h0M624.1 146.4h0M624.8 143.6h0M624.8 166.6h0M624.9 144.6h0M625 171.6h0M625 160.6h0M625 133.8h0M625.3 144.7h0M625.6 168.4h0M625.7 154.9h0M625.7 140.4h0M625.8 149.8h0M625.8 146.2h0M625.9 149.6h0M626 161.9h0M626.1 136.8h0M626.1 168.6h0M626.2 151.4h0M626.3 164.7h0M626.4 150.7h0M626.6 148.5h0M626.6 150.7h0M626.9 146.6h0M628.9 127.2h0M629 133.9h0M629 123.9h0M629.2 125.4h0M629.2 149.5h0M629.4 142.2h0M629.4 134.2h0M629.4 130.1h0M629.4 128h0M629.5 128.6h0M629.7 141.8h0M629.7 121.9h0M630.2 140h0M630.3 133.6h0M630.5 135.3h0M630.8 141.7h0M630.9 128.2h0M631 129.8h0M631 127.6h0M631.1 129.9h0M631.1 123.7h0M631.1 133.8h0M631.2 133.5h0M631.2 127.2h0M631.3 128h0M631.3 127.7h0M631.5 129.6h0M631.5 139.2h0M631.6 128.1h0M631.6 134.7h0M631.7 126.1h0M631.7 127.8h0M631.9 129h0M631.9 132.5h0M631.9 124.9h0M632.1 129.6h0M632.1 139.1h0M632.2 124.7h0M632.3 120.6h0M632.4 124.8h0M632.4 127.5h0M632.7 134.1h0M632.7 130.9h0M632.8 138.4h0M632.9 125h0M633.1 128.1h0M633.1 124.2h0M633.6 120.5h0M633.6 128h0M633.7 125.4h0M634.2 125.7h0M634.3 125.2h0M634.4 122.5h0M634.7 131.1h0M635 133.5h0M635.3 129.7h0M635.4 130.4h0M635.7 130.8h0M635.7 124.1h0M635.8 123.5h0M635.9 132h0M636.1 139.4h0M636.2 137.8h0M636.3 127.2h0M636.4 127.3h0M636.4 133.1h0M636.5 126.4h0M636.5 123.1h0M637.1 126.2h0M637.2 124.1h0M637.6 136.8h0M637.8 123.9h0M638 128.8h0M638 125.2h0M638.3 133.7h0M638.4 129.4h0M638.5 130h0M638.6 130.7h0M638.8 124.7h0M638.9 126.3h0M639.1 125.6h0M639.1 120.9h0M639.3 123.1h0M639.3 123.4h0M639.4 122.5h0M639.7 123.8h0M639.7 135h0M640 122.6h0M640 126.1h0M640.1 125.6h0M640.2 122.1h0M640.6 132.7h0M640.7 124.3h0M640.7 124.5h0M640.8 125.5h0M640.8 125h0M641 122.9h0M641.1 120.9h0M641.1 132.5h0M641.4 122.9h0M641.4 122.1h0M641.5 121.3h0M641.8 132.3h0M642.1 130.8h0M642.4 122h0M642.6 123.2h0M642.6 127h0M642.6 122.1h0M642.8 128h0M643 130.4h0M643.3 123.5h0M643.6 123.4h0M643.6 122.4h0M643.8 119.6h0M643.8 126.9h0M643.9 121.9h0M644.3 127.6h0M644.3 125.3h0M644.4 124.8h0M644.5 119.6h0M644.9 125.9h0M644.9 133.2h0M645 139h0M645.1 120.6h0M645.2 124.5h0M645.7 121.2h0M645.7 126.5h0M646 136.8h0M646.3 129.1h0M646.9 121.4h0M647.3 129.9h0M647.3 123.7h0M647.4 121.8h0M647.5 134.8h0M647.7 120.8h0M647.8 124.8h0M648.4 125.3h0M648.6 126.2h0M649.1 123.1h0M649.1 129.1h0M649.3 123.4h0M649.3 126.2h0M649.4 125h0M649.5 129.8h0M649.6 122.2h0M650 124.7h0M650.1 131.1h0M650.2 127.2h0M650.2 129h0M650.2 129.3h0M650.4 124.4h0M650.5 138.2h0M651.3 126.3h0M651.4 124h0M651.6 126.5h0M651.6 128.9h0M651.6 125.3h0M651.9 134.4h0M652 132.1h0M652 132.9h0M652.2 135.7h0M652.2 127.5h0M652.6 127.9h0M652.8 127.6h0M652.8 125.6h0M653 132h0M653.2 129.4h0M653.3 137.4h0M653.3 136.2h0M653.4 139h0M654 125.9h0M654.2 128.8h0M654.3 137.3h0M654.7 133.6h0M655 138.6h0M655.3 145.1h0M655.4 126.6h0M655.6 129.5h0M655.8 124h0M655.9 132h0M656.5 132.2h0M656.7 135.9h0M656.7 136.8h0M656.8 135.2h0M657 137.5h0M657.1 134.3h0M657.4 130.7h0M657.5 135.9h0M657.5 123.3h0M657.5 134.3h0M657.8 126.4h0M657.9 123.5h0M658.5 135.5h0M658.5 125.9h0M658.9 129.6h0M659.1 139.9h0M659.4 135.1h0M659.4 153.9h0M659.6 137.8h0M659.7 130.9h0M659.8 137.7h0M659.9 133.1h0M660.1 135.2h0M660.5 136h0M660.9 134.1h0M661 136.2h0M661.2 135.8h0M661.2 129.9h0M661.2 122.1h0M661.3 137.9h0M661.3 133.1h0M661.4 135.8h0M661.4 137.5h0M661.6 131.3h0M661.7 132.6h0M661.8 126.2h0M661.8 127.5h0M662 137.6h0M662.3 145h0M662.8 132.1h0M663 129.2h0M663.1 130.4h0M663.4 133.3h0M663.5 134.3h0M663.5 134.2h0M663.5 135.8h0M663.8 133.1h0M663.8 131.3h0M664.5 137.4h0M664.5 145.2h0M664.6 132.9h0M664.7 140.5h0M664.8 133.9h0M665 138.9h0M665.5 150.9h0M665.6 138.3h0M665.6 136.9h0M665.9 132.4h0M665.9 133.6h0M666 135.3h0M666.1 135.4h0M666.2 130.2h0M666.5 146.5h0M666.5 127.8h0M666.6 128.3h0M666.6 136.5h0M666.9 145h0M666.9 129.6h0M667.5 141.9h0M668.3 139.2h0M668.3 140.6h0M668.4 138.8h0M668.4 144.5h0M668.6 137.6h0M668.7 139.7h0M668.8 144.2h0M669 136.6h0M669.1 138.3h0M669.1 145.9h0M669.5 145.5h0M669.5 137.9h0M669.7 157.6h0M669.9 141.2h0M670 141.9h0M670.2 157.3h0M670.2 148.2h0M670.3 133.2h0M670.4 138.7h0M670.6 153.9h0M670.7 146.7h0M670.7 148.1h0M670.8 151.3h0M670.9 152.5h0M671.1 146.1h0M671.1 149.3h0M671.3 133.7h0M671.3 131.9h0M671.4 144h0M671.5 147.7h0M671.5 161.6h0M671.7 153.5h0M671.8 153.6h0M672 145.3h0M672.2 133.7h0M672.2 153.9h0M672.3 136h0M672.4 146h0M672.7 145.5h0M672.7 148.6h0M672.8 177.9h0M672.9 157.7h0M36.8 166h0M130.2 172.1h0M130.6 178.2h0M131.2 169.1h0M129.8 164.5h0M192 170h0M204 170h0M331.6 169.1h0M349.2 182.7h0M350.5 197.9h0M350.6 175.2h0M350 170h0M348.5 164.5h0M351.5 166h0M419.3 167.6h0M419.6 172.1h0M575 170.6h0M576 167.6h0M560 170.6h0M626 164.5h0M672.6 169.1h0" stroke="#0000FF" stroke-width="2.3" stroke-linecap="round" fill="none"/>
<line x1="128.6" x2="128.6" y1="13.9" y2="214" stroke="#FFFFFF" stroke-width="1.6"/>
<line x1="202.9" x2="202.9" y1="13.9" y2="214" stroke="#FFFFFF" stroke-width="1.6"/>
<line x1="274.8" x2="274.8" y1="13.9" y2="214" stroke="#FFFFFF" stroke-width="1.6"/>
<line x1="349.6" x2="349.6" y1="13.9" y2="214" stroke="#FFFFFF" stroke-width="1.6"/>
<line x1="415.8" x2="415.8" y1="13.9" y2="214" stroke="#FFFFFF" stroke-width="1.6"/>
<line x1="467.6" x2="467.6" y1="13.9" y2="214" stroke="#FFFFFF" stroke-width="1.6"/>
<line x1="522.9" x2="522.9" y1="13.9" y2="214" stroke="#FFFFFF" stroke-width="1.6"/>
<line x1="577.5" x2="577.5" y1="13.9" y2="214" stroke="#FFFFFF" stroke-width="1.6"/>
<line x1="627.9" x2="627.9" y1="13.9" y2="214" stroke="#FFFFFF" stroke-width="1.6"/>
<line x1="31.5" x2="36" y1="23.4" y2="23.4" stroke="#333" stroke-width="1"/>
<text x="29.8" y="26.1" text-anchor="end" font-size="8.4" class="t g">60</text>
<line x1="31.5" x2="36" y1="68.9" y2="68.9" stroke="#333" stroke-width="1"/>
<text x="29.8" y="71.6" text-anchor="end" font-size="8.4" class="t g">30</text>
<line x1="31.5" x2="36" y1="114.5" y2="114.5" stroke="#333" stroke-width="1"/>
<text x="29.8" y="117.2" text-anchor="end" font-size="8.4" class="t g">0</text>
<line x1="31.5" x2="36" y1="160.0" y2="160.0" stroke="#333" stroke-width="1"/>
<text x="29.8" y="162.7" text-anchor="end" font-size="8.4" class="t g">−30</text>
<line x1="31.5" x2="36" y1="205.5" y2="205.5" stroke="#333" stroke-width="1"/>
<text x="29.8" y="208.2" text-anchor="end" font-size="8.4" class="t g">−60</text>
<text x="82.8" y="225.1" text-anchor="middle" font-size="8.4" class="t g">Chr1</text>
<text x="167.6" y="225.1" text-anchor="middle" font-size="8.4" class="t g">Chr2</text>
<text x="240.0" y="225.1" text-anchor="middle" font-size="8.4" class="t g">Chr3</text>
<text x="315.0" y="225.1" text-anchor="middle" font-size="8.4" class="t g">Chr4</text>
<text x="384.4" y="225.1" text-anchor="middle" font-size="8.4" class="t g">Chr5</text>
<text x="442.8" y="225.1" text-anchor="middle" font-size="8.4" class="t g">Chr6</text>
<text x="497.0" y="225.1" text-anchor="middle" font-size="8.4" class="t g">Chr7</text>
<text x="552.3" y="225.1" text-anchor="middle" font-size="8.4" class="t g">Chr8</text>
<text x="605.1" y="225.1" text-anchor="middle" font-size="8.4" class="t g">Chr9</text>
<text x="654.1" y="225.1" text-anchor="middle" font-size="8.4" class="t g">Chr10</text>
<circle cx="405.4" cy="7.7" r="3.1" fill="#FF0000"/>
<text x="415.5" y="10.4" font-size="8.7" class="t">Number of variants (x25)/500 Kb</text>
<circle cx="561.4" cy="7.7" r="3.1" fill="#0000FF"/>
<text x="571.8" y="10.4" font-size="8.7" class="t">Number of genes/500 Kb</text>
<text class="pl" x="2.8" y="12">a</text>
<path d="M119.40 264.60A89.6 89.6 0 0 1 194.00 403.83L153.79 377.08A41.3 41.3 0 0 0 119.40 312.90Z" fill="#5B9BD5" stroke="#FFFFFF" stroke-width="0.8" stroke-linejoin="round"/>
<path d="M194.00 403.83A89.6 89.6 0 0 1 189.17 410.41L151.56 380.11A41.3 41.3 0 0 0 153.79 377.08Z" fill="#ED7D31" stroke="#FFFFFF" stroke-width="0.8" stroke-linejoin="round"/>
<path d="M189.17 410.41A89.6 89.6 0 0 1 177.79 422.16L146.31 385.53A41.3 41.3 0 0 0 151.56 380.11Z" fill="#A5A5A5" stroke="#FFFFFF" stroke-width="0.8" stroke-linejoin="round"/>
<path d="M177.79 422.16A89.6 89.6 0 0 1 164.26 431.76L140.08 389.95A41.3 41.3 0 0 0 146.31 385.53Z" fill="#FFC000" stroke="#FFFFFF" stroke-width="0.8" stroke-linejoin="round"/>
<path d="M164.26 431.76A89.6 89.6 0 0 1 157.43 435.33L136.93 391.60A41.3 41.3 0 0 0 140.08 389.95Z" fill="#4472C4" stroke="#FFFFFF" stroke-width="0.8" stroke-linejoin="round"/>
<path d="M157.43 435.33A89.6 89.6 0 0 1 31.11 338.92L78.71 347.16A41.3 41.3 0 0 0 136.93 391.60Z" fill="#70AD47" stroke="#FFFFFF" stroke-width="0.8" stroke-linejoin="round"/>
<path d="M31.11 338.92A89.6 89.6 0 0 1 40.40 311.93L82.98 334.72A41.3 41.3 0 0 0 78.71 347.16Z" fill="#255E91" stroke="#FFFFFF" stroke-width="0.8" stroke-linejoin="round"/>
<path d="M40.40 311.93A89.6 89.6 0 0 1 55.21 291.69L89.81 325.39A41.3 41.3 0 0 0 82.98 334.72Z" fill="#9E480E" stroke="#FFFFFF" stroke-width="0.8" stroke-linejoin="round"/>
<path d="M55.21 291.69A89.6 89.6 0 0 1 62.15 285.27L93.01 322.43A41.3 41.3 0 0 0 89.81 325.39Z" fill="#636363" stroke="#FFFFFF" stroke-width="0.8" stroke-linejoin="round"/>
<path d="M62.15 285.27A89.6 89.6 0 0 1 86.10 271.02L104.05 315.86A41.3 41.3 0 0 0 93.01 322.43Z" fill="#997300" stroke="#FFFFFF" stroke-width="0.8" stroke-linejoin="round"/>
<path d="M86.10 271.02A89.6 89.6 0 0 1 95.43 267.87L108.35 314.41A41.3 41.3 0 0 0 104.05 315.86Z" fill="#264478" stroke="#FFFFFF" stroke-width="0.8" stroke-linejoin="round"/>
<path d="M95.43 267.87A89.6 89.6 0 0 1 119.40 264.60L119.40 312.90A41.3 41.3 0 0 0 108.35 314.41Z" fill="#43682B" stroke="#FFFFFF" stroke-width="0.8" stroke-linejoin="round"/>
<path d="M336.30 264.60A89.5 89.5 0 0 1 359.37 440.57L346.95 394.00A41.3 41.3 0 0 0 336.30 312.80Z" fill="#5B9BD5" stroke="#FFFFFF" stroke-width="0.8" stroke-linejoin="round"/>
<path d="M359.37 440.57A89.5 89.5 0 1 1 336.30 264.60L336.30 312.80A41.3 41.3 0 1 0 346.95 394.00Z" fill="#ED7D31" stroke="#FFFFFF" stroke-width="0.8" stroke-linejoin="round"/>
<path d="M551.80 266.00A89 89 0 0 1 598.64 279.32L551.80 355.00Z" fill="#FFC000" stroke="#FFFFFF" stroke-width="0.8" stroke-linejoin="round"/>
<path d="M598.64 279.32A89 89 0 0 1 599.96 280.16L551.80 355.00Z" fill="#A9C4E4" stroke="#FFFFFF" stroke-width="0.8" stroke-linejoin="round"/>
<path d="M599.96 280.16A89 89 0 0 1 640.59 348.91L551.80 355.00Z" fill="#70AD47" stroke="#FFFFFF" stroke-width="0.8" stroke-linejoin="round"/>
<path d="M640.59 348.91A89 89 0 0 1 640.77 352.60L551.80 355.00Z" fill="#255E91" stroke="#FFFFFF" stroke-width="0.8" stroke-linejoin="round"/>
<path d="M640.77 352.60A89 89 0 0 1 640.80 355.28L551.80 355.00Z" fill="#9E480E" stroke="#FFFFFF" stroke-width="0.8" stroke-linejoin="round"/>
<path d="M640.80 355.28A89 89 0 0 1 605.95 425.63L551.80 355.00Z" fill="#5B9BD5" stroke="#FFFFFF" stroke-width="0.8" stroke-linejoin="round"/>
<path d="M605.95 425.63A89 89 0 0 1 584.77 437.67L551.80 355.00Z" fill="#ED7D31" stroke="#FFFFFF" stroke-width="0.8" stroke-linejoin="round"/>
<path d="M584.77 437.67A89 89 0 1 1 551.80 266.00L551.80 355.00Z" fill="#A5A5A5" stroke="#FFFFFF" stroke-width="0.8" stroke-linejoin="round"/>
<text x="177.0" y="319.2" text-anchor="middle" font-size="8.8" class="t">G&gt;A</text>
<text x="183.2" y="328.3" text-anchor="middle" font-size="8.8" class="t">34.34%</text>
<text x="121.6" y="355.8" text-anchor="middle" font-size="8.8" class="t">SNPs</text>
<text x="76.8" y="403.2" text-anchor="middle" font-size="8.8" class="t">C&gt;T</text>
<text x="82.8" y="412.6" text-anchor="middle" font-size="8.8" class="t">34.7%</text>
<text x="43.8" y="328.4" text-anchor="middle" font-size="8.8" class="t">T&gt;A</text>
<text x="50.8" y="336.6" text-anchor="middle" font-size="8.8" class="t">5.09%</text>
<text x="47.9" y="303.0" text-anchor="middle" font-size="8.8" class="t">T&gt;C</text>
<text x="53.7" y="311.3" text-anchor="middle" font-size="8.8" class="t">4.47%</text>
<text x="42.7" y="276.8" text-anchor="middle" font-size="8.8" class="t">T&gt;G</text>
<text x="48.9" y="284.4" text-anchor="middle" font-size="8.8" class="t">1.68%</text>
<text x="76.6" y="284.7" text-anchor="middle" font-size="8.8" class="t">A&gt;T</text>
<text x="82.8" y="292.9" text-anchor="middle" font-size="8.8" class="t">4.97%</text>
<text x="81.1" y="255.9" text-anchor="middle" font-size="8.8" class="t">A&gt;C</text>
<text x="87.5" y="264.4" text-anchor="middle" font-size="8.8" class="t">1.75%</text>
<text x="107.7" y="272.0" text-anchor="middle" font-size="8.8" class="t">A&gt;G</text>
<text x="112.0" y="280.6" text-anchor="middle" font-size="8.8" class="t">4.31%</text>
<text x="209.8" y="408.2" text-anchor="middle" font-size="8.8" class="t">G&gt;C</text>
<text x="216.9" y="415.6" text-anchor="middle" font-size="8.8" class="t">1.45%</text>
<text x="186.4" y="416.6" text-anchor="middle" font-size="8.8" class="t">G&gt;T</text>
<text x="193.1" y="424.0" text-anchor="middle" font-size="8.8" class="t">2.91%</text>
<text x="169.6" y="427.3" text-anchor="middle" font-size="8.8" class="t">C&gt;A</text>
<text x="177.6" y="434.7" text-anchor="middle" font-size="8.8" class="t">2.95%</text>
<text x="166.2" y="443.1" text-anchor="middle" font-size="8.8" class="t">C&gt;G</text>
<text x="172.3" y="451.5" text-anchor="middle" font-size="8.8" class="t">1.37%</text>
<text class="pl" x="2.4" y="259.2">b</text>
<line x1="90.8" y1="271.3" x2="90.3" y2="266.6" stroke="#262626" stroke-width="0.8"/>
<circle cx="90.3" cy="266.6" r="1.1" fill="#262626"/>
<line x1="58.9" y1="289.6" x2="55.6" y2="286.2" stroke="#262626" stroke-width="0.8"/>
<circle cx="55.6" cy="286.2" r="1.1" fill="#262626"/>
<line x1="189.9" y1="407.3" x2="197.8" y2="406.3" stroke="#262626" stroke-width="0.8"/>
<circle cx="197.8" cy="406.3" r="1.1" fill="#262626"/>
<line x1="159.7" y1="431.2" x2="161.7" y2="436.2" stroke="#262626" stroke-width="0.8"/>
<circle cx="161.7" cy="436.2" r="1.1" fill="#262626"/>
<line x1="598.8" y1="280.8" x2="607.8" y2="272.9" stroke="#262626" stroke-width="0.8"/>
<circle cx="607.8" cy="272.9" r="1.1" fill="#262626"/>
<line x1="640.6" y1="350" x2="645.4" y2="343.2" stroke="#262626" stroke-width="0.8"/>
<circle cx="645.4" cy="343.2" r="1.1" fill="#262626"/>
<line x1="640.9" y1="354.8" x2="646.3" y2="358.4" stroke="#262626" stroke-width="0.8"/>
<circle cx="646.3" cy="358.4" r="1.1" fill="#262626"/>
<text x="397.2" y="342.4" text-anchor="middle" font-size="8.8" class="t">Insertion</text>
<text x="406.3" y="355.8" text-anchor="middle" font-size="8.8" class="t">45.85%</text>
<text x="267.6" y="359.2" text-anchor="middle" font-size="8.8" class="t">Deletion</text>
<text x="276.0" y="373.6" text-anchor="middle" font-size="8.8" class="t">54.15%</text>
<text x="339.8" y="355.1" text-anchor="middle" font-size="8.8" class="t">INDELs</text>
<text class="pl" x="246" y="259.3">c</text>
<text x="568.5" y="282.9" text-anchor="middle" font-size="8.8" class="t">Intron</text>
<text x="570.8" y="294.0" text-anchor="middle" font-size="8.8" class="t">8.82%</text>
<text x="632.3" y="270.5" text-anchor="middle" font-size="8.8" class="t">Splice_region</text>
<text x="630.3" y="281.3" text-anchor="middle" font-size="8.8" class="t">0.28%</text>
<text x="609.5" y="317.2" text-anchor="middle" font-size="8.8" class="t">Upstream</text>
<text x="612.8" y="327.6" text-anchor="middle" font-size="8.8" class="t">14.81%</text>
<text x="660.5" y="339.3" text-anchor="middle" font-size="8.8" class="t">3'_UTR</text>
<text x="666.6" y="350.1" text-anchor="middle" font-size="8.8" class="t">0.66%</text>
<text x="663.2" y="363.5" text-anchor="middle" font-size="8.8" class="t">5'_UTR</text>
<text x="670.6" y="373.6" text-anchor="middle" font-size="8.8" class="t">0.48%</text>
<text x="493.0" y="360.2" text-anchor="middle" font-size="8.8" class="t">Intergenic</text>
<text x="502.0" y="373.6" text-anchor="middle" font-size="8.8" class="t">56.04%</text>
<text x="610.1" y="381.0" text-anchor="middle" font-size="8.8" class="t">Downstream</text>
<text x="617.9" y="392.1" text-anchor="middle" font-size="8.8" class="t">14.54%</text>
<text x="593.7" y="426.6" text-anchor="middle" font-size="8.8" class="t">Exon</text>
<text x="600.0" y="436.4" text-anchor="middle" font-size="8.8" class="t">4.37%</text>
<text class="pl" x="456.2" y="259.3">d</text>
<rect x="53.6" y="485.2" width="125.6" height="213.4" fill="none" stroke="#333" stroke-width="1.2"/>
<line x1="51" x2="53.6" y1="675.6" y2="675.6" stroke="#333" stroke-width="1"/>
<text x="49.6" y="678.8" text-anchor="end" font-size="8.8" class="t">2</text>
<line x1="51" x2="53.6" y1="648.5" y2="648.5" stroke="#333" stroke-width="1"/>
<text x="49.6" y="651.7" text-anchor="end" font-size="8.8" class="t">3</text>
<line x1="51" x2="53.6" y1="621.5" y2="621.5" stroke="#333" stroke-width="1"/>
<text x="49.6" y="624.7" text-anchor="end" font-size="8.8" class="t">4</text>
<line x1="51" x2="53.6" y1="594.4" y2="594.4" stroke="#333" stroke-width="1"/>
<text x="49.6" y="597.6" text-anchor="end" font-size="8.8" class="t">5</text>
<line x1="51" x2="53.6" y1="567.3" y2="567.3" stroke="#333" stroke-width="1"/>
<text x="49.6" y="570.5" text-anchor="end" font-size="8.8" class="t">6</text>
<line x1="51" x2="53.6" y1="540.2" y2="540.2" stroke="#333" stroke-width="1"/>
<text x="49.6" y="543.5" text-anchor="end" font-size="8.8" class="t">7</text>
<line x1="51" x2="53.6" y1="513.2" y2="513.2" stroke="#333" stroke-width="1"/>
<text x="49.6" y="516.4" text-anchor="end" font-size="8.8" class="t">8</text>
<line x1="51" x2="53.6" y1="486.1" y2="486.1" stroke="#333" stroke-width="1"/>
<text x="49.6" y="489.3" text-anchor="end" font-size="8.8" class="t">9</text>
<line x1="87.2" x2="87.2" y1="698.6" y2="702" stroke="#333" stroke-width="1"/>
<line x1="144" x2="144" y1="698.6" y2="702" stroke="#333" stroke-width="1"/>
<text x="86" y="711.8" text-anchor="middle" font-size="8.75" class="t">gene regions</text>
<text x="151.6" y="711.8" text-anchor="middle" font-size="8.75" class="t">whole genome</text>
<text transform="translate(35.4 598.2) rotate(-90)" text-anchor="middle" font-size="8.82" class="t">Number of variation per sample(x10000)</text>
<text class="pl" x="2.2" y="469.5">e</text>
<rect x="62.9" y="683.3" width="48.8" height="3.8" fill="#C8C8C8" stroke="#6A6A6A" stroke-width="1"/>
<line x1="78" x2="96" y1="679.8" y2="679.8" stroke="#F4A6A6" stroke-width="0.8"/>
<line x1="78" x2="96" y1="689.4" y2="689.4" stroke="#F4A6A6" stroke-width="0.8"/>
<line x1="143.8" x2="143.8" y1="564.1" y2="608.6" stroke="#999" stroke-width="1"/>
<rect x="119.6" y="581.2" width="49" height="11.8" fill="none" stroke="#666" stroke-width="0.9"/>
<line x1="119.6" x2="168.6" y1="586.7" y2="586.7" stroke="#666" stroke-width="1.2"/>
<line x1="135.1" x2="153" y1="564.1" y2="564.1" stroke="#F4A0A0" stroke-width="0.9"/>
<line x1="135.1" x2="152.6" y1="608.6" y2="608.6" stroke="#F4A0A0" stroke-width="0.9"/>
<path d="M76.1 683.4h0M99 688.1h0M79.3 682.2h0M86.9 684.3h0" stroke="#3D2B00" stroke-width="2.5" stroke-linecap="round"/>
<path d="M76.1 683.4h0M99 688.1h0M79.3 682.2h0M86.9 684.3h0" stroke="#C68A00" stroke-width="1.5" stroke-linecap="round"/>
<path d="M82.5 686.9h0M91.7 685.2h0M94.5 684.8h0M87.6 687.7h0" stroke="#3D2B00" stroke-width="2.5" stroke-linecap="round"/>
<path d="M82.5 686.9h0M91.7 685.2h0M94.5 684.8h0M87.6 687.7h0" stroke="#C68A00" stroke-width="1.5" stroke-linecap="round"/>
<path d="M87 687.2h0M77.9 687.2h0M98.5 683.9h0M88.9 686.3h0" stroke="#3D2B00" stroke-width="2.5" stroke-linecap="round"/>
<path d="M87 687.2h0M77.9 687.2h0M98.5 683.9h0M88.9 686.3h0" stroke="#C68A00" stroke-width="1.5" stroke-linecap="round"/>
<path d="M80.1 686.1h0M80.8 683.5h0M92.5 686.6h0M75.8 685.3h0" stroke="#3D2B00" stroke-width="2.5" stroke-linecap="round"/>
<path d="M80.1 686.1h0M80.8 683.5h0M92.5 686.6h0M75.8 685.3h0" stroke="#C68A00" stroke-width="1.5" stroke-linecap="round"/>
<path d="M94.9 683.8h0M81.3 685.1h0M98.4 685.4h0M85.9 685h0" stroke="#3D2B00" stroke-width="2.5" stroke-linecap="round"/>
<path d="M94.9 683.8h0M81.3 685.1h0M98.4 685.4h0M85.9 685h0" stroke="#C68A00" stroke-width="1.5" stroke-linecap="round"/>
<path d="M91.5 684.5h0M75.7 681.1h0M78.3 684.3h0M85.5 684.6h0" stroke="#3D2B00" stroke-width="2.5" stroke-linecap="round"/>
<path d="M91.5 684.5h0M75.7 681.1h0M78.3 684.3h0M85.5 684.6h0" stroke="#C68A00" stroke-width="1.5" stroke-linecap="round"/>
<path d="M91.1 680.8h0M96.5 686h0M88.6 684.5h0M91.9 686.1h0" stroke="#3D2B00" stroke-width="2.5" stroke-linecap="round"/>
<path d="M91.1 680.8h0M96.5 686h0M88.6 684.5h0M91.9 686.1h0" stroke="#C68A00" stroke-width="1.5" stroke-linecap="round"/>
<path d="M90.9 685.4h0M93.7 684.2h0M94.1 681h0M79.4 684h0" stroke="#3D2B00" stroke-width="2.5" stroke-linecap="round"/>
<path d="M90.9 685.4h0M93.7 684.2h0M94.1 681h0M79.4 684h0" stroke="#C68A00" stroke-width="1.5" stroke-linecap="round"/>
<path d="M88.9 682.2h0M76.8 683.2h0M85.3 683.6h0M96.8 683.7h0" stroke="#3D2B00" stroke-width="2.5" stroke-linecap="round"/>
<path d="M88.9 682.2h0M76.8 683.2h0M85.3 683.6h0M96.8 683.7h0" stroke="#C68A00" stroke-width="1.5" stroke-linecap="round"/>
<path d="M93.4 685.7h0M90.1 685.9h0M98.2 685h0M74.3 682.6h0" stroke="#3D2B00" stroke-width="2.5" stroke-linecap="round"/>
<path d="M93.4 685.7h0M90.1 685.9h0M98.2 685h0M74.3 682.6h0" stroke="#C68A00" stroke-width="1.5" stroke-linecap="round"/>
<path d="M87.9 683.6h0M99 685.6h0M74.6 688.2h0M74.8 683.4h0" stroke="#3D2B00" stroke-width="2.5" stroke-linecap="round"/>
<path d="M87.9 683.6h0M99 685.6h0M74.6 688.2h0M74.8 683.4h0" stroke="#C68A00" stroke-width="1.5" stroke-linecap="round"/>
<path d="M96.6 683.3h0M78.2 683.4h0M98.2 684.4h0M84.9 686.1h0" stroke="#3D2B00" stroke-width="2.5" stroke-linecap="round"/>
<path d="M96.6 683.3h0M78.2 683.4h0M98.2 684.4h0M84.9 686.1h0" stroke="#C68A00" stroke-width="1.5" stroke-linecap="round"/>
<path d="M74.5 683.3h0M80 683.6h0M80 683.7h0M90 687.8h0" stroke="#3D2B00" stroke-width="2.5" stroke-linecap="round"/>
<path d="M74.5 683.3h0M80 683.6h0M80 683.7h0M90 687.8h0" stroke="#C68A00" stroke-width="1.5" stroke-linecap="round"/>
<path d="M95.8 684.7h0M95.3 687h0M95.3 687h0M83.3 684.6h0" stroke="#3D2B00" stroke-width="2.5" stroke-linecap="round"/>
<path d="M95.8 684.7h0M95.3 687h0M95.3 687h0M83.3 684.6h0" stroke="#C68A00" stroke-width="1.5" stroke-linecap="round"/>
<path d="M74.4 685.4h0M90.2 684.3h0M92.5 684.2h0M91.7 682.1h0" stroke="#3D2B00" stroke-width="2.5" stroke-linecap="round"/>
<path d="M74.4 685.4h0M90.2 684.3h0M92.5 684.2h0M91.7 682.1h0" stroke="#C68A00" stroke-width="1.5" stroke-linecap="round"/>
<path d="M95.7 683.2h0M93.1 683.6h0M92.5 686.1h0M97.5 683.9h0" stroke="#3D2B00" stroke-width="2.5" stroke-linecap="round"/>
<path d="M95.7 683.2h0M93.1 683.6h0M92.5 686.1h0M97.5 683.9h0" stroke="#C68A00" stroke-width="1.5" stroke-linecap="round"/>
<path d="M88.9 682.8h0M80.2 685.4h0M88.6 683.5h0M96.3 684h0" stroke="#3D2B00" stroke-width="2.5" stroke-linecap="round"/>
<path d="M88.9 682.8h0M80.2 685.4h0M88.6 683.5h0M96.3 684h0" stroke="#C68A00" stroke-width="1.5" stroke-linecap="round"/>
<path d="M87.8 682.8h0M90.5 686.3h0M92.9 683.9h0M76 685.3h0" stroke="#3D2B00" stroke-width="2.5" stroke-linecap="round"/>
<path d="M87.8 682.8h0M90.5 686.3h0M92.9 683.9h0M76 685.3h0" stroke="#C68A00" stroke-width="1.5" stroke-linecap="round"/>
<path d="M88.8 682.6h0M76.6 683.6h0M82 680.5h0M94.6 685.9h0" stroke="#3D2B00" stroke-width="2.5" stroke-linecap="round"/>
<path d="M88.8 682.6h0M76.6 683.6h0M82 680.5h0M94.6 685.9h0" stroke="#C68A00" stroke-width="1.5" stroke-linecap="round"/>
<path d="M97.3 689h0M79.3 680.9h0M89.7 688.1h0M76.4 687.3h0" stroke="#3D2B00" stroke-width="2.5" stroke-linecap="round"/>
<path d="M97.3 689h0M79.3 680.9h0M89.7 688.1h0M76.4 687.3h0" stroke="#C68A00" stroke-width="1.5" stroke-linecap="round"/>
<path d="M93.8 686.6h0M81.5 684.2h0M79.9 683.9h0M81.5 687.3h0" stroke="#3D2B00" stroke-width="2.5" stroke-linecap="round"/>
<path d="M93.8 686.6h0M81.5 684.2h0M79.9 683.9h0M81.5 687.3h0" stroke="#C68A00" stroke-width="1.5" stroke-linecap="round"/>
<path d="M98.8 683.8h0M80.3 682.2h0M87.2 683.4h0M82.9 685.2h0" stroke="#3D2B00" stroke-width="2.5" stroke-linecap="round"/>
<path d="M98.8 683.8h0M80.3 682.2h0M87.2 683.4h0M82.9 685.2h0" stroke="#C68A00" stroke-width="1.5" stroke-linecap="round"/>
<path d="M90.8 684.5h0M96.6 684.3h0M76.7 684.9h0M92.5 688.7h0" stroke="#3D2B00" stroke-width="2.5" stroke-linecap="round"/>
<path d="M90.8 684.5h0M96.6 684.3h0M76.7 684.9h0M92.5 688.7h0" stroke="#C68A00" stroke-width="1.5" stroke-linecap="round"/>
<path d="M74.3 685.6h0M98 685.7h0M82.9 682.7h0M93.2 683.8h0" stroke="#3D2B00" stroke-width="2.5" stroke-linecap="round"/>
<path d="M74.3 685.6h0M98 685.7h0M82.9 682.7h0M93.2 683.8h0" stroke="#C68A00" stroke-width="1.5" stroke-linecap="round"/>
<path d="M78.4 686.9h0M79.3 685.8h0M87.7 686h0M81.9 684.3h0" stroke="#3D2B00" stroke-width="2.5" stroke-linecap="round"/>
<path d="M78.4 686.9h0M79.3 685.8h0M87.7 686h0M81.9 684.3h0" stroke="#C68A00" stroke-width="1.5" stroke-linecap="round"/>
<path d="M80.7 681.9h0M88.2 684.2h0M88.6 684h0M100 688.3h0" stroke="#3D2B00" stroke-width="2.5" stroke-linecap="round"/>
<path d="M80.7 681.9h0M88.2 684.2h0M88.6 684h0M100 688.3h0" stroke="#C68A00" stroke-width="1.5" stroke-linecap="round"/>
<path d="M78.1 682.7h0M98.5 683.5h0M92.5 688.5h0M82.7 684.3h0" stroke="#3D2B00" stroke-width="2.5" stroke-linecap="round"/>
<path d="M78.1 682.7h0M98.5 683.5h0M92.5 688.5h0M82.7 684.3h0" stroke="#C68A00" stroke-width="1.5" stroke-linecap="round"/>
<path d="M92.8 683.7h0M88.8 686.5h0M100.2 683.5h0M85 684.7h0" stroke="#3D2B00" stroke-width="2.5" stroke-linecap="round"/>
<path d="M92.8 683.7h0M88.8 686.5h0M100.2 683.5h0M85 684.7h0" stroke="#C68A00" stroke-width="1.5" stroke-linecap="round"/>
<path d="M94.4 684.2h0M84.5 686h0M79.5 684.1h0M92.4 685.3h0" stroke="#3D2B00" stroke-width="2.5" stroke-linecap="round"/>
<path d="M94.4 684.2h0M84.5 686h0M79.5 684.1h0M92.4 685.3h0" stroke="#C68A00" stroke-width="1.5" stroke-linecap="round"/>
<path d="M82.5 682.6h0M95.5 683.9h0M88.2 684.9h0M98.8 683.4h0" stroke="#3D2B00" stroke-width="2.5" stroke-linecap="round"/>
<path d="M82.5 682.6h0M95.5 683.9h0M88.2 684.9h0M98.8 683.4h0" stroke="#C68A00" stroke-width="1.5" stroke-linecap="round"/>
<path d="M88.3 686h0M77.1 684.6h0M93.6 680.5h0M74.5 688.3h0" stroke="#3D2B00" stroke-width="2.5" stroke-linecap="round"/>
<path d="M88.3 686h0M77.1 684.6h0M93.6 680.5h0M74.5 688.3h0" stroke="#C68A00" stroke-width="1.5" stroke-linecap="round"/>
<path d="M85.1 683.9h0M94.3 686.5h0M90.1 686h0M75.1 684.9h0" stroke="#3D2B00" stroke-width="2.5" stroke-linecap="round"/>
<path d="M85.1 683.9h0M94.3 686.5h0M90.1 686h0M75.1 684.9h0" stroke="#C68A00" stroke-width="1.5" stroke-linecap="round"/>
<path d="M78.4 685.7h0M99.3 685.7h0M90.3 683h0M84 686.4h0" stroke="#3D2B00" stroke-width="2.5" stroke-linecap="round"/>
<path d="M78.4 685.7h0M99.3 685.7h0M90.3 683h0M84 686.4h0" stroke="#C68A00" stroke-width="1.5" stroke-linecap="round"/>
<path d="M99.8 682.7h0M97.4 687.1h0M83.9 683.5h0M90.5 685.5h0" stroke="#3D2B00" stroke-width="2.5" stroke-linecap="round"/>
<path d="M99.8 682.7h0M97.4 687.1h0M83.9 683.5h0M90.5 685.5h0" stroke="#C68A00" stroke-width="1.5" stroke-linecap="round"/>
<path d="M91.5 684.5h0M82.4 686.1h0M88.9 684.1h0M90.1 684h0" stroke="#3D2B00" stroke-width="2.5" stroke-linecap="round"/>
<path d="M91.5 684.5h0M82.4 686.1h0M88.9 684.1h0M90.1 684h0" stroke="#C68A00" stroke-width="1.5" stroke-linecap="round"/>
<path d="M94.5 684.2h0M75.8 685.3h0M95.4 687.2h0M90.3 682.7h0" stroke="#3D2B00" stroke-width="2.5" stroke-linecap="round"/>
<path d="M94.5 684.2h0M75.8 685.3h0M95.4 687.2h0M90.3 682.7h0" stroke="#C68A00" stroke-width="1.5" stroke-linecap="round"/>
<path d="M78.8 680.5h0M96.6 684.4h0M84.3 683.8h0M97.2 685.2h0" stroke="#3D2B00" stroke-width="2.5" stroke-linecap="round"/>
<path d="M78.8 680.5h0M96.6 684.4h0M84.3 683.8h0M97.2 685.2h0" stroke="#C68A00" stroke-width="1.5" stroke-linecap="round"/>
<path d="M86.6 684.8h0M79.4 683.8h0M91 684.3h0M98.3 684.5h0" stroke="#3D2B00" stroke-width="2.5" stroke-linecap="round"/>
<path d="M86.6 684.8h0M79.4 683.8h0M91 684.3h0M98.3 684.5h0" stroke="#C68A00" stroke-width="1.5" stroke-linecap="round"/>
<path d="M79.3 683h0M85.1 682.6h0M76.3 682.6h0M82 681.8h0" stroke="#3D2B00" stroke-width="2.5" stroke-linecap="round"/>
<path d="M79.3 683h0M85.1 682.6h0M76.3 682.6h0M82 681.8h0" stroke="#C68A00" stroke-width="1.5" stroke-linecap="round"/>
<path d="M91.1 684.5h0M94.2 686.5h0M97.1 687.2h0M88.6 683.5h0" stroke="#3D2B00" stroke-width="2.5" stroke-linecap="round"/>
<path d="M91.1 684.5h0M94.2 686.5h0M97.1 687.2h0M88.6 683.5h0" stroke="#C68A00" stroke-width="1.5" stroke-linecap="round"/>
<path d="M84.6 685.5h0M93.9 682.7h0M82.4 684.6h0M81.2 684.1h0" stroke="#3D2B00" stroke-width="2.5" stroke-linecap="round"/>
<path d="M84.6 685.5h0M93.9 682.7h0M82.4 684.6h0M81.2 684.1h0" stroke="#C68A00" stroke-width="1.5" stroke-linecap="round"/>
<path d="M95.9 688h0M80.1 683.8h0M86.6 683.5h0M100 682.7h0" stroke="#3D2B00" stroke-width="2.5" stroke-linecap="round"/>
<path d="M95.9 688h0M80.1 683.8h0M86.6 683.5h0M100 682.7h0" stroke="#C68A00" stroke-width="1.5" stroke-linecap="round"/>
<path d="M99.8 682.6h0M78.3 686.3h0M86.9 687.6h0M91.4 683.3h0" stroke="#3D2B00" stroke-width="2.5" stroke-linecap="round"/>
<path d="M99.8 682.6h0M78.3 686.3h0M86.9 687.6h0M91.4 683.3h0" stroke="#C68A00" stroke-width="1.5" stroke-linecap="round"/>
<path d="M94.6 682.2h0M84.1 683.3h0M78.2 681.7h0M93 684.2h0" stroke="#3D2B00" stroke-width="2.5" stroke-linecap="round"/>
<path d="M94.6 682.2h0M84.1 683.3h0M78.2 681.7h0M93 684.2h0" stroke="#C68A00" stroke-width="1.5" stroke-linecap="round"/>
<path d="M95.1 687.5h0M88.5 682.7h0M97.3 684.6h0M95.8 685.4h0" stroke="#3D2B00" stroke-width="2.5" stroke-linecap="round"/>
<path d="M95.1 687.5h0M88.5 682.7h0M97.3 684.6h0M95.8 685.4h0" stroke="#C68A00" stroke-width="1.5" stroke-linecap="round"/>
<path d="M76.1 681.7h0M84.1 684.2h0M82.5 682h0M77.7 685.6h0" stroke="#3D2B00" stroke-width="2.5" stroke-linecap="round"/>
<path d="M76.1 681.7h0M84.1 684.2h0M82.5 682h0M77.7 685.6h0" stroke="#C68A00" stroke-width="1.5" stroke-linecap="round"/>
<path d="M76.4 685h0M86.1 684.4h0M95.9 680.5h0M94.7 683.2h0" stroke="#3D2B00" stroke-width="2.5" stroke-linecap="round"/>
<path d="M76.4 685h0M86.1 684.4h0M95.9 680.5h0M94.7 683.2h0" stroke="#C68A00" stroke-width="1.5" stroke-linecap="round"/>
<path d="M88.2 684.9h0M75.9 683.3h0M90.3 685.9h0M79.8 685.2h0" stroke="#3D2B00" stroke-width="2.5" stroke-linecap="round"/>
<path d="M88.2 684.9h0M75.9 683.3h0M90.3 685.9h0M79.8 685.2h0" stroke="#C68A00" stroke-width="1.5" stroke-linecap="round"/>
<path d="M80.6 685.7h0M79.7 684.7h0M92.2 686.1h0M87.1 683.7h0" stroke="#3D2B00" stroke-width="2.5" stroke-linecap="round"/>
<path d="M80.6 685.7h0M79.7 684.7h0M92.2 686.1h0M87.1 683.7h0" stroke="#C68A00" stroke-width="1.5" stroke-linecap="round"/>
<path d="M82 683.8h0M85.4 686h0M77.5 682.4h0M82.7 681.3h0" stroke="#3D2B00" stroke-width="2.5" stroke-linecap="round"/>
<path d="M82 683.8h0M85.4 686h0M77.5 682.4h0M82.7 681.3h0" stroke="#C68A00" stroke-width="1.5" stroke-linecap="round"/>
<path d="M87 685.9h0M74.6 686.7h0M74.8 685.9h0M94.1 689h0" stroke="#3D2B00" stroke-width="2.5" stroke-linecap="round"/>
<path d="M87 685.9h0M74.6 686.7h0M74.8 685.9h0M94.1 689h0" stroke="#C68A00" stroke-width="1.5" stroke-linecap="round"/>
<path d="M90.7 684.9h0M82.9 681.2h0M88.7 683.6h0M94.9 680.5h0" stroke="#3D2B00" stroke-width="2.5" stroke-linecap="round"/>
<path d="M90.7 684.9h0M82.9 681.2h0M88.7 683.6h0M94.9 680.5h0" stroke="#C68A00" stroke-width="1.5" stroke-linecap="round"/>
<path d="M87.2 684.1h0M82.9 685h0M80.9 687.7h0M88.7 688.3h0" stroke="#3D2B00" stroke-width="2.5" stroke-linecap="round"/>
<path d="M87.2 684.1h0M82.9 685h0M80.9 687.7h0M88.7 688.3h0" stroke="#C68A00" stroke-width="1.5" stroke-linecap="round"/>
<path d="M88.2 685h0M99 687.5h0M88.8 686.3h0M93.4 683.6h0" stroke="#3D2B00" stroke-width="2.5" stroke-linecap="round"/>
<path d="M88.2 685h0M99 687.5h0M88.8 686.3h0M93.4 683.6h0" stroke="#C68A00" stroke-width="1.5" stroke-linecap="round"/>
<path d="M76.4 683.5h0M98.8 681.3h0M84.5 684.1h0M75.4 684.1h0" stroke="#3D2B00" stroke-width="2.5" stroke-linecap="round"/>
<path d="M76.4 683.5h0M98.8 681.3h0M84.5 684.1h0M75.4 684.1h0" stroke="#C68A00" stroke-width="1.5" stroke-linecap="round"/>
<path d="M79.8 683h0M95.3 684.6h0M82.9 683.4h0M100.1 688.5h0" stroke="#3D2B00" stroke-width="2.5" stroke-linecap="round"/>
<path d="M79.8 683h0M95.3 684.6h0M82.9 683.4h0M100.1 688.5h0" stroke="#C68A00" stroke-width="1.5" stroke-linecap="round"/>
<path d="M98.8 681.7h0M87.5 686.7h0M95.2 683.4h0M74.8 684h0" stroke="#3D2B00" stroke-width="2.5" stroke-linecap="round"/>
<path d="M98.8 681.7h0M87.5 686.7h0M95.2 683.4h0M74.8 684h0" stroke="#C68A00" stroke-width="1.5" stroke-linecap="round"/>
<path d="M83.6 685.4h0M93.4 680.5h0M76.3 683.5h0M77.5 685.9h0" stroke="#3D2B00" stroke-width="2.5" stroke-linecap="round"/>
<path d="M83.6 685.4h0M93.4 680.5h0M76.3 683.5h0M77.5 685.9h0" stroke="#C68A00" stroke-width="1.5" stroke-linecap="round"/>
<path d="M79.4 681.7h0M95.6 681.7h0M78.7 680.5h0M85.7 683.5h0" stroke="#3D2B00" stroke-width="2.5" stroke-linecap="round"/>
<path d="M79.4 681.7h0M95.6 681.7h0M78.7 680.5h0M85.7 683.5h0" stroke="#C68A00" stroke-width="1.5" stroke-linecap="round"/>
<path d="M88.5 681.5h0M88.6 683.8h0M90.6 683.3h0M86.6 685.2h0" stroke="#3D2B00" stroke-width="2.5" stroke-linecap="round"/>
<path d="M88.5 681.5h0M88.6 683.8h0M90.6 683.3h0M86.6 685.2h0" stroke="#C68A00" stroke-width="1.5" stroke-linecap="round"/>
<path d="M99.9 687.2h0M88.5 681.3h0M77.2 683.1h0M95.6 683h0" stroke="#3D2B00" stroke-width="2.5" stroke-linecap="round"/>
<path d="M99.9 687.2h0M88.5 681.3h0M77.2 683.1h0M95.6 683h0" stroke="#C68A00" stroke-width="1.5" stroke-linecap="round"/>
<path d="M80.3 687.8h0M78.8 683.8h0M79.3 682.6h0M87.6 681.2h0" stroke="#3D2B00" stroke-width="2.5" stroke-linecap="round"/>
<path d="M80.3 687.8h0M78.8 683.8h0M79.3 682.6h0M87.6 681.2h0" stroke="#C68A00" stroke-width="1.5" stroke-linecap="round"/>
<path d="M88.2 685.2h0M99.8 682h0M89.2 682.9h0M94.7 686h0" stroke="#3D2B00" stroke-width="2.5" stroke-linecap="round"/>
<path d="M88.2 685.2h0M99.8 682h0M89.2 682.9h0M94.7 686h0" stroke="#C68A00" stroke-width="1.5" stroke-linecap="round"/>
<path d="M90.5 684.8h0M94.1 684.9h0M92.1 685.5h0M88.1 683h0" stroke="#3D2B00" stroke-width="2.5" stroke-linecap="round"/>
<path d="M90.5 684.8h0M94.1 684.9h0M92.1 685.5h0M88.1 683h0" stroke="#C68A00" stroke-width="1.5" stroke-linecap="round"/>
<path d="M74.6 682.2h0M91 683.6h0M77.3 682.6h0M82 686.4h0" stroke="#3D2B00" stroke-width="2.5" stroke-linecap="round"/>
<path d="M74.6 682.2h0M91 683.6h0M77.3 682.6h0M82 686.4h0" stroke="#C68A00" stroke-width="1.5" stroke-linecap="round"/>
<path d="M81 685.6h0M74.6 684.6h0M97.4 685.2h0M92.5 683.8h0" stroke="#3D2B00" stroke-width="2.5" stroke-linecap="round"/>
<path d="M81 685.6h0M74.6 684.6h0M97.4 685.2h0M92.5 683.8h0" stroke="#C68A00" stroke-width="1.5" stroke-linecap="round"/>
<path d="M83.2 684.1h0M96.9 686.4h0M82.4 681.5h0M98 685.1h0" stroke="#3D2B00" stroke-width="2.5" stroke-linecap="round"/>
<path d="M83.2 684.1h0M96.9 686.4h0M82.4 681.5h0M98 685.1h0" stroke="#C68A00" stroke-width="1.5" stroke-linecap="round"/>
<path d="M96.6 686.9h0M75.7 682.9h0M95.3 684.4h0M82.7 684.7h0" stroke="#3D2B00" stroke-width="2.5" stroke-linecap="round"/>
<path d="M96.6 686.9h0M75.7 682.9h0M95.3 684.4h0M82.7 684.7h0" stroke="#C68A00" stroke-width="1.5" stroke-linecap="round"/>
<path d="M91.8 684.1h0M88.9 686.2h0M97.1 685.3h0M86.9 684.8h0" stroke="#3D2B00" stroke-width="2.5" stroke-linecap="round"/>
<path d="M91.8 684.1h0M88.9 686.2h0M97.1 685.3h0M86.9 684.8h0" stroke="#C68A00" stroke-width="1.5" stroke-linecap="round"/>
<path d="M86.7 684h0M84.6 682.4h0M96.5 685.9h0M83.9 684.2h0" stroke="#3D2B00" stroke-width="2.5" stroke-linecap="round"/>
<path d="M86.7 684h0M84.6 682.4h0M96.5 685.9h0M83.9 684.2h0" stroke="#C68A00" stroke-width="1.5" stroke-linecap="round"/>
<path d="M91.9 683.3h0M95 684.1h0M83.9 688.2h0M80.6 683.2h0" stroke="#3D2B00" stroke-width="2.5" stroke-linecap="round"/>
<path d="M91.9 683.3h0M95 684.1h0M83.9 688.2h0M80.6 683.2h0" stroke="#C68A00" stroke-width="1.5" stroke-linecap="round"/>
<path d="M95.9 686.5h0M77.8 682.5h0M90.1 682.6h0M94.1 687.8h0" stroke="#3D2B00" stroke-width="2.5" stroke-linecap="round"/>
<path d="M95.9 686.5h0M77.8 682.5h0M90.1 682.6h0M94.1 687.8h0" stroke="#C68A00" stroke-width="1.5" stroke-linecap="round"/>
<path d="M94.8 682.4h0M87 684.8h0M99.7 687.8h0M89.7 681h0" stroke="#3D2B00" stroke-width="2.5" stroke-linecap="round"/>
<path d="M94.8 682.4h0M87 684.8h0M99.7 687.8h0M89.7 681h0" stroke="#C68A00" stroke-width="1.5" stroke-linecap="round"/>
<path d="M95.3 684.2h0M88.9 685h0M78.2 683.4h0M98 685.9h0" stroke="#3D2B00" stroke-width="2.5" stroke-linecap="round"/>
<path d="M95.3 684.2h0M88.9 685h0M78.2 683.4h0M98 685.9h0" stroke="#C68A00" stroke-width="1.5" stroke-linecap="round"/>
<path d="M74.8 685.2h0M77.9 684.2h0M78.7 685.6h0M89.6 684.1h0" stroke="#3D2B00" stroke-width="2.5" stroke-linecap="round"/>
<path d="M74.8 685.2h0M77.9 684.2h0M78.7 685.6h0M89.6 684.1h0" stroke="#C68A00" stroke-width="1.5" stroke-linecap="round"/>
<path d="M89.7 681.1h0M98.3 685.4h0M93.4 688.1h0M96 686.3h0" stroke="#3D2B00" stroke-width="2.5" stroke-linecap="round"/>
<path d="M89.7 681.1h0M98.3 685.4h0M93.4 688.1h0M96 686.3h0" stroke="#C68A00" stroke-width="1.5" stroke-linecap="round"/>
<path d="M75 685.1h0M89.3 681.9h0M76.5 683.2h0M91.4 686.1h0" stroke="#3D2B00" stroke-width="2.5" stroke-linecap="round"/>
<path d="M75 685.1h0M89.3 681.9h0M76.5 683.2h0M91.4 686.1h0" stroke="#C68A00" stroke-width="1.5" stroke-linecap="round"/>
<path d="M74.9 685.1h0M89.9 687.1h0M76.9 683.9h0M85.7 681.3h0" stroke="#3D2B00" stroke-width="2.5" stroke-linecap="round"/>
<path d="M74.9 685.1h0M89.9 687.1h0M76.9 683.9h0M85.7 681.3h0" stroke="#C68A00" stroke-width="1.5" stroke-linecap="round"/>
<path d="M89.7 681.7h0M78.8 685.3h0M96.1 686.1h0M76.6 684.4h0" stroke="#3D2B00" stroke-width="2.5" stroke-linecap="round"/>
<path d="M89.7 681.7h0M78.8 685.3h0M96.1 686.1h0M76.6 684.4h0" stroke="#C68A00" stroke-width="1.5" stroke-linecap="round"/>
<path d="M83.8 685.4h0M77.2 685.1h0M77.8 686.2h0M83 683h0" stroke="#3D2B00" stroke-width="2.5" stroke-linecap="round"/>
<path d="M83.8 685.4h0M77.2 685.1h0M77.8 686.2h0M83 683h0" stroke="#C68A00" stroke-width="1.5" stroke-linecap="round"/>
<path d="M77.7 682.8h0M87.7 683h0M90.2 684.8h0M92.1 684.9h0" stroke="#3D2B00" stroke-width="2.5" stroke-linecap="round"/>
<path d="M77.7 682.8h0M87.7 683h0M90.2 684.8h0M92.1 684.9h0" stroke="#C68A00" stroke-width="1.5" stroke-linecap="round"/>
<path d="M82.3 681.8h0M91.6 684.9h0M85.8 685.7h0M99.4 683.2h0" stroke="#3D2B00" stroke-width="2.5" stroke-linecap="round"/>
<path d="M82.3 681.8h0M91.6 684.9h0M85.8 685.7h0M99.4 683.2h0" stroke="#C68A00" stroke-width="1.5" stroke-linecap="round"/>
<path d="M82.8 685.2h0M74.5 682.6h0M90.1 685.1h0M82.5 682.4h0" stroke="#3D2B00" stroke-width="2.5" stroke-linecap="round"/>
<path d="M82.8 685.2h0M74.5 682.6h0M90.1 685.1h0M82.5 682.4h0" stroke="#C68A00" stroke-width="1.5" stroke-linecap="round"/>
<path d="M99.3 684.9h0M95.1 681.7h0M82.2 681.4h0M80.3 686.3h0" stroke="#3D2B00" stroke-width="2.5" stroke-linecap="round"/>
<path d="M99.3 684.9h0M95.1 681.7h0M82.2 681.4h0M80.3 686.3h0" stroke="#C68A00" stroke-width="1.5" stroke-linecap="round"/>
<path d="M76.3 684.7h0M79.2 683.2h0M98.7 686.6h0M82.3 680.5h0" stroke="#3D2B00" stroke-width="2.5" stroke-linecap="round"/>
<path d="M76.3 684.7h0M79.2 683.2h0M98.7 686.6h0M82.3 680.5h0" stroke="#C68A00" stroke-width="1.5" stroke-linecap="round"/>
<path d="M81.7 686.2h0M92.3 685.4h0M82.6 683.7h0M88.1 685h0" stroke="#3D2B00" stroke-width="2.5" stroke-linecap="round"/>
<path d="M81.7 686.2h0M92.3 685.4h0M82.6 683.7h0M88.1 685h0" stroke="#C68A00" stroke-width="1.5" stroke-linecap="round"/>
<path d="M80.8 687h0M87.9 685.9h0M92 684.8h0M97.9 685.4h0" stroke="#3D2B00" stroke-width="2.5" stroke-linecap="round"/>
<path d="M80.8 687h0M87.9 685.9h0M92 684.8h0M97.9 685.4h0" stroke="#C68A00" stroke-width="1.5" stroke-linecap="round"/>
<path d="M90.8 687.2h0M80.2 683.1h0M89.1 686h0M81.8 682h0" stroke="#3D2B00" stroke-width="2.5" stroke-linecap="round"/>
<path d="M90.8 687.2h0M80.2 683.1h0M89.1 686h0M81.8 682h0" stroke="#C68A00" stroke-width="1.5" stroke-linecap="round"/>
<path d="M92.7 687.7h0M95.5 685.9h0M77.7 683.5h0M85.3 685.8h0" stroke="#3D2B00" stroke-width="2.5" stroke-linecap="round"/>
<path d="M92.7 687.7h0M95.5 685.9h0M77.7 683.5h0M85.3 685.8h0" stroke="#C68A00" stroke-width="1.5" stroke-linecap="round"/>
<path d="M94.9 683.8h0M86.8 685.2h0M90.3 682.6h0M82 686.1h0" stroke="#3D2B00" stroke-width="2.5" stroke-linecap="round"/>
<path d="M94.9 683.8h0M86.8 685.2h0M90.3 682.6h0M82 686.1h0" stroke="#C68A00" stroke-width="1.5" stroke-linecap="round"/>
<path d="M87 636.9h0M93.7 665h0M93.7 668.2h0M97.4 668.7h0" stroke="#3D2B00" stroke-width="2.5" stroke-linecap="round"/>
<path d="M87 636.9h0M93.7 665h0M93.7 668.2h0M97.4 668.7h0" stroke="#C68A00" stroke-width="1.5" stroke-linecap="round"/>
<path d="M95.7 674.4h0M74.8 676.9h0M78.3 678.6h0M90.8 677.3h0" stroke="#3D2B00" stroke-width="2.5" stroke-linecap="round"/>
<path d="M95.7 674.4h0M74.8 676.9h0M78.3 678.6h0M90.8 677.3h0" stroke="#C68A00" stroke-width="1.5" stroke-linecap="round"/>
<path d="M98.7 679h0M85 678.5h0M95 678h0M80.5 679.2h0" stroke="#3D2B00" stroke-width="2.5" stroke-linecap="round"/>
<path d="M98.7 679h0M85 678.5h0M95 678h0M80.5 679.2h0" stroke="#C68A00" stroke-width="1.5" stroke-linecap="round"/>
<path d="M89 679.5h0" stroke="#3D2B00" stroke-width="2.5" stroke-linecap="round"/>
<path d="M89 679.5h0" stroke="#C68A00" stroke-width="1.5" stroke-linecap="round"/>
<path d="M141.6 567.1h0M131 587.8h0M141.6 594.4h0M151.7 579.4h0" stroke="#102F4C" stroke-width="2.4" stroke-linecap="round"/>
<path d="M141.6 567.1h0M131 587.8h0M141.6 594.4h0M151.7 579.4h0" stroke="#22598A" stroke-width="1.6" stroke-linecap="round"/>
<path d="M131.3 576.8h0M139.1 579.9h0M135.8 588.6h0M139.1 585.8h0" stroke="#102F4C" stroke-width="2.4" stroke-linecap="round"/>
<path d="M131.3 576.8h0M139.1 579.9h0M135.8 588.6h0M139.1 585.8h0" stroke="#22598A" stroke-width="1.6" stroke-linecap="round"/>
<path d="M153.9 585.9h0M143.1 573.3h0M147.6 587.8h0M136.7 584.7h0" stroke="#102F4C" stroke-width="2.4" stroke-linecap="round"/>
<path d="M153.9 585.9h0M143.1 573.3h0M147.6 587.8h0M136.7 584.7h0" stroke="#22598A" stroke-width="1.6" stroke-linecap="round"/>
<path d="M156.5 587.3h0M131.8 591h0M140.7 592.4h0M134.6 587.2h0" stroke="#102F4C" stroke-width="2.4" stroke-linecap="round"/>
<path d="M156.5 587.3h0M131.8 591h0M140.7 592.4h0M134.6 587.2h0" stroke="#22598A" stroke-width="1.6" stroke-linecap="round"/>
<path d="M136.3 578.6h0M146.1 591.6h0M143.7 590.2h0M139 587.6h0" stroke="#102F4C" stroke-width="2.4" stroke-linecap="round"/>
<path d="M136.3 578.6h0M146.1 591.6h0M143.7 590.2h0M139 587.6h0" stroke="#22598A" stroke-width="1.6" stroke-linecap="round"/>
<path d="M140.7 595h0M156.1 578.1h0M130.9 587.1h0M135.1 592.8h0" stroke="#102F4C" stroke-width="2.4" stroke-linecap="round"/>
<path d="M140.7 595h0M156.1 578.1h0M130.9 587.1h0M135.1 592.8h0" stroke="#22598A" stroke-width="1.6" stroke-linecap="round"/>
<path d="M150.7 582.4h0M131.6 587.6h0M139.6 586h0M134.4 589.8h0" stroke="#102F4C" stroke-width="2.4" stroke-linecap="round"/>
<path d="M150.7 582.4h0M131.6 587.6h0M139.6 586h0M134.4 589.8h0" stroke="#22598A" stroke-width="1.6" stroke-linecap="round"/>
<path d="M139.3 580.8h0M149.6 600.6h0M133 576.6h0M148.1 587.5h0" stroke="#102F4C" stroke-width="2.4" stroke-linecap="round"/>
<path d="M139.3 580.8h0M149.6 600.6h0M133 576.6h0M148.1 587.5h0" stroke="#22598A" stroke-width="1.6" stroke-linecap="round"/>
<path d="M152.2 582h0M136.6 594.2h0M155.6 575.9h0M134.6 578.5h0" stroke="#102F4C" stroke-width="2.4" stroke-linecap="round"/>
<path d="M152.2 582h0M136.6 594.2h0M155.6 575.9h0M134.6 578.5h0" stroke="#22598A" stroke-width="1.6" stroke-linecap="round"/>
<path d="M136.7 589.7h0M132 577.5h0M140.6 581.1h0M149.6 582.7h0" stroke="#102F4C" stroke-width="2.4" stroke-linecap="round"/>
<path d="M136.7 589.7h0M132 577.5h0M140.6 581.1h0M149.6 582.7h0" stroke="#22598A" stroke-width="1.6" stroke-linecap="round"/>
<path d="M134.5 589.2h0M155.3 590.9h0M144.5 573.1h0M146.4 587.6h0" stroke="#102F4C" stroke-width="2.4" stroke-linecap="round"/>
<path d="M134.5 589.2h0M155.3 590.9h0M144.5 573.1h0M146.4 587.6h0" stroke="#22598A" stroke-width="1.6" stroke-linecap="round"/>
<path d="M142.7 599h0M137.2 596.6h0M141.9 590.8h0M142.1 577h0" stroke="#102F4C" stroke-width="2.4" stroke-linecap="round"/>
<path d="M142.7 599h0M137.2 596.6h0M141.9 590.8h0M142.1 577h0" stroke="#22598A" stroke-width="1.6" stroke-linecap="round"/>
<path d="M141.8 593.8h0M136.8 581.5h0M133.1 588.3h0M137.5 590.3h0" stroke="#102F4C" stroke-width="2.4" stroke-linecap="round"/>
<path d="M141.8 593.8h0M136.8 581.5h0M133.1 588.3h0M137.5 590.3h0" stroke="#22598A" stroke-width="1.6" stroke-linecap="round"/>
<path d="M149.3 585.9h0M144.3 593.1h0M143.3 587.8h0M149.1 585h0" stroke="#102F4C" stroke-width="2.4" stroke-linecap="round"/>
<path d="M149.3 585.9h0M144.3 593.1h0M143.3 587.8h0M149.1 585h0" stroke="#22598A" stroke-width="1.6" stroke-linecap="round"/>
<path d="M141.1 582.3h0M148.9 584.5h0M137.9 581.5h0M156.1 578.4h0" stroke="#102F4C" stroke-width="2.4" stroke-linecap="round"/>
<path d="M141.1 582.3h0M148.9 584.5h0M137.9 581.5h0M156.1 578.4h0" stroke="#22598A" stroke-width="1.6" stroke-linecap="round"/>
<path d="M138.3 594.4h0M137.1 597.6h0M150.9 587.6h0M132.9 577.8h0" stroke="#102F4C" stroke-width="2.4" stroke-linecap="round"/>
<path d="M138.3 594.4h0M137.1 597.6h0M150.9 587.6h0M132.9 577.8h0" stroke="#22598A" stroke-width="1.6" stroke-linecap="round"/>
<path d="M156.8 582.7h0M147.7 586.4h0M140.2 579.1h0M147.4 586.1h0" stroke="#102F4C" stroke-width="2.4" stroke-linecap="round"/>
<path d="M156.8 582.7h0M147.7 586.4h0M140.2 579.1h0M147.4 586.1h0" stroke="#22598A" stroke-width="1.6" stroke-linecap="round"/>
<path d="M134.8 589.2h0M132 577.3h0M146.1 574.8h0M136.3 592.4h0" stroke="#102F4C" stroke-width="2.4" stroke-linecap="round"/>
<path d="M134.8 589.2h0M132 577.3h0M146.1 574.8h0M136.3 592.4h0" stroke="#22598A" stroke-width="1.6" stroke-linecap="round"/>
<path d="M148.2 589.3h0M140.2 592.5h0M133.6 583h0M140.2 583.5h0" stroke="#102F4C" stroke-width="2.4" stroke-linecap="round"/>
<path d="M148.2 589.3h0M140.2 592.5h0M133.6 583h0M140.2 583.5h0" stroke="#22598A" stroke-width="1.6" stroke-linecap="round"/>
<path d="M155.7 600.4h0M155.3 592.7h0M153.8 595h0M145.8 594h0" stroke="#102F4C" stroke-width="2.4" stroke-linecap="round"/>
<path d="M155.7 600.4h0M155.3 592.7h0M153.8 595h0M145.8 594h0" stroke="#22598A" stroke-width="1.6" stroke-linecap="round"/>
<path d="M137.5 581.9h0M140.8 588.4h0M152.5 570.8h0M133.2 596.3h0" stroke="#102F4C" stroke-width="2.4" stroke-linecap="round"/>
<path d="M137.5 581.9h0M140.8 588.4h0M152.5 570.8h0M133.2 596.3h0" stroke="#22598A" stroke-width="1.6" stroke-linecap="round"/>
<path d="M142.9 571.1h0M143.5 590.3h0M150.1 583.9h0M151.3 594.5h0" stroke="#102F4C" stroke-width="2.4" stroke-linecap="round"/>
<path d="M142.9 571.1h0M143.5 590.3h0M150.1 583.9h0M151.3 594.5h0" stroke="#22598A" stroke-width="1.6" stroke-linecap="round"/>
<path d="M140.2 591.8h0M155.7 587.6h0M156.6 586.5h0M143.2 588.5h0" stroke="#102F4C" stroke-width="2.4" stroke-linecap="round"/>
<path d="M140.2 591.8h0M155.7 587.6h0M156.6 586.5h0M143.2 588.5h0" stroke="#22598A" stroke-width="1.6" stroke-linecap="round"/>
<path d="M140.2 589.7h0M151.4 588.8h0M142.5 593.2h0M144.5 596.4h0" stroke="#102F4C" stroke-width="2.4" stroke-linecap="round"/>
<path d="M140.2 589.7h0M151.4 588.8h0M142.5 593.2h0M144.5 596.4h0" stroke="#22598A" stroke-width="1.6" stroke-linecap="round"/>
<path d="M131 581.1h0M144.7 597.7h0M148.7 578.5h0M138.4 592.7h0" stroke="#102F4C" stroke-width="2.4" stroke-linecap="round"/>
<path d="M131 581.1h0M144.7 597.7h0M148.7 578.5h0M138.4 592.7h0" stroke="#22598A" stroke-width="1.6" stroke-linecap="round"/>
<path d="M145.6 580.8h0M132.7 601.5h0M153.6 589.7h0M137.1 593.5h0" stroke="#102F4C" stroke-width="2.4" stroke-linecap="round"/>
<path d="M145.6 580.8h0M132.7 601.5h0M153.6 589.7h0M137.1 593.5h0" stroke="#22598A" stroke-width="1.6" stroke-linecap="round"/>
<path d="M145.8 602.5h0M147 596h0M152.6 599.5h0M145.5 577.7h0" stroke="#102F4C" stroke-width="2.4" stroke-linecap="round"/>
<path d="M145.8 602.5h0M147 596h0M152.6 599.5h0M145.5 577.7h0" stroke="#22598A" stroke-width="1.6" stroke-linecap="round"/>
<path d="M138.8 582.8h0M155 589.1h0M133.5 584.8h0M138.5 584h0" stroke="#102F4C" stroke-width="2.4" stroke-linecap="round"/>
<path d="M138.8 582.8h0M155 589.1h0M133.5 584.8h0M138.5 584h0" stroke="#22598A" stroke-width="1.6" stroke-linecap="round"/>
<path d="M132.6 584h0M156.5 579.8h0M155.7 598.7h0M131 596.2h0" stroke="#102F4C" stroke-width="2.4" stroke-linecap="round"/>
<path d="M132.6 584h0M156.5 579.8h0M155.7 598.7h0M131 596.2h0" stroke="#22598A" stroke-width="1.6" stroke-linecap="round"/>
<path d="M149.4 588.1h0M147.7 596.8h0M141.8 580h0M152.1 605.5h0" stroke="#102F4C" stroke-width="2.4" stroke-linecap="round"/>
<path d="M149.4 588.1h0M147.7 596.8h0M141.8 580h0M152.1 605.5h0" stroke="#22598A" stroke-width="1.6" stroke-linecap="round"/>
<path d="M141.8 584.7h0M130.9 597.3h0M148 583.4h0M143.6 591h0" stroke="#102F4C" stroke-width="2.4" stroke-linecap="round"/>
<path d="M141.8 584.7h0M130.9 597.3h0M148 583.4h0M143.6 591h0" stroke="#22598A" stroke-width="1.6" stroke-linecap="round"/>
<path d="M146.6 595.3h0M143.9 597.2h0M135.8 582.9h0M137.9 586.5h0" stroke="#102F4C" stroke-width="2.4" stroke-linecap="round"/>
<path d="M146.6 595.3h0M143.9 597.2h0M135.8 582.9h0M137.9 586.5h0" stroke="#22598A" stroke-width="1.6" stroke-linecap="round"/>
<path d="M139.2 585.8h0M149.8 600.4h0M134.8 586h0M145.6 581.4h0" stroke="#102F4C" stroke-width="2.4" stroke-linecap="round"/>
<path d="M139.2 585.8h0M149.8 600.4h0M134.8 586h0M145.6 581.4h0" stroke="#22598A" stroke-width="1.6" stroke-linecap="round"/>
<path d="M133.3 574.6h0M142.8 569.5h0M139.6 574.9h0M136.8 591.6h0" stroke="#102F4C" stroke-width="2.4" stroke-linecap="round"/>
<path d="M133.3 574.6h0M142.8 569.5h0M139.6 574.9h0M136.8 591.6h0" stroke="#22598A" stroke-width="1.6" stroke-linecap="round"/>
<path d="M135.7 578.5h0M147.3 583.5h0M137.3 581.8h0M132.3 578.6h0" stroke="#102F4C" stroke-width="2.4" stroke-linecap="round"/>
<path d="M135.7 578.5h0M147.3 583.5h0M137.3 581.8h0M132.3 578.6h0" stroke="#22598A" stroke-width="1.6" stroke-linecap="round"/>
<path d="M134.6 580.8h0M145.9 590.6h0M156.1 584.2h0M132.1 592.5h0" stroke="#102F4C" stroke-width="2.4" stroke-linecap="round"/>
<path d="M134.6 580.8h0M145.9 590.6h0M156.1 584.2h0M132.1 592.5h0" stroke="#22598A" stroke-width="1.6" stroke-linecap="round"/>
<path d="M154.3 588h0M131.6 576h0M153.3 584.3h0M148.9 593.9h0" stroke="#102F4C" stroke-width="2.4" stroke-linecap="round"/>
<path d="M154.3 588h0M131.6 576h0M153.3 584.3h0M148.9 593.9h0" stroke="#22598A" stroke-width="1.6" stroke-linecap="round"/>
<path d="M149.2 599.5h0M151 577.1h0M132.2 590.8h0M131.2 595.9h0" stroke="#102F4C" stroke-width="2.4" stroke-linecap="round"/>
<path d="M149.2 599.5h0M151 577.1h0M132.2 590.8h0M131.2 595.9h0" stroke="#22598A" stroke-width="1.6" stroke-linecap="round"/>
<path d="M157.3 604.7h0M132.5 585.5h0M149.9 594.6h0M139 580h0" stroke="#102F4C" stroke-width="2.4" stroke-linecap="round"/>
<path d="M157.3 604.7h0M132.5 585.5h0M149.9 594.6h0M139 580h0" stroke="#22598A" stroke-width="1.6" stroke-linecap="round"/>
<path d="M152.7 595.7h0M131.4 593.1h0M145.7 575.9h0M132.9 582.6h0" stroke="#102F4C" stroke-width="2.4" stroke-linecap="round"/>
<path d="M152.7 595.7h0M131.4 593.1h0M145.7 575.9h0M132.9 582.6h0" stroke="#22598A" stroke-width="1.6" stroke-linecap="round"/>
<path d="M152.2 585.3h0M133.8 589.8h0M150.3 588.2h0M157.3 589.9h0" stroke="#102F4C" stroke-width="2.4" stroke-linecap="round"/>
<path d="M152.2 585.3h0M133.8 589.8h0M150.3 588.2h0M157.3 589.9h0" stroke="#22598A" stroke-width="1.6" stroke-linecap="round"/>
<path d="M141.4 590.7h0M130.9 579.2h0M148.7 577.6h0M138.7 589.9h0" stroke="#102F4C" stroke-width="2.4" stroke-linecap="round"/>
<path d="M141.4 590.7h0M130.9 579.2h0M148.7 577.6h0M138.7 589.9h0" stroke="#22598A" stroke-width="1.6" stroke-linecap="round"/>
<path d="M152.4 578.8h0M147.5 583.4h0M140.3 586.3h0M139.6 599.8h0" stroke="#102F4C" stroke-width="2.4" stroke-linecap="round"/>
<path d="M152.4 578.8h0M147.5 583.4h0M140.3 586.3h0M139.6 599.8h0" stroke="#22598A" stroke-width="1.6" stroke-linecap="round"/>
<path d="M138.9 588.5h0M150.4 598.4h0M143.9 593.4h0M141.6 580.3h0" stroke="#102F4C" stroke-width="2.4" stroke-linecap="round"/>
<path d="M138.9 588.5h0M150.4 598.4h0M143.9 593.4h0M141.6 580.3h0" stroke="#22598A" stroke-width="1.6" stroke-linecap="round"/>
<path d="M145.6 600.2h0M133.5 584.2h0M139.3 596.4h0M138.6 590.1h0" stroke="#102F4C" stroke-width="2.4" stroke-linecap="round"/>
<path d="M145.6 600.2h0M133.5 584.2h0M139.3 596.4h0M138.6 590.1h0" stroke="#22598A" stroke-width="1.6" stroke-linecap="round"/>
<path d="M132.6 583.6h0M131 574.6h0M135.3 591.2h0M138.9 586.5h0" stroke="#102F4C" stroke-width="2.4" stroke-linecap="round"/>
<path d="M132.6 583.6h0M131 574.6h0M135.3 591.2h0M138.9 586.5h0" stroke="#22598A" stroke-width="1.6" stroke-linecap="round"/>
<path d="M152.9 605h0M134.7 583.3h0M142.2 587.6h0M142 583.4h0" stroke="#102F4C" stroke-width="2.4" stroke-linecap="round"/>
<path d="M152.9 605h0M134.7 583.3h0M142.2 587.6h0M142 583.4h0" stroke="#22598A" stroke-width="1.6" stroke-linecap="round"/>
<path d="M144.2 582.3h0M131 597.1h0M155 596.8h0M156.1 578.7h0" stroke="#102F4C" stroke-width="2.4" stroke-linecap="round"/>
<path d="M144.2 582.3h0M131 597.1h0M155 596.8h0M156.1 578.7h0" stroke="#22598A" stroke-width="1.6" stroke-linecap="round"/>
<path d="M144 583.3h0M135.8 584.7h0M156.6 580.9h0M131.9 594.2h0" stroke="#102F4C" stroke-width="2.4" stroke-linecap="round"/>
<path d="M144 583.3h0M135.8 584.7h0M156.6 580.9h0M131.9 594.2h0" stroke="#22598A" stroke-width="1.6" stroke-linecap="round"/>
<path d="M140.2 587.6h0M136.6 584.3h0M151.6 588.8h0M145.3 590.2h0" stroke="#102F4C" stroke-width="2.4" stroke-linecap="round"/>
<path d="M140.2 587.6h0M136.6 584.3h0M151.6 588.8h0M145.3 590.2h0" stroke="#22598A" stroke-width="1.6" stroke-linecap="round"/>
<path d="M138.6 585.5h0M150.2 586.1h0M149.8 591.7h0M139.3 592h0" stroke="#102F4C" stroke-width="2.4" stroke-linecap="round"/>
<path d="M138.6 585.5h0M150.2 586.1h0M149.8 591.7h0M139.3 592h0" stroke="#22598A" stroke-width="1.6" stroke-linecap="round"/>
<path d="M141.7 582.2h0M144.8 592.1h0M136.8 574h0M136.8 585.7h0" stroke="#102F4C" stroke-width="2.4" stroke-linecap="round"/>
<path d="M141.7 582.2h0M144.8 592.1h0M136.8 574h0M136.8 585.7h0" stroke="#22598A" stroke-width="1.6" stroke-linecap="round"/>
<path d="M152.8 595.4h0M154.4 603.5h0M151.3 592.6h0M134.5 590.7h0" stroke="#102F4C" stroke-width="2.4" stroke-linecap="round"/>
<path d="M152.8 595.4h0M154.4 603.5h0M151.3 592.6h0M134.5 590.7h0" stroke="#22598A" stroke-width="1.6" stroke-linecap="round"/>
<path d="M131.6 605.5h0M156.7 599.1h0M145.1 589.2h0M153.2 587h0" stroke="#102F4C" stroke-width="2.4" stroke-linecap="round"/>
<path d="M131.6 605.5h0M156.7 599.1h0M145.1 589.2h0M153.2 587h0" stroke="#22598A" stroke-width="1.6" stroke-linecap="round"/>
<path d="M136.9 571.7h0M145.7 593.7h0M148.3 581.8h0M150.6 590.1h0" stroke="#102F4C" stroke-width="2.4" stroke-linecap="round"/>
<path d="M136.9 571.7h0M145.7 593.7h0M148.3 581.8h0M150.6 590.1h0" stroke="#22598A" stroke-width="1.6" stroke-linecap="round"/>
<path d="M146.6 577.3h0M131.6 581.7h0M137.9 594.8h0M155.4 592.4h0" stroke="#102F4C" stroke-width="2.4" stroke-linecap="round"/>
<path d="M146.6 577.3h0M131.6 581.7h0M137.9 594.8h0M155.4 592.4h0" stroke="#22598A" stroke-width="1.6" stroke-linecap="round"/>
<path d="M132.1 605.5h0M152.6 594.3h0M142.1 601.4h0M144.4 591h0" stroke="#102F4C" stroke-width="2.4" stroke-linecap="round"/>
<path d="M132.1 605.5h0M152.6 594.3h0M142.1 601.4h0M144.4 591h0" stroke="#22598A" stroke-width="1.6" stroke-linecap="round"/>
<path d="M147.2 586.7h0M136.8 585.8h0M138.5 588.1h0M151.4 592.8h0" stroke="#102F4C" stroke-width="2.4" stroke-linecap="round"/>
<path d="M147.2 586.7h0M136.8 585.8h0M138.5 588.1h0M151.4 592.8h0" stroke="#22598A" stroke-width="1.6" stroke-linecap="round"/>
<path d="M134.6 604.8h0M138.1 588.5h0M141.2 580.2h0M156 588.4h0" stroke="#102F4C" stroke-width="2.4" stroke-linecap="round"/>
<path d="M134.6 604.8h0M138.1 588.5h0M141.2 580.2h0M156 588.4h0" stroke="#22598A" stroke-width="1.6" stroke-linecap="round"/>
<path d="M141.8 574.7h0M131 590.9h0M144.3 568.4h0M135.8 570.8h0" stroke="#102F4C" stroke-width="2.4" stroke-linecap="round"/>
<path d="M141.8 574.7h0M131 590.9h0M144.3 568.4h0M135.8 570.8h0" stroke="#22598A" stroke-width="1.6" stroke-linecap="round"/>
<path d="M133.8 590.8h0M133 592.1h0M145.2 581.8h0M134 586.8h0" stroke="#102F4C" stroke-width="2.4" stroke-linecap="round"/>
<path d="M133.8 590.8h0M133 592.1h0M145.2 581.8h0M134 586.8h0" stroke="#22598A" stroke-width="1.6" stroke-linecap="round"/>
<path d="M146.7 590.7h0M147.6 591.4h0M135.1 579.4h0M154.3 586.8h0" stroke="#102F4C" stroke-width="2.4" stroke-linecap="round"/>
<path d="M146.7 590.7h0M147.6 591.4h0M135.1 579.4h0M154.3 586.8h0" stroke="#22598A" stroke-width="1.6" stroke-linecap="round"/>
<path d="M132.5 573.2h0M151.5 578.6h0M143 581.8h0M153.6 587h0" stroke="#102F4C" stroke-width="2.4" stroke-linecap="round"/>
<path d="M132.5 573.2h0M151.5 578.6h0M143 581.8h0M153.6 587h0" stroke="#22598A" stroke-width="1.6" stroke-linecap="round"/>
<path d="M148.2 593.1h0M149.2 585.7h0M141.4 584.6h0M153.1 588.1h0" stroke="#102F4C" stroke-width="2.4" stroke-linecap="round"/>
<path d="M148.2 593.1h0M149.2 585.7h0M141.4 584.6h0M153.1 588.1h0" stroke="#22598A" stroke-width="1.6" stroke-linecap="round"/>
<path d="M152.6 585.6h0M149.5 584h0M137.2 595.9h0M135.7 589.1h0" stroke="#102F4C" stroke-width="2.4" stroke-linecap="round"/>
<path d="M152.6 585.6h0M149.5 584h0M137.2 595.9h0M135.7 589.1h0" stroke="#22598A" stroke-width="1.6" stroke-linecap="round"/>
<path d="M150.4 593.6h0M157.2 576h0M148.3 580.3h0M136.8 583.8h0" stroke="#102F4C" stroke-width="2.4" stroke-linecap="round"/>
<path d="M150.4 593.6h0M157.2 576h0M148.3 580.3h0M136.8 583.8h0" stroke="#22598A" stroke-width="1.6" stroke-linecap="round"/>
<path d="M147.6 581.5h0M150.9 587.1h0M137.5 585.9h0M141.7 591.4h0" stroke="#102F4C" stroke-width="2.4" stroke-linecap="round"/>
<path d="M147.6 581.5h0M150.9 587.1h0M137.5 585.9h0M141.7 591.4h0" stroke="#22598A" stroke-width="1.6" stroke-linecap="round"/>
<path d="M148.2 599.4h0M152.4 583.1h0M143.8 588.5h0M148.6 591.3h0" stroke="#102F4C" stroke-width="2.4" stroke-linecap="round"/>
<path d="M148.2 599.4h0M152.4 583.1h0M143.8 588.5h0M148.6 591.3h0" stroke="#22598A" stroke-width="1.6" stroke-linecap="round"/>
<path d="M134.4 597.6h0M156.7 579h0M135 588.5h0M140.4 585.8h0" stroke="#102F4C" stroke-width="2.4" stroke-linecap="round"/>
<path d="M134.4 597.6h0M156.7 579h0M135 588.5h0M140.4 585.8h0" stroke="#22598A" stroke-width="1.6" stroke-linecap="round"/>
<path d="M143.7 592h0M154.7 597.3h0M132.6 581.9h0M138.3 584.7h0" stroke="#102F4C" stroke-width="2.4" stroke-linecap="round"/>
<path d="M143.7 592h0M154.7 597.3h0M132.6 581.9h0M138.3 584.7h0" stroke="#22598A" stroke-width="1.6" stroke-linecap="round"/>
<path d="M144.9 590.4h0M139.5 591.6h0M144.5 573.8h0M149.2 605.5h0" stroke="#102F4C" stroke-width="2.4" stroke-linecap="round"/>
<path d="M144.9 590.4h0M139.5 591.6h0M144.5 573.8h0M149.2 605.5h0" stroke="#22598A" stroke-width="1.6" stroke-linecap="round"/>
<path d="M133.1 584.6h0M144.8 584.1h0M155.7 587.9h0M152 591.7h0" stroke="#102F4C" stroke-width="2.4" stroke-linecap="round"/>
<path d="M133.1 584.6h0M144.8 584.1h0M155.7 587.9h0M152 591.7h0" stroke="#22598A" stroke-width="1.6" stroke-linecap="round"/>
<path d="M145.2 587.3h0M130.8 595.9h0M139 587.8h0M150.1 586.9h0" stroke="#102F4C" stroke-width="2.4" stroke-linecap="round"/>
<path d="M145.2 587.3h0M130.8 595.9h0M139 587.8h0M150.1 586.9h0" stroke="#22598A" stroke-width="1.6" stroke-linecap="round"/>
<path d="M151.7 583.7h0M148.7 590h0M131.4 599h0M139.4 588.6h0" stroke="#102F4C" stroke-width="2.4" stroke-linecap="round"/>
<path d="M151.7 583.7h0M148.7 590h0M131.4 599h0M139.4 588.6h0" stroke="#22598A" stroke-width="1.6" stroke-linecap="round"/>
<path d="M152.7 595.8h0M141.5 587.5h0M144.8 598.9h0M146.5 585.6h0" stroke="#102F4C" stroke-width="2.4" stroke-linecap="round"/>
<path d="M152.7 595.8h0M141.5 587.5h0M144.8 598.9h0M146.5 585.6h0" stroke="#22598A" stroke-width="1.6" stroke-linecap="round"/>
<path d="M142.4 570.9h0M157.3 582.3h0M144.2 585.7h0M151.5 586.5h0" stroke="#102F4C" stroke-width="2.4" stroke-linecap="round"/>
<path d="M142.4 570.9h0M157.3 582.3h0M144.2 585.7h0M151.5 586.5h0" stroke="#22598A" stroke-width="1.6" stroke-linecap="round"/>
<path d="M146.1 591.6h0M140.4 584.5h0M146.8 579.1h0M134.1 591.2h0" stroke="#102F4C" stroke-width="2.4" stroke-linecap="round"/>
<path d="M146.1 591.6h0M140.4 584.5h0M146.8 579.1h0M134.1 591.2h0" stroke="#22598A" stroke-width="1.6" stroke-linecap="round"/>
<path d="M149.8 585h0M143.9 598.3h0M146 588.9h0M144.9 591.1h0" stroke="#102F4C" stroke-width="2.4" stroke-linecap="round"/>
<path d="M149.8 585h0M143.9 598.3h0M146 588.9h0M144.9 591.1h0" stroke="#22598A" stroke-width="1.6" stroke-linecap="round"/>
<path d="M146.4 586h0M149 583.2h0M131 594.3h0M144.7 586.2h0" stroke="#102F4C" stroke-width="2.4" stroke-linecap="round"/>
<path d="M146.4 586h0M149 583.2h0M131 594.3h0M144.7 586.2h0" stroke="#22598A" stroke-width="1.6" stroke-linecap="round"/>
<path d="M138.5 579h0M155.4 591.3h0M152.4 586.3h0M155.8 585.1h0" stroke="#102F4C" stroke-width="2.4" stroke-linecap="round"/>
<path d="M138.5 579h0M155.4 591.3h0M152.4 586.3h0M155.8 585.1h0" stroke="#22598A" stroke-width="1.6" stroke-linecap="round"/>
<path d="M149.7 593h0M135.8 577.3h0M149.5 591.2h0M133.4 588.4h0" stroke="#102F4C" stroke-width="2.4" stroke-linecap="round"/>
<path d="M149.7 593h0M135.8 577.3h0M149.5 591.2h0M133.4 588.4h0" stroke="#22598A" stroke-width="1.6" stroke-linecap="round"/>
<path d="M139.3 587.5h0M155.8 587.4h0M144.2 582.3h0M139.4 582.1h0" stroke="#102F4C" stroke-width="2.4" stroke-linecap="round"/>
<path d="M139.3 587.5h0M155.8 587.4h0M144.2 582.3h0M139.4 582.1h0" stroke="#22598A" stroke-width="1.6" stroke-linecap="round"/>
<path d="M143.7 588.7h0M135.4 587.8h0M144.1 594.7h0M150.2 581.9h0" stroke="#102F4C" stroke-width="2.4" stroke-linecap="round"/>
<path d="M143.7 588.7h0M135.4 587.8h0M144.1 594.7h0M150.2 581.9h0" stroke="#22598A" stroke-width="1.6" stroke-linecap="round"/>
<path d="M145.6 594.1h0M145.2 600.7h0M155.4 576.8h0M156 597.5h0" stroke="#102F4C" stroke-width="2.4" stroke-linecap="round"/>
<path d="M145.6 594.1h0M145.2 600.7h0M155.4 576.8h0M156 597.5h0" stroke="#22598A" stroke-width="1.6" stroke-linecap="round"/>
<path d="M135.3 590.4h0M150.6 586.5h0M145.3 587.3h0M132.3 594.7h0" stroke="#102F4C" stroke-width="2.4" stroke-linecap="round"/>
<path d="M135.3 590.4h0M150.6 586.5h0M145.3 587.3h0M132.3 594.7h0" stroke="#22598A" stroke-width="1.6" stroke-linecap="round"/>
<path d="M155.1 575.1h0M134.9 594.6h0M157.3 590.3h0M156.1 594.7h0" stroke="#102F4C" stroke-width="2.4" stroke-linecap="round"/>
<path d="M155.1 575.1h0M134.9 594.6h0M157.3 590.3h0M156.1 594.7h0" stroke="#22598A" stroke-width="1.6" stroke-linecap="round"/>
<path d="M132.3 571.5h0M151.1 568.2h0M137.8 591.1h0M154.2 576.9h0" stroke="#102F4C" stroke-width="2.4" stroke-linecap="round"/>
<path d="M132.3 571.5h0M151.1 568.2h0M137.8 591.1h0M154.2 576.9h0" stroke="#22598A" stroke-width="1.6" stroke-linecap="round"/>
<path d="M152.1 590.4h0M155.6 585.5h0M134.6 577.8h0M134.5 574.7h0" stroke="#102F4C" stroke-width="2.4" stroke-linecap="round"/>
<path d="M152.1 590.4h0M155.6 585.5h0M134.6 577.8h0M134.5 574.7h0" stroke="#22598A" stroke-width="1.6" stroke-linecap="round"/>
<path d="M142 594.4h0M153 587h0M148.9 577.3h0M154.5 590.9h0" stroke="#102F4C" stroke-width="2.4" stroke-linecap="round"/>
<path d="M142 594.4h0M153 587h0M148.9 577.3h0M154.5 590.9h0" stroke="#22598A" stroke-width="1.6" stroke-linecap="round"/>
<path d="M147.5 577.7h0M142 590.7h0M152.8 578h0M131.5 587h0" stroke="#102F4C" stroke-width="2.4" stroke-linecap="round"/>
<path d="M147.5 577.7h0M142 590.7h0M152.8 578h0M131.5 587h0" stroke="#22598A" stroke-width="1.6" stroke-linecap="round"/>
<path d="M149.7 494.8h0M150.3 527.2h0M144.5 542.8h0M151.6 545.7h0" stroke="#102F4C" stroke-width="2.4" stroke-linecap="round"/>
<path d="M149.7 494.8h0M150.3 527.2h0M144.5 542.8h0M151.6 545.7h0" stroke="#22598A" stroke-width="1.6" stroke-linecap="round"/>
<path d="M132 560h0M135 562h0M141.6 557.5h0M143.5 560.4h0" stroke="#102F4C" stroke-width="2.4" stroke-linecap="round"/>
<path d="M132 560h0M135 562h0M141.6 557.5h0M143.5 560.4h0" stroke="#22598A" stroke-width="1.6" stroke-linecap="round"/>
<path d="M151.1 558.9h0M153.7 563.6h0M131.8 566.3h0M138.3 574h0" stroke="#102F4C" stroke-width="2.4" stroke-linecap="round"/>
<path d="M151.1 558.9h0M153.7 563.6h0M131.8 566.3h0M138.3 574h0" stroke="#22598A" stroke-width="1.6" stroke-linecap="round"/>
<path d="M136.6 608.6h0M156.2 605.7h0" stroke="#102F4C" stroke-width="2.4" stroke-linecap="round"/>
<path d="M136.6 608.6h0M156.2 605.7h0" stroke="#22598A" stroke-width="1.6" stroke-linecap="round"/>
<text class="pl" x="224.8" y="469.4">f</text>
<text x="323.9" y="502.8" text-anchor="end" font-size="8.75" class="t">Inframe variant</text>
<rect x="329.3" y="492.7" width="2.85" height="7.3" fill="#70AD47" stroke="#548235" stroke-width="0.5"/>
<rect x="329.3" y="500.4" width="8.62" height="7.3" fill="#5B9BD5" stroke="#41719C" stroke-width="0.5"/>
<text x="339.9" y="498.9" font-size="7.45" class="t">18000</text>
<text x="342.1" y="506.8" font-size="7.45" class="t">54414</text>
<text x="323.9" y="521.5" text-anchor="end" font-size="8.75" class="t">Upstream gene variant</text>
<rect x="329.3" y="511.4" width="6.90" height="7.3" fill="#70AD47" stroke="#548235" stroke-width="0.5"/>
<rect x="329.3" y="519.2" width="79.50" height="7.3" fill="#5B9BD5" stroke="#41719C" stroke-width="0.5"/>
<text x="341.1" y="517.4" font-size="7.45" class="t">43544</text>
<text x="414.3" y="525.1" font-size="7.45" class="t">501867</text>
<text x="323.9" y="540.2" text-anchor="end" font-size="8.75" class="t">Translation start &amp; stop variant</text>
<rect x="329.3" y="530.2" width="1.02" height="7.3" fill="#70AD47" stroke="#548235" stroke-width="0.5"/>
<rect x="329.3" y="537.9" width="1.31" height="7.3" fill="#5B9BD5" stroke="#41719C" stroke-width="0.5"/>
<text x="335.2" y="536.6" font-size="7.45" class="t">6430</text>
<text x="335.2" y="543.9" font-size="7.45" class="t">8279</text>
<text x="323.9" y="558.8" text-anchor="end" font-size="8.75" class="t">Synonymous variant</text>
<rect x="329.3" y="548.9" width="2.61" height="7.3" fill="#70AD47" stroke="#548235" stroke-width="0.5"/>
<rect x="329.3" y="556.7" width="5.23" height="7.3" fill="#5B9BD5" stroke="#41719C" stroke-width="0.5"/>
<text x="339.2" y="555.2" font-size="7.45" class="t">16453</text>
<text x="340.6" y="561.9" font-size="7.45" class="t">33048</text>
<text x="323.9" y="577.5" text-anchor="end" font-size="8.75" class="t">Missense variant</text>
<rect x="329.3" y="567.7" width="3.61" height="7.3" fill="#70AD47" stroke="#548235" stroke-width="0.5"/>
<rect x="329.3" y="575.4" width="8.32" height="7.3" fill="#5B9BD5" stroke="#41719C" stroke-width="0.5"/>
<text x="337.7" y="573.1" font-size="7.45" class="t">22804</text>
<text x="342.1" y="581.5" font-size="7.45" class="t">52494</text>
<text x="323.9" y="596.2" text-anchor="end" font-size="8.75" class="t">Splice region variant</text>
<rect x="329.3" y="586.4" width="0.97" height="7.3" fill="#70AD47" stroke="#548235" stroke-width="0.5"/>
<rect x="329.3" y="594.1" width="1.51" height="7.3" fill="#5B9BD5" stroke="#41719C" stroke-width="0.5"/>
<text x="335.2" y="592.9" font-size="7.45" class="t">6151</text>
<text x="335.8" y="599.9" font-size="7.45" class="t">9504</text>
<text x="323.9" y="614.9" text-anchor="end" font-size="8.75" class="t">Intron variant</text>
<rect x="329.3" y="605.1" width="4.11" height="7.3" fill="#70AD47" stroke="#548235" stroke-width="0.5"/>
<rect x="329.3" y="612.9" width="47.36" height="7.3" fill="#5B9BD5" stroke="#41719C" stroke-width="0.5"/>
<text x="337.7" y="611.8" font-size="7.45" class="t">25934</text>
<text x="381.5" y="619.1" font-size="7.45" class="t">298984</text>
<text x="323.9" y="633.6" text-anchor="end" font-size="8.75" class="t">Intergenic region variant</text>
<rect x="329.3" y="631.6" width="300.87" height="7.3" fill="#5B9BD5" stroke="#41719C" stroke-width="0.5"/>
<text x="330.4" y="630.4" font-size="7.45" class="t">0</text>
<text x="633.1" y="637.0" font-size="7.45" class="t">1899439</text>
<text x="323.9" y="652.2" text-anchor="end" font-size="8.75" class="t">Downstream gene variant</text>
<rect x="329.3" y="642.6" width="6.91" height="7.3" fill="#70AD47" stroke="#548235" stroke-width="0.5"/>
<rect x="329.3" y="650.4" width="78.07" height="7.3" fill="#5B9BD5" stroke="#41719C" stroke-width="0.5"/>
<text x="339.6" y="649.0" font-size="7.45" class="t">43613</text>
<text x="411.5" y="656.2" font-size="7.45" class="t">492842</text>
<text x="323.9" y="670.9" text-anchor="end" font-size="8.75" class="t">3'_UTR variant</text>
<rect x="329.3" y="661.4" width="1.61" height="7.3" fill="#70AD47" stroke="#548235" stroke-width="0.5"/>
<rect x="329.3" y="669.1" width="3.53" height="7.3" fill="#5B9BD5" stroke="#41719C" stroke-width="0.5"/>
<text x="335.6" y="667.5" font-size="7.45" class="t">10158</text>
<text x="338.1" y="675.1" font-size="7.45" class="t">22296</text>
<text x="323.9" y="689.6" text-anchor="end" font-size="8.75" class="t">5'_UTR variant</text>
<rect x="329.3" y="680.1" width="1.11" height="7.3" fill="#70AD47" stroke="#548235" stroke-width="0.5"/>
<rect x="329.3" y="687.8" width="2.60" height="7.3" fill="#5B9BD5" stroke="#41719C" stroke-width="0.5"/>
<text x="335.3" y="686.4" font-size="7.45" class="t">7037</text>
<text x="337.5" y="693.9" font-size="7.45" class="t">16424</text>
<path d="M326.7 489.2V696.7H669.3V489.2" fill="none" stroke="#505050" stroke-width="1.4"/>
<line x1="326.7" x2="669.3" y1="488.9" y2="488.9" stroke="#505050" stroke-width="1.3"/>
<line x1="329.3" x2="329.3" y1="696.7" y2="700.3" stroke="#595959" stroke-width="1"/>
<text x="329.3" y="711.6" text-anchor="middle" font-size="8.6" class="t">0</text>
<line x1="408.5" x2="408.5" y1="696.7" y2="700.3" stroke="#595959" stroke-width="1"/>
<text x="408.5" y="711.6" text-anchor="middle" font-size="8.6" class="t">500</text>
<line x1="487.7" x2="487.7" y1="696.7" y2="700.3" stroke="#595959" stroke-width="1"/>
<text x="487.7" y="711.6" text-anchor="middle" font-size="8.6" class="t">1000</text>
<line x1="566.9" x2="566.9" y1="696.7" y2="700.3" stroke="#595959" stroke-width="1"/>
<text x="566.9" y="711.6" text-anchor="middle" font-size="8.6" class="t">1500</text>
<line x1="646.1" x2="646.1" y1="696.7" y2="700.3" stroke="#595959" stroke-width="1"/>
<text x="646.1" y="711.6" text-anchor="middle" font-size="8.6" class="t">2000</text>
<text x="513.3" y="722" text-anchor="middle" font-size="8.7" class="t">Number (x1000)</text>
<rect x="557.5" y="499.5" width="5.8" height="5.2" fill="#70AD47" stroke="#548235" stroke-width="0.5"/>
<text x="566.4" y="505.6" font-size="8.75" class="t">Tagging-gene</text>
<rect x="629.7" y="499.5" width="5.4" height="5.2" fill="#5B9BD5" stroke="#41719C" stroke-width="0.5"/>
<text x="637.6" y="505.6" font-size="8.75" class="t">SNP</text>
</svg>
</body></html>
